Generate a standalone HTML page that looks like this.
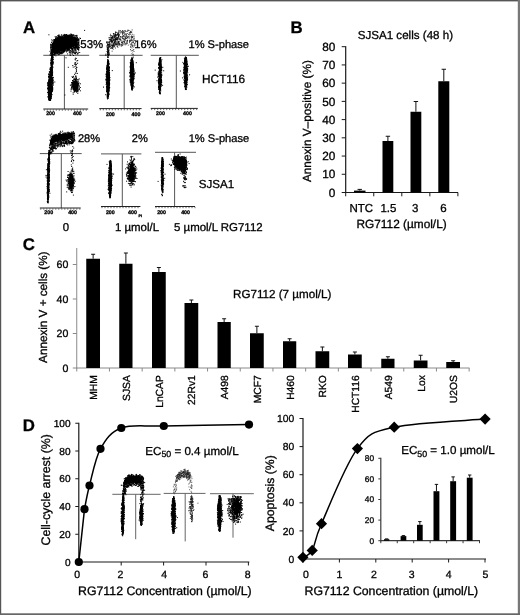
<!DOCTYPE html><html><head><meta charset="utf-8"><title>Figure</title>
<style>html,body{margin:0;padding:0;background:#fff}svg{display:block}text{font-family:'Liberation Sans', Arial, sans-serif;fill:#000;stroke:#000;stroke-width:0.3px;text-rendering:geometricPrecision}</style></head><body>
<svg width="520" height="615" viewBox="0 0 520 615">
<rect x="0" y="0" width="520" height="615" fill="#fff"/>
<rect x="0" y="0" width="520" height="1.4" fill="#555"/>
<rect x="0" y="0" width="1.2" height="615" fill="#555"/>
<rect x="517.8" y="0" width="2.2" height="615" fill="#777"/>
<rect x="0" y="613.3" width="520" height="1.7" fill="#666"/>
<text x="22.9" y="33" font-size="16.8" text-anchor="start" font-weight="bold">A</text>
<text x="290.4" y="32.8" font-size="16.8" text-anchor="start" font-weight="bold">B</text>
<text x="22.8" y="250.3" font-size="16.8" text-anchor="start" font-weight="bold">C</text>
<text x="22.8" y="431" font-size="16.8" text-anchor="start" font-weight="bold">D</text>
<text x="80.3" y="47.9" font-size="11.4" text-anchor="start">53%</text>
<text x="134.3" y="47.9" font-size="11.1" text-anchor="start">16%</text>
<text x="188.5" y="47.8" font-size="11.1" text-anchor="start">1% S-phase</text>
<text x="202.1" y="82.8" font-size="11.8" text-anchor="start">HCT116</text>
<text x="77.9" y="142.2" font-size="11.1" text-anchor="start">28%</text>
<text x="131.8" y="142.2" font-size="11.1" text-anchor="start">2%</text>
<text x="188.7" y="142.2" font-size="11.1" text-anchor="start">1% S-phase</text>
<text x="198.8" y="187.9" font-size="11.6" text-anchor="start">SJSA1</text>
<text x="138.6" y="217.3" font-size="3.6" text-anchor="start" font-weight="bold">PI</text>
<text x="66" y="231.3" font-size="11.4" text-anchor="middle">0</text>
<text x="114.9" y="231.3" font-size="11.45" text-anchor="start">1 µmol/L</text>
<text x="174.0" y="231.3" font-size="11.45" text-anchor="start">5 µmol/L RG7112</text>
<line x1="43.3" y1="55.3" x2="89.2" y2="55.3" stroke="#555" stroke-width="1"/>
<line x1="64.4" y1="55.3" x2="64.4" y2="109" stroke="#555" stroke-width="1"/>
<line x1="43.3" y1="109" x2="88.2" y2="109" stroke="#222" stroke-width="1"/>
<path d="M44.3 109.4v1.3M47.3 109.4v1.3M50.3 109.4v1.3M53.3 109.4v1.3M56.3 109.4v1.3M59.3 109.4v1.3M62.3 109.4v1.3M65.3 109.4v1.3M68.3 109.4v1.3M71.3 109.4v1.3M74.3 109.4v1.3M77.3 109.4v1.3M80.3 109.4v1.3M83.3 109.4v1.3M86.3 109.4v1.3" stroke="#222" stroke-width="0.7" fill="none"/>
<text x="50.6" y="114.6" font-size="5.3" text-anchor="middle" font-weight="bold">200</text>
<text x="77.4" y="114.6" font-size="5.3" text-anchor="middle" font-weight="bold">400</text>
<path d="M51.3 53.0L52.0 45.0L54.0 40.5L57.0 37.6L62.0 36.2L68.0 36.0L73.0 36.5L77.0 38.5L77.3 45.5L74.0 47.0L69.0 48.2L63.0 50.6L57.0 52.8Z" fill="#000" opacity="1"/>
<path d="M68.4 39.5h1M56.2 47.1h1M58.8 53.1h1M75.4 35.6h1M63.8 47.3h1M58.9 46.3h1M57.6 43.0h1M56.7 46.4h1M62.4 45.0h1M66.0 51.9h1M67.3 36.0h1M55.6 43.6h1M54.3 49.8h1M68.6 39.9h1M51.0 52.1h1M63.8 34.4h1M63.5 40.3h1M76.6 45.1h1M64.5 39.6h1M62.9 51.7h1M56.4 39.7h1M55.3 45.4h1M70.7 48.6h1M55.9 52.3h1M60.2 52.5h1M53.9 47.2h1M57.6 42.6h1M74.6 44.2h1M71.9 37.2h1M64.2 50.1h1M64.5 41.2h1M75.0 46.5h1M59.9 45.1h1M66.9 37.2h1M51.0 50.4h1M60.7 49.1h1M59.3 37.1h1M54.2 40.0h1M61.3 53.9h1M66.6 44.8h1M66.7 42.8h1M68.5 44.3h1M69.3 37.2h1M54.7 44.8h1M62.6 39.3h1M56.9 38.0h1M60.7 42.8h1M77.7 44.0h1M56.7 49.4h1M69.1 47.2h1M69.1 47.9h1M53.4 52.6h1M74.0 43.1h1M76.2 40.7h1M66.8 45.1h1M54.0 55.1h1M55.0 46.8h1M77.7 45.1h1M66.2 50.7h1M54.9 40.2h1M68.4 35.3h1M67.2 39.9h1M60.9 38.1h1M61.4 39.7h1M56.9 53.8h1M75.7 40.2h1M62.5 45.9h1M64.9 48.5h1M59.5 50.5h1M71.7 42.9h1M61.1 52.0h1M78.5 39.4h1M68.9 44.9h1M64.3 49.3h1M75.1 46.5h1M59.5 45.2h1M67.3 49.5h1M70.0 48.1h1M59.8 41.3h1M65.0 36.2h1M71.8 39.3h1M53.9 47.2h1M73.6 43.2h1M53.6 54.3h1M61.7 46.6h1M73.2 45.8h1M50.8 51.0h1M68.8 47.0h1M72.7 48.9h1M64.9 37.8h1M70.1 47.2h1M55.8 43.0h1M60.1 37.3h1M54.3 44.2h1M59.2 40.3h1M66.3 37.2h1M77.2 40.7h1M63.2 44.6h1M77.5 39.0h1M64.2 38.6h1M65.3 42.4h1M71.8 34.9h1M76.0 46.7h1M61.4 41.8h1M76.3 39.4h1M62.7 40.5h1M57.4 50.2h1M72.8 47.5h1M70.4 34.8h1M70.7 35.5h1M68.5 48.8h1M78.1 49.5h1M59.2 41.0h1M61.6 52.0h1M55.6 39.2h1M55.9 37.0h1M76.3 48.0h1M74.2 36.9h1M67.6 50.3h1M62.5 45.2h1M67.4 47.8h1M68.0 49.2h1M59.0 46.6h1M77.6 38.6h1M63.8 49.0h1M68.0 36.6h1M68.9 40.5h1M54.9 43.1h1M61.3 36.9h1M71.7 48.4h1M71.2 42.3h1M53.2 42.8h1M76.0 38.6h1M74.2 44.8h1M75.1 47.0h1M50.9 53.0h1M49.9 55.3h1M57.5 50.2h1M56.9 52.1h1M54.6 48.1h1M65.9 40.5h1M51.1 47.9h1M69.0 45.0h1M58.5 51.6h1M65.3 34.7h1M68.9 49.0h1M67.4 37.3h1M55.1 45.4h1M65.8 48.8h1M72.7 44.7h1M74.6 47.8h1M50.3 44.2h1M59.4 36.0h1M59.1 37.3h1M53.5 52.4h1M68.0 49.5h1M58.4 46.3h1M75.0 46.5h1M73.0 45.4h1M53.7 49.9h1M72.2 41.4h1M75.2 44.3h1M55.6 44.4h1M66.3 48.0h1M69.3 38.6h1M67.4 35.0h1M68.5 38.2h1M74.5 49.8h1M59.5 44.0h1M70.8 37.0h1M74.9 43.9h1M54.4 45.4h1M68.8 42.5h1M55.0 38.1h1M67.2 48.1h1M77.1 44.2h1M60.8 41.2h1M57.3 39.6h1M63.4 49.6h1M67.9 41.2h1M52.2 45.8h1M60.5 39.7h1M54.0 49.5h1M69.5 43.1h1M74.2 44.6h1M60.5 48.9h1M65.6 50.0h1M56.2 42.6h1M57.2 52.2h1M60.0 41.9h1M51.5 53.0h1M71.4 48.5h1M58.2 46.6h1M52.6 50.1h1M71.8 37.3h1M53.8 54.6h1M53.7 51.4h1M76.3 47.1h1M58.0 50.0h1M58.6 37.1h1M68.0 41.2h1M62.8 50.3h1M75.9 44.5h1M59.9 42.8h1M70.4 37.0h1M71.1 47.9h1M70.2 42.2h1M55.8 37.0h1M57.8 52.3h1M65.2 49.1h1M71.7 49.8h1M52.5 45.6h1M54.7 45.5h1M72.8 42.3h1M74.1 40.5h1M72.8 38.1h1M61.2 37.9h1M68.5 46.8h1M54.8 40.8h1M70.9 38.6h1M71.2 36.2h1M70.7 41.2h1M62.6 50.9h1M61.7 43.9h1M50.0 47.9h1M73.3 35.4h1M66.1 40.8h1M60.6 53.3h1M61.2 38.5h1M76.1 44.2h1M61.1 38.5h1M54.3 44.3h1M53.3 42.8h1M71.3 36.0h1M53.3 46.2h1M78.1 46.2h1M52.8 49.0h1M54.8 45.2h1M66.0 41.5h1M62.0 39.8h1M71.4 40.8h1M75.9 39.6h1M56.4 54.2h1M51.9 49.8h1M63.3 50.2h1M59.2 46.9h1M59.2 38.1h1M69.9 47.4h1M62.5 49.7h1M51.5 49.7h1M78.8 45.0h1M56.7 46.5h1M61.2 47.7h1M56.1 40.8h1M53.1 54.1h1M50.3 47.7h1M53.7 40.3h1M54.3 53.5h1M74.6 35.7h1M63.0 45.8h1M69.5 37.5h1M57.8 50.6h1M64.7 36.1h1M57.2 41.9h1M64.1 37.9h1M65.7 35.5h1M60.7 41.0h1M75.3 48.6h1M55.2 48.8h1M53.0 54.9h1M78.3 47.9h1M56.5 50.9h1M64.2 36.2h1M64.8 50.3h1M76.0 46.7h1M67.4 45.8h1M56.5 50.1h1M63.8 41.9h1M71.3 36.4h1M73.9 45.0h1M71.8 36.2h1M74.3 45.3h1M69.5 39.0h1M58.6 48.2h1M54.3 41.0h1M54.0 42.6h1M66.9 40.8h1M53.6 49.8h1M63.9 40.3h1M52.0 43.5h1M78.0 47.6h1M66.8 35.4h1M73.4 39.4h1M57.8 36.4h1M70.3 38.8h1M68.6 45.3h1M77.8 41.1h1M61.7 39.3h1M69.8 45.5h1M73.9 47.9h1M59.7 48.9h1M55.6 40.7h1M66.4 36.3h1M72.2 43.7h1M71.2 34.8h1M50.1 53.4h1M77.7 47.4h1M63.5 43.7h1M61.7 36.5h1M64.5 44.8h1M70.6 38.3h1M52.2 54.6h1M50.9 45.1h1M62.2 40.0h1M67.7 48.6h1M65.1 38.1h1M52.3 47.2h1M66.9 35.5h1M55.3 49.6h1M75.3 42.0h1M55.9 49.1h1M63.0 50.7h1M70.5 46.7h1M73.4 48.2h1M73.2 36.2h1M69.0 39.6h1M68.5 41.6h1M61.1 39.0h1M65.5 38.0h1M61.3 53.1h1M71.7 35.4h1M61.0 38.0h1M63.7 50.0h1M71.4 39.7h1M64.7 39.9h1M61.1 44.1h1M73.7 37.2h1M72.1 40.1h1M60.7 49.8h1M75.0 41.9h1M66.5 48.9h1M65.9 40.8h1M69.2 36.2h1M69.3 35.0h1M66.8 41.1h1M61.3 52.6h1M54.7 53.1h1M58.3 49.0h1M57.9 50.1h1M61.7 37.8h1M60.2 53.1h1M59.7 43.3h1M66.6 51.3h1M61.1 40.9h1M56.6 48.0h1M75.7 42.7h1M64.2 44.0h1M70.5 44.7h1M58.7 50.0h1M65.0 48.7h1M55.9 52.8h1M61.5 37.7h1M73.7 39.6h1M74.0 47.7h1M72.3 44.2h1M63.5 38.4h1M60.3 47.8h1M55.1 52.3h1M58.9 52.7h1M69.3 43.4h1M71.8 39.6h1M51.1 52.1h1M62.1 42.6h1M70.7 39.7h1M57.1 51.9h1M60.6 41.5h1M57.5 42.2h1M63.6 43.7h1M64.7 45.5h1M68.3 38.4h1M55.0 39.8h1M77.4 40.1h1M58.5 39.9h1M58.6 45.2h1M57.5 35.6h1M51.7 50.3h1M61.4 38.0h1M72.0 43.9h1M70.9 46.7h1M55.3 38.1h1M54.0 43.6h1M59.0 45.5h1M71.6 46.2h1M69.2 36.6h1M71.9 46.0h1M70.8 48.4h1M60.4 38.7h1M57.1 45.1h1M62.2 48.6h1M62.9 51.5h1M53.6 52.3h1M62.7 39.0h1M52.7 46.9h1M53.5 48.3h1M53.7 52.6h1M58.3 42.6h1M50.4 53.0h1M55.4 51.3h1M55.2 42.2h1M63.2 45.2h1M61.9 49.9h1M54.8 53.1h1M57.1 37.9h1M54.1 48.8h1M67.9 35.5h1M61.5 44.8h1M74.4 39.8h1M76.1 40.7h1M68.3 45.4h1M69.0 47.2h1M66.9 42.5h1M56.2 49.1h1M75.4 38.9h1M59.4 53.0h1M50.8 54.0h1M75.0 47.9h1M67.7 46.2h1M68.8 42.8h1M69.4 42.0h1M65.9 45.4h1M77.0 38.8h1M67.5 42.8h1M59.7 45.3h1M64.5 35.9h1M70.8 40.4h1M69.5 46.9h1M61.6 51.2h1M74.3 47.6h1M70.6 47.7h1M58.6 47.8h1M53.2 42.0h1M54.5 52.4h1M58.3 54.2h1M61.8 38.7h1M57.9 54.7h1M70.1 47.0h1M61.3 47.1h1M72.8 39.4h1M56.8 43.4h1M54.1 48.8h1M73.0 39.7h1M69.0 49.2h1M56.6 39.7h1M56.7 49.8h1M57.7 42.7h1M53.7 47.1h1M64.1 36.7h1M50.4 48.8h1M74.2 47.1h1M52.1 53.4h1M59.1 47.3h1M67.4 42.8h1M62.8 49.8h1M75.2 39.2h1M58.6 47.8h1M72.2 48.7h1M68.6 45.9h1M71.1 40.0h1M70.3 38.4h1M61.4 40.7h1M78.1 39.6h1M70.0 45.7h1M54.8 46.3h1M57.9 51.7h1M63.4 44.3h1M57.8 37.1h1M55.4 46.7h1M57.7 40.2h1M54.8 51.6h1M63.0 43.3h1M55.2 39.0h1M77.3 47.9h1M57.4 47.4h1M67.0 41.8h1M63.8 37.9h1M51.9 52.8h1M52.9 50.6h1M73.0 47.1h1M67.2 47.1h1M74.8 40.9h1M75.3 44.6h1M65.0 45.6h1M60.0 53.1h1M51.1 42.7h1M56.9 51.7h1M63.7 50.4h1M62.4 46.3h1M58.0 43.8h1M61.4 40.4h1M54.5 48.0h1M51.4 42.1h1M66.5 42.9h1M77.2 42.2h1M66.0 38.8h1M68.7 35.8h1M58.6 35.2h1M66.6 47.9h1M71.5 40.2h1M66.3 44.1h1M66.1 47.0h1M55.0 51.7h1M66.5 50.1h1M68.0 42.5h1M54.0 44.4h1M70.8 38.2h1M61.4 35.0h1M57.1 53.5h1M59.8 43.4h1M65.6 44.9h1M66.2 39.2h1M53.3 54.4h1M73.4 42.6h1M77.5 40.0h1M56.5 45.1h1M54.4 44.1h1M59.4 38.6h1M54.4 47.5h1M63.5 50.4h1M76.5 44.2h1M51.7 47.7h1M53.9 48.4h1M63.7 35.5h1M65.1 40.1h1M62.7 41.8h1M53.7 53.8h1M60.2 45.0h1M79.3 38.1h1M73.2 41.6h1M58.1 43.5h1M73.4 44.4h1M74.7 44.9h1M63.5 40.3h1M64.6 35.1h1M54.0 49.5h1M54.0 44.4h1M58.8 49.0h1M54.8 42.0h1M53.5 45.4h1M60.1 40.9h1M67.5 35.9h1M50.9 52.7h1M58.7 41.6h1M70.6 36.5h1M57.3 46.7h1M61.8 52.0h1M71.5 47.9h1M61.4 37.5h1M75.1 42.5h1M76.8 40.2h1M57.0 43.7h1M62.7 52.1h1M53.7 39.6h1M70.1 38.4h1M63.2 45.0h1M54.3 46.9h1M53.9 53.4h1M76.6 41.9h1M53.2 47.7h1M59.2 45.4h1M76.5 35.4h1M66.9 40.7h1M66.5 48.9h1M63.6 36.6h1M65.9 37.4h1M72.0 48.3h1M69.0 49.1h1M54.1 49.3h1M73.5 48.0h1M62.1 46.3h1M76.3 36.4h1M57.0 49.8h1M63.3 38.2h1M78.5 45.4h1M77.0 40.4h1M60.9 43.4h1M61.4 48.4h1M61.0 44.0h1M71.6 40.3h1M63.8 51.6h1M61.3 47.7h1M60.6 43.5h1M62.4 53.0h1M54.0 48.8h1M51.4 55.7h1M71.4 48.4h1M70.0 46.1h1M72.2 49.4h1M56.2 52.0h1M58.2 44.5h1M58.4 47.5h1M72.1 35.7h1M60.7 51.0h1M58.9 49.1h1M55.1 41.7h1M52.2 44.8h1M71.7 43.0h1M58.2 51.8h1M68.2 43.2h1M61.1 40.6h1M66.2 39.3h1M56.2 42.9h1M60.2 37.7h1M70.0 35.7h1M56.6 48.7h1M54.5 40.5h1M57.7 39.8h1M67.7 48.4h1M51.6 46.0h1M63.9 38.3h1M67.9 38.7h1M69.9 47.7h1M59.0 48.2h1M59.2 41.9h1M51.7 44.6h1M55.9 51.8h1M59.3 48.5h1M51.5 46.7h1M76.8 48.3h1M62.6 44.4h1M56.2 50.0h1M70.4 38.5h1M57.0 52.5h1M78.2 42.6h1M52.6 46.1h1M59.0 36.7h1M50.1 50.0h1M55.8 48.6h1M53.0 52.6h1M68.8 44.7h1M75.3 39.2h1M59.9 47.0h1M59.9 51.7h1M73.1 34.8h1M69.2 47.3h1M65.7 43.2h1M67.9 43.5h1M52.6 51.7h1M56.5 53.3h1M68.0 37.5h1M64.7 46.6h1M49.7 54.7h1M75.8 35.4h1M51.6 44.7h1M54.2 42.5h1M69.7 42.9h1M73.3 40.0h1M73.3 40.2h1M63.2 39.9h1M50.2 46.7h1M74.9 44.2h1M56.4 48.2h1M61.6 41.3h1M59.8 53.1h1M64.3 42.5h1M63.0 51.7h1M55.7 43.2h1M71.1 43.2h1M64.1 47.2h1M75.1 37.4h1M76.2 45.1h1M58.8 36.9h1M57.6 39.1h1M77.3 46.6h1M66.9 45.4h1M64.8 41.9h1M64.0 50.2h1M62.5 49.3h1M77.5 47.0h1M78.0 47.1h1M53.0 47.3h1M53.9 49.2h1M67.2 36.4h1M55.6 43.9h1M69.7 46.6h1M63.2 39.0h1M78.0 42.7h1M65.2 35.3h1M62.8 38.2h1M56.7 42.6h1M49.5 51.4h1M66.0 45.7h1M60.9 35.0h1M64.6 39.0h1M58.4 47.8h1M69.1 39.2h1M55.0 39.1h1M76.3 47.6h1M77.1 45.3h1M64.1 40.2h1M62.8 46.1h1M74.9 47.5h1M73.2 39.2h1M58.6 40.3h1M58.4 35.0h1M66.9 41.9h1M76.3 38.6h1M50.8 49.9h1M65.7 36.5h1M60.3 52.7h1M59.4 49.2h1M57.5 52.8h1M67.4 40.0h1M51.8 50.6h1M68.8 35.3h1M77.8 44.2h1M77.8 44.7h1M54.8 45.7h1M55.2 43.8h1M75.5 42.6h1M67.7 49.5h1M65.7 42.7h1M55.4 42.6h1M64.5 50.6h1M58.1 36.1h1M53.2 50.8h1M53.1 47.5h1M74.1 44.2h1M77.2 49.4h1M54.2 43.3h1M57.8 43.5h1M66.3 43.8h1M61.7 51.1h1M61.7 38.9h1M56.1 44.3h1M58.9 52.4h1M61.1 53.0h1M63.1 49.0h1M75.9 46.2h1M57.0 45.6h1M70.7 47.5h1M58.8 44.5h1M76.0 42.3h1M61.2 39.0h1M64.3 35.7h1M75.9 42.8h1M69.5 50.2h1M52.0 45.9h1M59.0 54.0h1M77.7 47.7h1M54.7 43.2h1M55.8 51.7h1M64.2 34.7h1M67.7 45.8h1M59.0 41.0h1M52.7 42.4h1M73.2 45.2h1M73.4 35.3h1M53.9 48.9h1M64.1 36.6h1M67.2 49.9h1M61.8 45.6h1M75.5 48.0h1M61.1 49.8h1M71.2 44.7h1M71.0 38.4h1M56.8 43.7h1M78.5 41.2h1M61.6 45.2h1M61.6 35.8h1M72.0 49.6h1M54.5 44.2h1M70.3 35.2h1M63.6 44.6h1M57.8 36.9h1M76.6 46.4h1M58.6 36.5h1M61.9 37.8h1M77.1 48.4h1M77.2 48.3h1M64.6 40.2h1M65.6 46.7h1M56.1 41.6h1M60.5 37.1h1M58.6 46.6h1M67.3 49.9h1M74.3 49.0h1M77.1 44.6h1M59.1 40.8h1M65.8 34.9h1M61.3 48.3h1M78.3 43.2h1M53.8 54.1h1M75.1 39.5h1M57.7 49.8h1M58.2 53.7h1M75.4 39.5h1M51.8 54.1h1M53.6 42.2h1M71.3 48.4h1M53.4 46.3h1M64.7 46.5h1M57.6 35.6h1M65.9 46.3h1M71.0 40.2h1M75.3 41.8h1M77.8 47.9h1M62.5 49.4h1M71.9 38.3h1M51.3 39.8h1M66.1 37.4h1M72.6 42.6h1M75.3 42.9h1M51.2 45.0h1M70.8 44.2h1M55.4 44.5h1M57.4 43.1h1M58.7 49.2h1M66.8 40.1h1M68.4 38.1h1M77.3 42.8h1M55.5 43.5h1M59.8 44.3h1M66.3 37.1h1M64.3 42.2h1M68.8 41.3h1M58.8 51.2h1M51.3 49.3h1M63.2 35.3h1M75.7 43.4h1M67.0 50.2h1M50.4 45.5h1M62.9 48.3h1M67.2 48.5h1M67.5 46.0h1M59.0 43.1h1M66.9 39.3h1M75.7 47.2h1M64.3 47.1h1M73.4 39.8h1M78.3 42.9h1M57.6 39.5h1M53.6 45.1h1M74.3 41.7h1M58.1 36.5h1M75.2 50.0h1M68.3 48.3h1M51.2 51.5h1M77.3 39.4h1M74.5 45.3h1M59.0 47.8h1M53.4 40.8h1M75.4 36.9h1M63.3 52.4h1M64.0 44.3h1M57.4 43.5h1M61.8 53.1h1M67.3 46.3h1M75.8 43.8h1M53.6 40.9h1M63.7 49.8h1M64.1 38.7h1M52.5 49.4h1M64.4 51.4h1M76.2 44.9h1M61.0 39.3h1M57.6 46.8h1M58.5 40.7h1M55.4 54.0h1M69.6 35.8h1M58.5 36.4h1M75.2 42.4h1M76.8 49.1h1M57.1 49.5h1M60.8 50.4h1M76.8 43.6h1M72.2 45.0h1M70.5 33.9h1M76.5 46.4h1M77.8 40.0h1M70.5 40.0h1M75.2 42.0h1M59.7 37.0h1M52.9 48.1h1M71.7 45.2h1M61.3 42.2h1M78.8 47.3h1M64.7 40.0h1M58.7 44.1h1M60.0 39.2h1M59.4 54.3h1M52.5 45.1h1M76.8 37.4h1M55.0 47.2h1M76.3 47.3h1M65.9 35.3h1M69.5 35.0h1M71.1 44.3h1M64.1 47.4h1M64.5 36.0h1M68.7 42.1h1M51.3 47.2h1M56.0 47.3h1M76.1 43.1h1M53.7 48.8h1M64.8 39.6h1M55.5 39.4h1M61.6 42.9h1M65.3 49.3h1M70.9 41.4h1M77.3 42.0h1M59.9 38.5h1M78.3 40.5h1M54.7 41.5h1M64.1 51.2h1M70.4 39.7h1M61.2 50.1h1M62.7 39.3h1M62.1 38.0h1M60.6 39.7h1M64.3 36.8h1M58.1 42.5h1M57.4 45.0h1M53.4 48.1h1M63.0 35.3h1M59.2 38.0h1M74.3 37.4h1M73.4 40.5h1M59.6 38.3h1M75.6 42.4h1M59.6 36.9h1M65.7 47.8h1M78.4 47.3h1M53.3 42.2h1M77.9 43.2h1M69.5 40.6h1M74.9 44.6h1M59.5 52.7h1M70.1 47.1h1M58.3 49.2h1M64.6 40.2h1M69.3 39.0h1M55.3 39.1h1M51.1 52.8h1M58.9 51.5h1M68.7 43.5h1M51.1 50.3h1M69.0 37.3h1M65.7 48.3h1M67.3 35.5h1M56.0 53.1h1M67.1 37.9h1M68.5 43.1h1M54.7 36.7h1M66.0 34.6h1M59.3 36.8h1M55.6 47.1h1M73.5 50.7h1M56.0 46.4h1M62.5 42.0h1M60.0 48.2h1M75.4 42.3h1M60.9 42.0h1M72.1 49.7h1M57.5 44.2h1M64.7 39.0h1M57.3 45.9h1M56.5 43.8h1M56.7 44.6h1M54.2 47.6h1M76.3 37.2h1M68.3 37.9h1M69.4 40.7h1M50.6 47.0h1M60.0 46.4h1M74.3 48.2h1M68.7 38.4h1M71.7 42.2h1M64.5 37.8h1M55.3 49.4h1M75.6 45.1h1M57.0 39.3h1M55.4 39.7h1M50.0 44.8h1M69.1 40.3h1M61.8 38.0h1M65.2 49.0h1M54.1 52.4h1M58.7 45.5h1M54.1 54.4h1M60.4 44.5h1M65.0 38.4h1M55.1 43.6h1M72.2 44.6h1M73.8 39.0h1M67.1 43.7h1M70.1 47.5h1M56.6 37.2h1M73.6 43.3h1M68.7 47.0h1M54.6 40.0h1M71.1 46.6h1M71.0 38.7h1M66.0 45.2h1M63.5 45.0h1M51.6 46.1h1M56.7 39.7h1M80.0 38.5h1M62.5 50.6h1M68.4 50.4h1M53.7 51.0h1M66.6 45.6h1M78.5 48.1h1M61.7 46.9h1M58.1 51.9h1M54.5 48.2h1M58.7 50.5h1M76.4 39.5h1M64.6 48.3h1M68.4 39.4h1M71.8 43.3h1M50.3 52.2h1M55.1 53.1h1M51.8 50.7h1M54.9 54.2h1M69.7 47.5h1M53.6 39.6h1M63.1 49.3h1M61.1 47.7h1M71.0 47.0h1M69.4 47.1h1M52.4 45.0h1M70.9 48.1h1M62.6 38.5h1M57.6 44.4h1M64.7 46.9h1M53.7 39.9h1M70.2 47.0h1M69.5 35.8h1M56.9 51.8h1M59.8 37.7h1M61.0 40.1h1M57.4 52.3h1M76.6 37.4h1M63.6 38.3h1M64.5 46.7h1M70.0 50.7h1M60.9 45.0h1M71.9 50.0h1M67.0 39.1h1M75.5 41.7h1M60.2 44.4h1M62.7 41.0h1M57.1 38.5h1M55.4 55.8h1M53.9 52.2h1M63.4 43.4h1M61.3 51.8h1M71.2 34.5h1M71.8 44.4h1M65.8 40.0h1M77.8 52.2h1M69.8 55.5h1M78.0 49.4h1M75.0 53.0h1M74.5 49.6h1M77.9 49.4h1M72.6 51.4h1M68.6 51.1h1M68.8 52.3h1M71.2 51.4h1M75.4 49.9h1M73.4 52.5h1M75.4 50.9h1M71.4 53.1h1M74.5 53.4h1M74.8 53.5h1M73.0 55.5h1M69.6 54.4h1M71.1 49.8h1M76.2 52.3h1M70.0 51.9h1M78.1 49.5h1M69.0 51.0h1M70.5 52.3h1M77.5 53.2h1M73.7 51.8h1M74.8 52.7h1M77.1 53.9h1M72.0 52.8h1M72.4 52.1h1M73.4 50.3h1M69.7 53.2h1M69.4 52.7h1M75.3 51.1h1M79.2 52.5h1M78.2 50.3h1M71.8 54.2h1M75.4 54.1h1M77.3 53.9h1M71.7 50.7h1M75.9 52.3h1M72.4 51.7h1M67.1 53.9h1M73.5 52.5h1M73.7 53.6h1M51.7 62.1h1M50.4 75.5h1M52.0 61.5h1M51.9 54.6h1M50.9 79.1h1M52.2 61.9h1M50.5 71.7h1M50.7 78.5h1M51.6 54.8h1M50.4 76.6h1M52.6 59.0h1M52.0 63.7h1M50.0 69.8h1M51.2 78.5h1M50.8 68.4h1M50.9 81.6h1M51.1 71.8h1M51.2 65.9h1M51.8 57.8h1M51.0 77.7h1M51.6 59.8h1M50.8 75.4h1M51.6 57.8h1M51.8 62.8h1M50.3 74.2h1M51.1 70.3h1M50.6 80.1h1M50.8 70.4h1M51.9 61.7h1M50.3 70.3h1M50.7 74.7h1M50.5 73.8h1M50.8 80.5h1M50.8 70.9h1M50.9 75.4h1M51.9 55.8h1M50.3 65.0h1M51.3 73.1h1M51.6 54.4h1M51.4 60.4h1M51.0 71.8h1M51.6 70.4h1M51.7 68.9h1M52.4 67.6h1M51.1 73.8h1M51.5 57.2h1M51.1 63.7h1M51.0 79.0h1M51.4 78.7h1M51.9 56.5h1M50.6 76.4h1M50.8 79.9h1M51.7 60.6h1M51.7 57.7h1M50.6 73.0h1M49.7 71.4h1M51.0 64.9h1M52.1 64.7h1M51.5 65.4h1M50.3 61.0h1M51.2 68.1h1M50.2 81.1h1M51.3 80.4h1M51.0 75.9h1M50.3 71.4h1M51.9 63.5h1M50.5 77.3h1M51.3 73.3h1M50.7 79.9h1M50.8 62.2h1M51.9 61.4h1M50.2 78.8h1M52.3 60.8h1M50.6 81.3h1M50.8 63.7h1M50.7 59.0h1M51.5 77.3h1M51.1 59.5h1M51.0 59.3h1M52.5 63.9h1M51.0 74.1h1M50.6 80.7h1M51.0 71.4h1M51.2 64.0h1M52.9 77.4h1M50.7 80.9h1M50.5 60.5h1M52.7 59.6h1M51.8 69.2h1M50.3 78.8h1M50.2 62.7h1M50.8 64.0h1M50.8 77.3h1M51.5 67.2h1M51.1 73.1h1M51.7 53.6h1M50.6 70.9h1M52.1 59.2h1M51.2 68.1h1M52.8 62.0h1M51.1 60.3h1M52.0 57.2h1M51.5 62.8h1M51.1 61.8h1M51.0 67.7h1M51.7 58.6h1M50.5 71.6h1M50.7 77.2h1M51.6 73.4h1M50.4 68.3h1M52.3 58.0h1M51.4 73.0h1M50.7 78.2h1M52.3 56.4h1M52.5 63.2h1M51.6 68.5h1M51.5 65.3h1M52.2 72.0h1M50.2 70.5h1M51.1 60.2h1M51.1 68.3h1M50.6 81.9h1M51.0 66.9h1M50.5 63.0h1M52.1 55.8h1M51.7 57.7h1M50.8 78.7h1M51.9 72.3h1M51.0 64.7h1M51.2 67.3h1M51.8 58.5h1M51.0 66.2h1M51.3 65.0h1M51.3 75.0h1M51.2 69.1h1M52.2 66.4h1M51.3 58.5h1M51.5 65.3h1M50.2 72.7h1M50.7 79.2h1M51.6 55.2h1M52.3 64.0h1M52.0 57.9h1M51.6 67.7h1M51.2 80.4h1M51.1 80.3h1M51.5 72.4h1M51.4 57.5h1M50.5 63.8h1M51.2 67.1h1M51.7 55.2h1M50.6 74.0h1M50.7 76.0h1M50.2 80.3h1M51.3 79.1h1M50.5 68.0h1M50.7 69.5h1M51.1 76.3h1M50.2 81.2h1M51.7 71.3h1M51.6 72.3h1M51.7 55.9h1M50.5 67.9h1M50.6 77.5h1M49.9 74.5h1M51.4 57.9h1M50.8 77.1h1M50.5 75.3h1M51.3 57.0h1M51.3 74.2h1M52.4 59.5h1M50.7 62.9h1M50.5 78.7h1M50.1 67.6h1M51.5 71.4h1M50.7 80.0h1M51.0 81.8h1M51.7 56.7h1M50.5 81.7h1M50.5 80.0h1M52.0 62.1h1M50.0 71.5h1M51.4 74.5h1M51.0 76.2h1M51.4 59.4h1M50.6 69.7h1M52.2 56.2h1M52.5 57.2h1M51.7 54.5h1M51.8 61.1h1M52.6 62.3h1M50.7 71.3h1M50.9 73.0h1M50.4 81.5h1M50.8 76.0h1M51.7 55.8h1M51.8 53.5h1M50.5 74.7h1M51.2 55.8h1M50.4 67.2h1M50.4 78.3h1M51.9 62.5h1M50.6 77.9h1M50.4 79.0h1M51.8 64.0h1M51.9 57.8h1M50.8 66.3h1M51.0 64.5h1M52.6 57.4h1M51.7 62.5h1M51.0 61.2h1M51.8 58.2h1M51.0 73.5h1M51.9 70.0h1M51.6 53.9h1M51.7 69.7h1M51.8 59.9h1M51.7 53.2h1M50.8 81.6h1M51.6 72.2h1M50.5 65.0h1M51.2 81.0h1M51.1 58.2h1M50.5 70.9h1M51.6 57.1h1M51.5 72.8h1M52.0 57.5h1M52.5 62.8h1M52.0 70.4h1M51.0 76.9h1M51.4 77.6h1M52.1 75.5h1M51.8 57.8h1M49.7 68.1h1M51.2 62.7h1M51.3 56.6h1M51.3 68.3h1M50.7 79.5h1M50.6 63.4h1M51.5 54.9h1M50.6 80.5h1M51.2 66.7h1M51.2 54.6h1M52.0 66.7h1M51.6 59.9h1M51.4 62.9h1M51.9 56.7h1M50.8 63.5h1M50.7 79.8h1M50.9 80.8h1M51.7 73.1h1M52.0 55.2h1M50.8 75.2h1M50.4 77.8h1M51.3 78.7h1M51.0 77.6h1M50.5 80.9h1M50.5 59.1h1M51.2 58.8h1M49.9 68.2h1M51.3 83.9h1M49.7 94.5h1M48.9 83.9h1M50.3 86.8h1M51.6 78.6h1M50.6 87.5h1M52.5 82.8h1M51.4 79.5h1M50.2 90.9h1M49.9 82.9h1M50.1 94.8h1M51.4 85.5h1M50.9 86.6h1M50.7 92.5h1M50.0 90.6h1M50.5 91.7h1M51.5 81.0h1M49.4 98.5h1M48.2 87.9h1M52.1 81.3h1M50.0 96.0h1M49.2 95.7h1M50.0 88.6h1M49.7 80.5h1M48.4 76.3h1M49.8 80.6h1M48.4 94.9h1M49.9 91.9h1M49.8 82.4h1M49.9 100.0h1M49.9 81.1h1M50.5 80.2h1M49.5 83.9h1M49.5 94.7h1M48.1 86.3h1M51.2 82.3h1M49.9 89.2h1M49.1 89.9h1M49.7 95.2h1M49.3 90.1h1M48.9 90.1h1M50.3 81.5h1M51.3 86.3h1M49.4 89.2h1M48.2 91.9h1M49.1 85.5h1M51.9 88.7h1M48.9 83.9h1M51.4 78.5h1M54.3 82.0h1M50.5 90.4h1M48.6 94.7h1M49.0 72.7h1M49.2 91.5h1M52.1 73.9h1M49.4 96.4h1M50.1 94.7h1M49.3 96.1h1M49.6 90.6h1M49.8 96.7h1M50.0 95.1h1M52.1 89.9h1M49.6 92.3h1M49.5 89.3h1M49.1 84.0h1M48.3 92.1h1M47.9 85.3h1M50.8 81.4h1M47.6 88.9h1M51.1 92.2h1M50.5 92.8h1M49.3 93.7h1M48.8 78.4h1M49.9 86.7h1M49.7 92.6h1M51.3 78.7h1M49.1 82.0h1M49.2 96.6h1M49.8 84.9h1M50.1 72.3h1M49.0 89.8h1M47.8 82.8h1M49.6 69.0h1M49.1 98.0h1M48.6 90.8h1M50.6 92.9h1M50.5 92.5h1M52.0 79.7h1M49.6 99.9h1M52.0 87.7h1M49.7 87.7h1M49.1 93.3h1M52.4 78.3h1M48.8 79.5h1M49.8 75.6h1M49.4 91.7h1M51.5 88.3h1M49.2 99.9h1M50.5 91.9h1M49.3 86.2h1M48.3 86.7h1M49.7 95.9h1M50.1 84.5h1M48.7 79.2h1M48.8 88.6h1M49.0 97.8h1M50.2 96.4h1M50.0 93.8h1M50.1 87.1h1M50.4 86.5h1M49.3 85.9h1M49.8 97.5h1M49.1 85.2h1M48.9 74.8h1M49.0 85.6h1M50.1 85.1h1M49.7 94.5h1M50.9 90.3h1M49.5 69.5h1M49.5 89.0h1M50.6 76.3h1M48.7 86.7h1M50.5 70.6h1M49.3 87.0h1M48.7 96.5h1M49.8 100.3h1M48.7 76.9h1M50.8 91.1h1M49.5 82.0h1M48.8 94.6h1M48.8 86.3h1M49.1 98.9h1M48.8 91.3h1M49.6 98.3h1M47.7 90.7h1M50.1 98.5h1M50.2 96.1h1M51.3 89.8h1M48.6 87.7h1M48.5 99.5h1M49.1 86.9h1M49.5 90.4h1M49.9 93.5h1M50.7 93.5h1M49.6 91.5h1M50.1 84.4h1M48.0 89.3h1M51.9 88.9h1M48.8 97.9h1M49.7 97.0h1M51.3 81.1h1M48.9 87.9h1M50.3 70.0h1M51.6 89.8h1M49.7 80.5h1M50.6 93.6h1M50.4 79.4h1M50.1 87.1h1M50.8 84.2h1M49.4 96.4h1M49.8 81.3h1M51.2 81.1h1M49.8 95.4h1M50.7 76.0h1M48.4 89.2h1M50.1 80.0h1M51.3 75.1h1M51.1 79.1h1M50.1 90.5h1M49.4 80.3h1M49.6 75.2h1M50.6 72.4h1M51.6 75.5h1M50.0 82.2h1M51.0 91.9h1M49.3 99.6h1M50.8 93.0h1M48.6 89.3h1M50.4 72.8h1M48.5 89.3h1M50.8 79.3h1M50.4 89.5h1M49.2 76.1h1M49.0 97.9h1M49.2 92.5h1M48.0 86.5h1M48.7 87.4h1M48.8 85.5h1M50.8 85.4h1M50.0 99.8h1M49.2 99.3h1M49.3 94.5h1M50.2 82.8h1M49.4 81.4h1M49.4 91.6h1M51.0 77.0h1M49.8 94.4h1M49.5 96.8h1M49.3 81.7h1M51.8 81.9h1M49.0 91.7h1M50.1 82.9h1M48.6 93.1h1M49.4 78.7h1M49.7 93.4h1M49.6 80.5h1M50.6 84.3h1M50.0 83.3h1M48.2 91.9h1M47.5 92.6h1M50.8 90.9h1M49.1 91.5h1M50.6 96.8h1M49.5 96.9h1M48.9 90.1h1M50.7 81.8h1M49.4 94.2h1M49.7 92.1h1M48.7 87.2h1M50.7 85.2h1M51.1 88.2h1M49.8 74.1h1M52.1 77.7h1M49.1 94.0h1M49.8 95.6h1M47.9 84.4h1M48.1 77.0h1M52.5 80.4h1M51.5 87.2h1M50.2 97.9h1M47.8 84.8h1M49.8 94.9h1M50.6 77.5h1M50.0 84.1h1M50.0 92.3h1M48.7 90.0h1M49.4 98.3h1M48.9 99.6h1M49.7 79.2h1M50.3 86.5h1M48.9 88.8h1M49.3 95.8h1M49.2 93.0h1M50.2 74.4h1M51.1 75.3h1M49.6 98.2h1M50.2 89.2h1M48.2 83.1h1M49.4 84.9h1M50.7 90.1h1M48.8 94.2h1M49.4 84.1h1M48.9 80.9h1M51.4 88.3h1M50.0 71.7h1M49.0 97.0h1M50.8 80.8h1M50.2 97.3h1M50.7 75.0h1M50.7 92.3h1M50.1 87.6h1M50.0 76.5h1M49.3 88.0h1M49.1 95.5h1M49.1 87.7h1M50.3 86.2h1M49.5 92.8h1M49.5 98.3h1M50.7 84.4h1M49.7 90.3h1M48.7 98.1h1M48.9 87.6h1M48.5 91.9h1M47.9 94.0h1M50.3 76.4h1M48.9 99.4h1M48.6 79.4h1M48.5 86.2h1M50.5 92.4h1M49.8 77.6h1M51.2 80.2h1M49.6 90.2h1M49.2 96.1h1M50.2 92.6h1M50.1 94.8h1M49.9 89.4h1M48.8 80.8h1M49.5 81.1h1M48.7 79.3h1M49.3 99.4h1M49.6 95.2h1M51.1 92.6h1M51.5 87.8h1M50.1 95.5h1M51.1 76.7h1M50.3 81.0h1M52.5 80.8h1M50.9 94.8h1M52.5 84.0h1M50.1 91.0h1M50.3 87.9h1M51.3 80.0h1M50.0 89.1h1M50.5 71.8h1M48.7 84.2h1M50.6 92.1h1M49.7 94.3h1M50.7 88.8h1M49.7 83.3h1M47.9 92.7h1M50.6 80.1h1M51.4 77.4h1M48.5 94.4h1M48.7 93.7h1M49.3 100.4h1M50.1 71.9h1M47.8 83.2h1M51.6 91.1h1M50.3 96.2h1M49.0 93.7h1M48.6 99.3h1M50.0 93.2h1M50.6 98.4h1M51.0 78.5h1M50.1 98.2h1M48.7 88.0h1M49.5 99.6h1M48.2 81.0h1M52.1 88.2h1M50.4 90.0h1M47.4 82.9h1M47.8 93.1h1M49.8 97.3h1M50.1 81.6h1M49.3 95.2h1M47.1 96.9h1M52.4 85.1h1M50.1 91.0h1M47.7 89.3h1M49.8 80.1h1M49.0 100.3h1M49.0 98.4h1M50.3 85.0h1M49.4 95.6h1M48.7 81.5h1M49.5 96.8h1M49.1 99.9h1M50.7 75.3h1M49.5 89.5h1M49.7 97.7h1M49.4 92.8h1M50.6 89.4h1M49.9 78.1h1M49.8 87.3h1M49.1 86.5h1M49.5 99.6h1M47.7 87.1h1M52.5 85.2h1M49.0 87.2h1M49.8 90.1h1M49.2 99.0h1M49.1 92.0h1M49.9 94.4h1M49.4 80.9h1M49.8 74.7h1M48.1 86.7h1M48.7 90.0h1M48.5 93.2h1M52.1 80.0h1M48.2 86.1h1M48.7 95.7h1M50.2 82.9h1M50.2 98.9h1M48.7 74.2h1M47.9 88.7h1M49.5 98.0h1M50.5 70.7h1M49.2 72.1h1M47.6 87.8h1M49.0 99.3h1M50.8 72.5h1M49.6 91.8h1M50.2 95.3h1M49.7 84.7h1M50.2 74.5h1M50.5 88.0h1M49.4 96.1h1M49.9 92.4h1M48.7 90.1h1M49.1 86.6h1M50.4 84.9h1M49.5 88.8h1M48.9 88.1h1M50.6 87.2h1M50.2 92.0h1M49.8 86.5h1M49.1 99.4h1M50.5 92.5h1M52.3 87.9h1M48.8 93.2h1M48.1 80.7h1M49.0 81.2h1M48.7 87.0h1M48.8 98.7h1M48.7 98.0h1M50.4 93.0h1M50.5 92.7h1M50.6 96.6h1M50.3 93.7h1M49.5 78.0h1M51.1 86.4h1M49.0 89.1h1M49.3 89.3h1M48.4 87.7h1M51.1 90.1h1M50.6 93.4h1M49.3 85.2h1M49.3 97.1h1M49.5 98.2h1M49.9 89.6h1M51.0 78.9h1M50.1 78.6h1M50.0 92.9h1M48.3 95.7h1M49.3 98.6h1M47.6 89.1h1M51.9 75.2h1M51.2 90.8h1M50.2 94.2h1M51.0 88.7h1M51.9 90.0h1M50.6 92.6h1M48.2 94.8h1M49.4 92.6h1M48.3 98.7h1M49.2 76.9h1M48.3 90.4h1M50.1 77.8h1M49.7 97.3h1M48.7 93.1h1M49.4 89.7h1M50.4 78.0h1M49.5 90.8h1M50.0 75.5h1M47.4 82.4h1M49.8 74.1h1M50.7 69.0h1M49.7 95.3h1M48.4 96.1h1M49.3 92.0h1M50.1 85.7h1M48.8 96.8h1M50.8 74.8h1M48.8 90.0h1M49.3 92.1h1M49.8 82.2h1M52.5 82.4h1M49.8 76.5h1M49.0 91.0h1M50.8 80.5h1M49.1 94.3h1M50.0 88.4h1M48.3 74.2h1M50.3 82.7h1M49.7 87.0h1M48.8 98.9h1M51.6 79.0h1M49.4 92.5h1M49.5 90.2h1M48.7 98.7h1M48.7 99.6h1M49.1 95.6h1M48.5 97.8h1M50.6 77.9h1M51.0 77.6h1M49.0 87.2h1M47.8 88.7h1M49.4 82.5h1M48.5 86.9h1M50.3 75.2h1M49.6 96.2h1M49.3 86.5h1M49.5 99.2h1M50.5 93.7h1M51.4 91.6h1M49.1 98.1h1M50.8 81.3h1M49.6 81.8h1M48.8 79.2h1M50.8 93.0h1M50.0 91.6h1M49.6 97.5h1M50.3 83.3h1M49.4 94.3h1M48.5 85.6h1M51.8 75.1h1M51.0 81.3h1M49.8 94.4h1M49.8 99.6h1M51.5 81.5h1M49.4 92.9h1M50.1 93.8h1M49.6 81.1h1M50.2 92.8h1M49.7 80.4h1M51.6 70.3h1M49.2 98.1h1M50.3 89.5h1M49.8 96.9h1M49.2 95.0h1M50.6 91.7h1M49.5 91.7h1M49.2 95.8h1M49.9 81.8h1M49.0 98.9h1M50.1 98.5h1M50.7 77.8h1M51.1 84.5h1M48.2 90.8h1M50.3 80.7h1M48.9 94.8h1M49.9 85.9h1M51.3 86.3h1M49.8 93.3h1M50.1 71.4h1M51.2 85.0h1M51.2 81.0h1M51.6 91.5h1M48.2 76.1h1M50.2 85.1h1M49.2 92.2h1M48.8 94.8h1M49.7 94.0h1M48.4 89.0h1M47.3 88.4h1M48.7 87.4h1M49.4 90.8h1M52.2 84.0h1M49.1 80.8h1M48.7 96.8h1M48.6 100.1h1M49.2 92.6h1M49.8 77.0h1M49.6 96.3h1M48.1 90.7h1M48.9 94.5h1M47.3 85.2h1M49.7 95.2h1M48.0 82.9h1M47.5 92.5h1M50.9 91.1h1M50.3 89.3h1M49.9 93.9h1M49.7 97.5h1M48.6 93.2h1M50.9 89.3h1M48.6 82.7h1M52.0 74.9h1M49.9 90.7h1M47.6 88.6h1M50.9 71.8h1M52.0 88.5h1M49.3 98.4h1M51.0 87.4h1M49.5 86.1h1M49.5 75.4h1M47.5 92.5h1M51.0 70.3h1M49.4 80.8h1M50.1 90.3h1M48.4 84.4h1M48.8 83.4h1M51.2 84.5h1M49.2 94.0h1M49.2 95.4h1M48.3 85.1h1M49.5 99.6h1M49.8 99.2h1M49.2 91.2h1M49.4 92.0h1M48.8 76.8h1M51.6 82.2h1M49.0 85.9h1M49.4 97.4h1M52.0 81.4h1M49.6 84.4h1M47.9 85.8h1M48.8 81.1h1M49.2 98.8h1M50.5 98.3h1M50.2 80.6h1M49.6 82.2h1M50.2 95.9h1M51.3 87.4h1M48.8 88.0h1M50.1 99.6h1M50.9 85.9h1M50.6 77.5h1M47.5 92.1h1M49.8 93.3h1M51.1 91.5h1M49.3 95.6h1M52.5 79.4h1M50.2 76.0h1M48.7 95.1h1M50.1 94.5h1M50.4 76.2h1M50.8 87.9h1M49.4 95.2h1M50.9 93.1h1M49.6 74.8h1M50.3 74.4h1M48.3 89.0h1M49.0 97.8h1M50.0 86.5h1M49.1 83.0h1M49.4 82.2h1M49.4 93.2h1M49.9 91.5h1M50.0 97.4h1M50.4 93.2h1M50.9 88.6h1M50.4 72.9h1M49.1 86.5h1M48.9 100.4h1M49.3 89.3h1M48.8 94.0h1M48.1 96.4h1M50.3 98.6h1M48.2 76.7h1M50.0 92.6h1M50.4 89.2h1M49.5 88.5h1M52.5 81.1h1M50.0 82.4h1M49.0 98.3h1M50.7 97.3h1M49.0 81.0h1M48.1 84.1h1M48.8 97.3h1M49.0 85.0h1M50.0 81.6h1M50.2 87.0h1M48.4 77.6h1M50.2 87.4h1M52.5 83.0h1M48.9 92.7h1M49.9 78.6h1M50.3 93.3h1M51.3 86.9h1M49.0 93.6h1M48.7 94.2h1M48.5 89.1h1M51.2 85.7h1M51.1 76.3h1M48.5 99.8h1M47.3 83.5h1M48.5 95.3h1M48.1 81.4h1M50.1 92.3h1M50.4 72.6h1M51.3 94.6h1M50.1 96.6h1M49.7 94.1h1M51.3 76.0h1M48.7 84.8h1M48.6 98.2h1M50.0 83.1h1M50.5 93.9h1M47.8 86.8h1M50.7 91.0h1M50.8 88.8h1M49.6 77.2h1M50.0 87.8h1M49.7 79.3h1M50.1 80.6h1M50.5 92.1h1M48.9 97.2h1M51.2 79.1h1M51.0 80.8h1M51.1 76.8h1M47.4 85.6h1M48.0 95.7h1M50.5 90.0h1M49.2 82.9h1M48.9 92.8h1M48.9 96.8h1M48.2 89.8h1M49.6 80.7h1M48.9 92.2h1M49.4 77.1h1M50.5 83.4h1M48.5 94.4h1M51.3 78.5h1M47.3 84.3h1M51.9 72.3h1M48.7 76.4h1M50.4 89.2h1M50.3 95.5h1M50.0 80.5h1M50.1 96.1h1M49.5 94.8h1M48.5 74.6h1M49.8 95.9h1M51.0 90.0h1M49.1 90.6h1M48.6 74.6h1M49.1 97.0h1M50.4 81.5h1M50.4 78.3h1M51.2 73.4h1M49.7 99.0h1M50.6 78.3h1M47.8 94.6h1M51.0 96.6h1M50.0 82.6h1M51.0 74.5h1M49.2 96.4h1M49.4 95.9h1M50.0 80.9h1M51.7 88.1h1M50.7 95.9h1M50.3 91.2h1M50.1 100.2h1M49.2 97.3h1M50.7 74.1h1M49.2 93.9h1M50.0 99.5h1M49.8 87.7h1M51.2 77.9h1M52.0 86.4h1M47.3 88.2h1M52.1 90.0h1M50.5 76.4h1M49.3 95.0h1M48.6 73.3h1M49.4 89.1h1M48.9 71.4h1M49.7 93.4h1M51.0 81.8h1M52.2 83.6h1M49.4 85.2h1M51.3 78.5h1M51.4 82.4h1M52.0 90.8h1M49.8 77.5h1M50.9 81.4h1M47.9 85.3h1M48.4 89.5h1M49.3 93.1h1M50.2 74.2h1M48.7 98.2h1M49.2 91.9h1M50.5 90.3h1M49.4 81.3h1M50.1 72.3h1M48.7 91.5h1M51.7 83.4h1M52.0 86.8h1M50.3 78.4h1M50.1 73.1h1M52.0 83.0h1M50.5 84.2h1M49.0 95.4h1M48.3 81.4h1M49.1 86.0h1M52.2 89.1h1M49.9 71.6h1M51.4 94.7h1M50.0 81.7h1M49.7 83.1h1M51.2 90.6h1M49.5 88.1h1M50.2 89.2h1M48.5 86.0h1M48.9 99.7h1M48.9 95.5h1M50.2 82.8h1M49.1 98.2h1M48.2 97.5h1M74.5 87.1h1M75.0 79.7h1M75.4 84.6h1M74.7 84.1h1M77.0 90.0h1M75.9 87.2h1M74.7 84.3h1M75.2 83.2h1M76.9 85.8h1M76.5 84.0h1M77.3 91.8h1M74.8 78.1h1M75.3 85.9h1M78.7 78.9h1M75.0 88.5h1M78.1 83.5h1M76.6 90.1h1M74.3 84.2h1M72.6 88.7h1M76.2 86.2h1M73.8 88.9h1M73.8 85.8h1M72.0 77.5h1M77.2 83.7h1M75.3 81.4h1M75.1 88.3h1M75.8 87.2h1M75.5 85.7h1M75.3 86.9h1M76.0 86.2h1M74.6 84.1h1M70.5 91.1h1M76.4 86.3h1M75.8 85.2h1M75.1 81.7h1M77.9 84.0h1M72.6 85.7h1M69.9 85.2h1M77.7 84.4h1M75.8 85.6h1M72.2 82.6h1M74.4 85.7h1M76.2 81.4h1M72.9 83.3h1M76.1 83.7h1M78.9 88.1h1M77.6 87.0h1M75.0 85.9h1M75.7 82.5h1M73.4 84.6h1M75.3 87.9h1M74.5 89.1h1M73.3 81.6h1M72.7 84.5h1M78.5 86.0h1M75.2 86.7h1M73.3 85.7h1M74.3 87.5h1M77.7 81.7h1M78.0 90.0h1M74.0 82.5h1M75.4 85.9h1M76.7 87.1h1M74.5 88.9h1M73.0 88.2h1M73.3 88.1h1M75.1 89.2h1M73.7 85.3h1M72.8 87.8h1M74.7 90.0h1M76.8 83.6h1M76.3 81.9h1M74.7 82.9h1M78.5 89.6h1M73.7 89.1h1M74.9 84.7h1M72.6 86.4h1M76.5 87.0h1M74.9 88.6h1M72.1 80.5h1M73.6 84.2h1M78.3 85.0h1M76.4 86.6h1M75.3 85.9h1M76.6 84.9h1M72.2 86.5h1M73.6 78.6h1M72.7 94.2h1M73.6 88.0h1M74.4 88.2h1M76.0 83.9h1M76.9 86.9h1M76.8 91.4h1M79.9 90.8h1M74.2 85.9h1M75.0 82.3h1M76.0 86.2h1M73.6 84.9h1M74.6 88.1h1M75.8 82.2h1M73.5 85.2h1M75.9 86.5h1M77.3 84.5h1M73.1 88.7h1M71.0 82.6h1M75.2 82.3h1M73.2 84.8h1M75.4 88.0h1M74.3 84.9h1M75.6 84.1h1M77.1 88.0h1M76.5 86.4h1M74.4 84.3h1M73.0 86.1h1M70.6 85.1h1M71.2 87.4h1M73.6 86.1h1M75.2 83.5h1M73.8 84.4h1M74.0 84.6h1M72.2 86.8h1M72.1 86.8h1M71.9 83.4h1M76.1 85.2h1M71.5 86.6h1M76.2 88.8h1M73.4 86.4h1M76.0 91.2h1M75.4 85.8h1M76.3 87.8h1M77.1 84.8h1M73.6 83.0h1M73.2 86.0h1M74.2 87.1h1M73.6 86.6h1M76.1 86.2h1M74.7 84.8h1M75.0 83.5h1M75.7 84.9h1M74.1 87.0h1M76.9 88.4h1M71.6 76.6h1M75.3 87.4h1M75.8 88.8h1M73.5 89.3h1M73.7 86.8h1M76.5 87.6h1M74.3 84.5h1M71.5 85.5h1M72.5 87.2h1M76.7 82.7h1M73.3 83.5h1M77.3 86.3h1M77.4 82.0h1M74.5 85.9h1M75.9 81.6h1M73.4 86.3h1M74.2 85.8h1M73.7 84.2h1M76.0 83.1h1M72.6 84.3h1M74.7 79.5h1M75.0 84.6h1M75.8 86.1h1M71.1 89.1h1M71.7 84.3h1M73.3 85.3h1M74.5 89.6h1M75.1 90.6h1M75.2 84.4h1M78.5 88.7h1M76.1 89.0h1M75.9 87.2h1M74.0 83.0h1M76.3 83.1h1M76.1 87.4h1M76.1 92.2h1M74.7 85.2h1M76.0 90.1h1M77.6 91.0h1M73.5 82.3h1M71.0 84.1h1M76.3 89.9h1M76.2 88.5h1M74.5 87.3h1M74.1 85.7h1M79.8 87.5h1M74.0 84.0h1M72.7 92.7h1M74.0 82.5h1M75.8 80.7h1M73.8 86.2h1M74.2 89.8h1M75.4 84.4h1M74.1 85.6h1M75.1 82.9h1M74.8 85.5h1M73.0 82.9h1M75.0 83.0h1M72.8 81.6h1M76.5 84.2h1M73.2 90.9h1M74.4 85.6h1M71.6 86.3h1M74.1 92.0h1M72.6 84.0h1M77.5 83.0h1M74.7 87.2h1M75.8 82.3h1M71.7 86.7h1M72.7 89.0h1M74.6 82.7h1M72.4 84.3h1M76.9 90.5h1M74.1 82.8h1M75.1 83.8h1M75.4 86.4h1M74.6 84.9h1M76.2 83.4h1M73.7 90.2h1M75.5 84.1h1M77.0 86.7h1M75.2 84.6h1M75.1 85.1h1M74.3 81.9h1M75.0 88.3h1M76.1 84.5h1M74.4 89.3h1M71.9 82.5h1M75.1 84.4h1M74.6 87.1h1M75.7 86.1h1M74.9 83.9h1M77.7 85.4h1M72.7 82.1h1M73.1 85.9h1M76.0 78.3h1M73.0 86.2h1M75.4 89.5h1M74.8 88.2h1M71.4 88.1h1M76.0 84.6h1M77.3 87.1h1M75.2 84.6h1M72.4 85.5h1M76.2 85.5h1M73.0 76.3h1M74.6 88.3h1M75.6 87.0h1M73.5 88.1h1M71.9 83.1h1M74.6 87.7h1M74.8 87.1h1M73.3 79.5h1M73.5 80.8h1M76.2 85.9h1M74.7 83.9h1M74.0 85.7h1M73.8 84.0h1M75.1 89.9h1M75.0 80.4h1M74.5 81.9h1M72.4 83.0h1M74.2 81.9h1M73.7 84.1h1M75.0 85.7h1M76.9 82.0h1M76.5 86.8h1M76.0 89.4h1M75.0 88.8h1M74.3 91.3h1M75.4 88.9h1M74.0 85.7h1M74.2 90.7h1M73.4 87.7h1M74.7 91.0h1M74.7 85.2h1M78.1 79.9h1M75.8 82.5h1M74.2 86.3h1M76.2 87.3h1M74.0 85.2h1M76.6 88.6h1M76.2 82.6h1M79.9 83.8h1M72.9 88.5h1M74.7 85.9h1M74.6 86.0h1M75.4 89.7h1M76.1 88.8h1M73.1 83.6h1M73.6 86.3h1M75.4 81.0h1M76.5 85.7h1M72.9 86.9h1M72.1 80.9h1M76.8 90.1h1M76.3 91.4h1M76.7 87.2h1M73.1 88.4h1M74.5 90.0h1M75.2 85.3h1M75.6 88.7h1M74.6 86.9h1M74.8 81.5h1M76.6 83.3h1M74.1 84.2h1M73.9 88.8h1M74.1 86.1h1M74.0 88.6h1M75.1 84.5h1M74.5 82.2h1M74.1 91.6h1M77.3 93.4h1M75.4 86.9h1M74.3 85.2h1M77.0 89.1h1M73.9 82.7h1M74.8 85.2h1M74.7 81.8h1M73.8 87.2h1M74.2 86.5h1M75.0 84.7h1M72.4 84.0h1M74.2 81.6h1M75.3 83.5h1M75.3 89.2h1M75.4 84.8h1M78.9 89.3h1M76.0 83.4h1M74.6 85.6h1M74.6 84.5h1M74.8 85.1h1M75.6 88.0h1M74.3 80.1h1M77.4 87.9h1M72.9 87.7h1M75.9 85.8h1M75.7 86.0h1M72.9 85.2h1M75.9 87.7h1M75.8 86.0h1M73.7 83.4h1M78.8 86.2h1M76.1 88.5h1M74.3 86.8h1M74.0 85.9h1M73.6 86.4h1M75.3 84.4h1M74.9 84.5h1M72.4 80.6h1M73.1 85.3h1M73.6 88.6h1M74.1 84.7h1M74.2 83.3h1M73.7 88.3h1M75.9 86.3h1M76.5 86.2h1M75.0 87.1h1M71.1 87.8h1M74.6 85.7h1M75.8 83.5h1M74.7 90.7h1M75.3 86.0h1M75.0 83.7h1M72.3 86.3h1M70.5 89.1h1M75.9 81.9h1M73.9 89.4h1M75.5 85.4h1M74.3 91.4h1M74.5 87.7h1M77.2 85.5h1M72.8 89.3h1M74.8 89.3h1M73.0 84.8h1M75.0 86.5h1M75.6 84.4h1M75.9 88.4h1M75.1 81.9h1M72.5 85.3h1M75.2 79.9h1M76.4 87.4h1M76.5 79.6h1M78.5 82.9h1M75.8 86.5h1M73.1 84.8h1M73.9 84.6h1M75.0 83.1h1M76.6 84.5h1M72.9 81.0h1M76.4 86.7h1M75.9 88.0h1M73.3 87.9h1M75.9 85.7h1M73.5 89.2h1M74.8 87.1h1M74.3 88.5h1M75.2 86.9h1M72.8 85.9h1M74.5 79.1h1M72.7 67.1h1M75.8 64.6h1M75.1 80.6h1M77.1 63.3h1M73.3 77.2h1M76.0 67.2h1M74.3 66.8h1M75.2 66.0h1M74.4 64.5h1M75.5 64.3h1M75.2 64.8h1M76.0 69.2h1M75.3 68.6h1M75.7 58.5h1M76.4 67.5h1M75.7 77.7h1M75.1 76.1h1M76.4 61.0h1M75.1 63.0h1M75.6 73.1h1M74.9 73.1h1M74.6 59.2h1M72.3 65.5h1M75.9 70.3h1M74.1 74.4h1M75.9 71.5h1M76.9 73.4h1M74.0 79.3h1M76.0 79.0h1M75.1 62.8h1M75.6 78.8h1M74.1 63.1h1M75.2 58.1h1M75.4 76.7h1M76.6 79.8h1M77.2 60.5h1M75.5 76.1h1M74.9 59.9h1M77.3 80.0h1M64.4 95.0h1M65.5 57.8h1M84.1 30.4h1M57.4 47.4h1M67.8 67.3h1M48.4 34.8h1M51.8 40.8h1M67.5 46.9h1" stroke="#000" stroke-width="1" fill="none"/>
<line x1="99.3" y1="55.3" x2="142.6" y2="55.3" stroke="#555" stroke-width="1"/>
<line x1="124.2" y1="55.3" x2="124.2" y2="108.6" stroke="#555" stroke-width="1"/>
<line x1="99.3" y1="108.6" x2="141.6" y2="108.6" stroke="#222" stroke-width="1"/>
<path d="M100.3 109.0v1.3M103.3 109.0v1.3M106.3 109.0v1.3M109.3 109.0v1.3M112.3 109.0v1.3M115.3 109.0v1.3M118.3 109.0v1.3M121.3 109.0v1.3M124.3 109.0v1.3M127.3 109.0v1.3M130.3 109.0v1.3M133.3 109.0v1.3M136.3 109.0v1.3M139.3 109.0v1.3" stroke="#222" stroke-width="0.7" fill="none"/>
<text x="110.4" y="116.0" font-size="5.3" text-anchor="middle" font-weight="bold">200</text>
<text x="136.0" y="116.0" font-size="5.3" text-anchor="middle" font-weight="bold">400</text>
<path d="M106.9 85.9h1M107.5 61.9h1M108.4 75.2h1M108.2 76.5h1M107.0 79.5h1M108.7 79.5h1M108.3 79.9h1M108.0 69.2h1M107.3 86.8h1M107.6 74.3h1M107.0 77.5h1M107.7 84.0h1M107.2 68.0h1M108.6 82.4h1M107.6 84.4h1M107.8 83.0h1M107.9 78.6h1M107.8 85.1h1M106.3 83.4h1M108.5 68.2h1M107.6 92.5h1M107.1 88.8h1M107.0 94.0h1M107.3 63.8h1M107.1 77.6h1M107.6 70.7h1M106.8 81.5h1M107.5 96.5h1M107.6 90.3h1M107.1 93.5h1M109.1 87.6h1M107.4 95.5h1M107.8 88.7h1M107.7 74.1h1M107.5 72.3h1M108.1 87.4h1M108.4 91.9h1M107.4 93.7h1M107.3 62.6h1M108.1 81.6h1M106.7 97.8h1M107.7 65.4h1M107.5 74.6h1M107.8 88.0h1M106.5 91.0h1M107.2 81.4h1M106.9 67.4h1M107.1 76.2h1M107.9 63.2h1M107.5 68.7h1M107.2 94.5h1M108.6 75.6h1M107.6 78.9h1M106.3 67.5h1M106.6 81.7h1M107.9 85.2h1M108.0 74.0h1M107.8 76.5h1M107.5 97.2h1M107.0 95.1h1M107.4 92.0h1M106.5 77.2h1M106.8 78.1h1M106.7 80.7h1M106.9 91.6h1M107.3 76.6h1M107.5 64.9h1M106.9 89.8h1M107.9 96.0h1M107.1 86.1h1M108.8 70.8h1M108.4 75.5h1M106.9 65.9h1M108.1 89.0h1M106.8 65.5h1M108.7 70.6h1M107.8 78.4h1M106.7 74.0h1M105.6 76.7h1M107.2 84.7h1M106.4 87.3h1M108.2 90.7h1M106.7 68.1h1M107.3 82.6h1M108.0 76.4h1M107.5 77.3h1M107.7 88.8h1M107.5 63.3h1M108.0 89.1h1M106.7 73.9h1M107.8 61.5h1M107.1 62.4h1M107.5 94.8h1M106.5 75.4h1M107.5 65.8h1M108.0 76.9h1M108.2 91.6h1M106.7 96.6h1M107.0 94.1h1M107.0 95.8h1M108.5 83.7h1M106.7 79.4h1M107.9 89.7h1M107.0 83.1h1M106.3 87.2h1M107.6 71.3h1M106.5 76.6h1M108.0 88.9h1M108.2 81.9h1M108.6 84.2h1M106.6 77.3h1M108.6 88.4h1M108.2 86.2h1M107.0 98.9h1M109.4 79.8h1M108.9 82.9h1M106.6 82.7h1M107.6 91.8h1M106.3 83.9h1M107.4 74.1h1M107.7 72.2h1M107.6 96.7h1M106.9 69.8h1M107.4 88.3h1M106.8 71.3h1M107.8 75.1h1M108.0 65.7h1M107.5 82.8h1M108.2 90.1h1M107.8 94.1h1M107.7 61.3h1M108.4 87.2h1M106.5 89.4h1M107.4 86.5h1M106.5 66.0h1M107.5 78.5h1M107.1 81.8h1M108.2 82.7h1M107.1 75.0h1M107.0 90.0h1M107.4 91.7h1M107.4 77.1h1M107.9 86.7h1M106.8 88.2h1M106.4 70.2h1M106.2 87.9h1M108.4 86.5h1M106.4 75.3h1M107.1 90.2h1M107.0 64.5h1M107.8 95.0h1M107.0 78.8h1M108.5 70.3h1M106.9 82.9h1M107.7 88.6h1M108.0 89.9h1M108.3 72.4h1M106.7 92.2h1M107.4 61.4h1M107.4 80.3h1M105.9 82.6h1M103.0 87.1h1M107.9 74.7h1M107.9 85.5h1M106.3 82.8h1M107.5 96.0h1M107.9 70.8h1M108.3 84.3h1M107.1 94.0h1M108.1 74.0h1M109.0 70.3h1M107.1 91.2h1M107.1 89.8h1M107.2 75.2h1M106.2 81.2h1M107.2 83.4h1M108.7 67.9h1M107.0 65.3h1M111.8 70.6h1M108.0 95.7h1M108.0 78.3h1M107.7 68.8h1M107.2 73.2h1M107.4 78.6h1M107.4 96.2h1M107.9 62.1h1M107.6 69.4h1M106.5 78.7h1M106.2 68.9h1M108.1 86.9h1M107.1 72.8h1M107.6 64.7h1M107.2 93.6h1M107.9 64.1h1M107.4 87.8h1M107.7 94.6h1M106.8 84.1h1M107.7 63.5h1M106.8 83.2h1M108.5 76.0h1M107.2 72.0h1M107.6 79.0h1M107.3 67.8h1M107.4 95.2h1M107.5 77.6h1M108.3 89.2h1M108.0 74.5h1M108.5 66.8h1M108.8 73.1h1M106.4 86.2h1M107.6 91.0h1M107.1 78.4h1M106.1 79.9h1M106.7 88.8h1M107.1 71.4h1M109.0 77.6h1M107.6 70.4h1M107.3 90.4h1M107.4 94.5h1M107.1 95.0h1M107.6 88.5h1M107.4 81.1h1M106.8 63.0h1M107.1 72.4h1M108.7 64.0h1M108.0 81.6h1M107.4 84.8h1M107.9 91.9h1M107.2 62.0h1M107.6 71.5h1M108.2 70.4h1M106.4 90.9h1M107.0 92.7h1M107.2 78.5h1M107.2 88.6h1M107.1 71.3h1M107.7 83.8h1M108.2 66.0h1M107.8 80.0h1M107.8 96.4h1M108.3 70.1h1M107.0 75.0h1M107.7 81.7h1M107.5 60.3h1M107.9 90.8h1M107.2 76.6h1M107.3 86.8h1M109.0 74.9h1M107.3 85.8h1M106.1 77.6h1M107.6 73.1h1M107.7 85.0h1M107.1 85.0h1M107.6 64.2h1M108.4 83.9h1M107.0 79.9h1M107.5 62.0h1M106.9 85.3h1M107.8 72.0h1M107.4 81.0h1M106.8 88.0h1M107.3 86.4h1M108.7 90.0h1M106.0 83.9h1M106.7 94.3h1M107.8 78.4h1M106.7 67.1h1M109.1 72.9h1M106.3 86.7h1M106.6 68.6h1M107.0 82.3h1M108.1 91.6h1M107.9 92.4h1M108.0 84.1h1M107.7 89.9h1M108.7 78.3h1M105.9 78.9h1M107.8 68.3h1M108.7 83.1h1M107.0 97.1h1M107.7 89.0h1M108.6 81.3h1M108.6 76.1h1M107.4 79.6h1M109.1 80.3h1M107.8 61.9h1M108.4 84.9h1M106.8 92.5h1M106.8 83.3h1M106.8 79.6h1M109.1 80.6h1M105.7 73.9h1M105.9 82.9h1M108.0 90.4h1M107.6 80.3h1M105.6 80.8h1M107.2 79.7h1M107.2 85.0h1M108.2 91.4h1M106.0 86.5h1M107.1 89.8h1M108.5 77.5h1M107.9 61.1h1M106.7 83.9h1M107.3 81.2h1M106.4 72.1h1M108.4 90.8h1M107.1 77.9h1M108.5 70.8h1M108.1 85.9h1M106.9 71.1h1M107.4 85.6h1M108.1 83.0h1M107.8 87.4h1M108.8 83.8h1M108.3 68.4h1M107.8 67.5h1M108.0 65.4h1M106.9 79.1h1M107.1 72.4h1M108.1 76.0h1M107.8 86.1h1M106.8 68.3h1M107.4 79.8h1M107.2 98.6h1M107.1 72.9h1M108.0 61.0h1M106.9 69.2h1M107.0 85.9h1M108.0 69.1h1M107.6 78.8h1M107.7 67.1h1M106.3 83.2h1M107.6 66.2h1M107.3 70.9h1M107.0 70.1h1M107.0 85.7h1M107.3 80.3h1M108.2 83.7h1M109.0 85.3h1M107.5 89.6h1M108.5 67.5h1M107.7 67.7h1M106.6 68.1h1M107.6 80.2h1M108.4 89.7h1M108.8 77.9h1M107.0 67.7h1M109.4 77.5h1M106.9 78.9h1M106.9 85.2h1M107.1 87.6h1M108.7 83.0h1M107.9 74.2h1M107.9 60.9h1M106.0 68.7h1M107.6 63.4h1M107.4 82.7h1M107.9 61.5h1M107.1 78.7h1M108.6 81.8h1M106.9 81.0h1M106.8 66.2h1M106.4 91.5h1M108.6 76.7h1M108.1 84.8h1M107.0 68.5h1M108.4 69.7h1M107.5 64.5h1M107.4 93.4h1M106.8 95.3h1M107.4 61.3h1M107.7 74.6h1M107.7 78.4h1M107.2 97.1h1M108.3 70.6h1M108.1 94.8h1M106.8 82.9h1M107.6 97.2h1M106.2 83.1h1M107.7 93.6h1M106.9 91.4h1M107.5 68.4h1M107.7 81.9h1M107.3 77.0h1M108.3 87.3h1M106.9 75.2h1M107.1 79.6h1M107.8 86.7h1M107.5 85.5h1M107.8 73.2h1M107.4 76.5h1M106.9 73.0h1M107.7 95.9h1M107.6 74.6h1M108.3 78.4h1M108.5 87.3h1M107.4 65.6h1M107.1 67.1h1M107.3 66.1h1M107.4 61.8h1M105.9 74.4h1M109.0 80.4h1M107.7 91.7h1M109.0 67.5h1M107.1 76.6h1M108.0 68.9h1M107.5 96.3h1M107.5 73.7h1M108.4 78.9h1M107.5 94.7h1M107.5 78.9h1M107.7 73.4h1M105.6 79.3h1M106.9 81.8h1M107.2 64.9h1M109.0 79.1h1M108.0 69.7h1M107.9 93.1h1M108.1 83.7h1M107.4 71.9h1M108.3 62.0h1M107.3 89.5h1M106.5 88.5h1M108.1 74.0h1M108.6 76.4h1M107.7 70.6h1M107.8 87.0h1M108.3 84.0h1M108.5 90.1h1M108.0 69.7h1M108.7 88.4h1M107.7 87.7h1M108.5 94.6h1M106.4 86.0h1M108.0 61.4h1M107.7 87.2h1M108.1 70.0h1M106.5 83.2h1M108.5 73.1h1M107.5 65.7h1M106.8 73.4h1M107.3 64.2h1M107.4 75.7h1M107.6 88.6h1M107.0 95.1h1M107.1 96.2h1M107.9 67.1h1M107.5 81.9h1M109.2 83.8h1M107.3 70.7h1M108.1 68.3h1M108.4 94.0h1M107.4 75.9h1M108.4 71.6h1M107.8 64.3h1M107.6 73.2h1M108.3 93.4h1M106.7 75.0h1M107.1 90.1h1M106.2 71.4h1M107.4 89.9h1M108.2 88.3h1M107.4 76.0h1M107.8 96.0h1M107.0 72.3h1M108.4 69.3h1M107.5 77.3h1M107.1 87.2h1M108.9 81.9h1M107.5 85.4h1M107.9 88.0h1M107.7 76.6h1M108.1 86.1h1M107.6 82.8h1M106.6 73.8h1M107.8 83.1h1M108.0 74.8h1M107.9 81.3h1M108.1 61.3h1M109.1 78.1h1M107.3 62.1h1M107.7 61.8h1M107.7 78.1h1M106.7 75.4h1M106.5 80.0h1M108.0 67.8h1M108.1 68.7h1M107.6 84.4h1M106.4 90.7h1M107.3 78.9h1M107.8 73.5h1M108.0 88.2h1M108.1 90.3h1M107.8 89.5h1M108.2 67.4h1M108.9 83.5h1M105.7 74.8h1M108.4 72.4h1M107.2 82.0h1M107.8 91.0h1M107.7 86.2h1M106.7 75.9h1M107.1 65.0h1M106.2 69.4h1M107.4 88.5h1M108.2 81.1h1M107.2 82.3h1M108.9 67.1h1M107.3 96.3h1M109.1 87.6h1M107.4 59.7h1M108.0 80.0h1M108.4 86.1h1M106.6 91.0h1M106.7 80.6h1M107.9 71.1h1M108.0 95.2h1M108.7 82.3h1M107.8 61.6h1M108.4 73.5h1M106.6 85.3h1M107.2 86.0h1M108.7 85.9h1M107.3 65.0h1M107.3 81.5h1M106.3 71.2h1M107.4 75.8h1M106.6 66.6h1M107.6 95.3h1M107.8 98.3h1M107.8 79.4h1M107.6 90.7h1M107.2 77.7h1M107.9 88.0h1M106.7 71.6h1M107.2 95.5h1M108.6 63.4h1M105.2 94.7h1M107.1 91.7h1M106.5 72.6h1M108.5 84.9h1M107.3 95.0h1M106.7 69.2h1M106.9 66.1h1M108.5 79.2h1M108.0 68.1h1M108.1 85.6h1M107.5 84.8h1M107.9 61.6h1M108.7 75.8h1M108.0 68.0h1M106.4 89.6h1M105.9 74.3h1M106.6 68.8h1M107.8 74.3h1M106.3 76.4h1M106.6 76.5h1M107.6 71.5h1M107.2 62.8h1M106.9 65.7h1M107.9 95.0h1M107.8 87.8h1M108.0 66.0h1M108.3 76.1h1M108.7 72.5h1M107.5 80.7h1M107.4 74.5h1M106.1 73.0h1M107.3 77.1h1M107.2 66.1h1M108.3 69.0h1M108.0 67.9h1M108.4 64.6h1M108.4 83.9h1M108.5 76.3h1M107.7 94.0h1M107.6 89.8h1M107.3 70.1h1M107.6 61.7h1M106.9 70.2h1M107.8 70.3h1M107.5 70.5h1M105.7 79.2h1M105.7 84.5h1M107.2 63.8h1M107.2 94.4h1M107.3 69.8h1M108.1 94.0h1M107.1 92.9h1M106.6 71.6h1M107.8 73.3h1M108.4 74.0h1M108.6 67.8h1M106.8 71.6h1M107.4 66.6h1M107.1 82.7h1M108.8 74.3h1M108.1 84.0h1M107.5 74.1h1M108.1 82.1h1M107.2 93.4h1M107.3 85.6h1M107.5 66.8h1M107.2 95.0h1M107.4 67.8h1M107.8 69.2h1M107.7 72.9h1M108.8 78.1h1M108.2 77.8h1M107.4 91.8h1M105.6 79.8h1M106.4 72.1h1M107.1 79.9h1M107.2 95.5h1M106.6 91.4h1M107.2 88.4h1M107.6 68.9h1M107.0 76.9h1M107.5 61.2h1M107.4 84.4h1M106.9 89.3h1M106.8 87.2h1M107.4 83.6h1M107.7 61.9h1M106.6 76.2h1M105.8 74.9h1M107.2 61.9h1M107.8 86.0h1M106.7 95.7h1M108.3 78.0h1M107.1 72.4h1M107.6 64.1h1M106.9 88.8h1M108.0 79.1h1M107.5 81.3h1M107.5 96.4h1M106.2 91.2h1M108.0 67.5h1M106.6 65.1h1M107.3 71.9h1M107.7 93.1h1M107.3 95.1h1M107.9 75.7h1M107.5 90.3h1M107.6 78.8h1M106.8 73.4h1M108.3 74.3h1M108.4 76.8h1M107.0 81.5h1M107.3 64.9h1M107.7 66.3h1M106.8 78.3h1M107.6 83.3h1M108.0 87.6h1M107.8 62.1h1M108.6 84.7h1M107.8 85.5h1M106.6 76.5h1M107.3 60.2h1M107.8 91.2h1M109.1 75.2h1M107.2 83.2h1M106.9 93.6h1M108.4 67.2h1M107.4 73.7h1M107.7 95.1h1M108.4 74.6h1M106.8 89.8h1M107.2 82.2h1M107.0 87.8h1M107.9 78.8h1M108.0 79.8h1M107.1 88.7h1M108.0 75.8h1M105.9 79.7h1M107.7 88.5h1M107.7 81.3h1M107.5 75.2h1M107.2 59.8h1M132.3 65.4h1M131.1 88.9h1M132.4 74.7h1M130.0 65.4h1M130.4 79.9h1M131.5 65.0h1M130.1 72.2h1M132.2 80.3h1M132.8 76.4h1M131.5 76.2h1M131.7 63.6h1M133.0 74.0h1M131.7 61.4h1M132.5 82.9h1M131.9 58.8h1M130.6 66.2h1M133.5 71.3h1M132.4 67.2h1M131.7 83.1h1M132.3 79.1h1M131.5 60.0h1M131.7 73.5h1M130.7 63.7h1M131.1 73.4h1M131.2 61.8h1M131.8 59.5h1M131.7 61.9h1M131.7 62.7h1M131.3 64.3h1M132.5 84.1h1M129.4 72.5h1M130.8 64.0h1M132.2 83.8h1M131.3 84.4h1M132.0 83.8h1M133.0 74.0h1M132.2 79.3h1M130.7 61.0h1M131.3 75.5h1M130.9 86.9h1M131.8 64.2h1M131.9 60.4h1M131.5 88.6h1M131.7 62.2h1M131.3 68.1h1M133.2 68.6h1M131.6 73.4h1M131.7 82.8h1M131.8 88.8h1M132.2 86.8h1M131.8 62.5h1M131.4 60.4h1M131.6 75.0h1M131.8 65.4h1M131.8 64.1h1M131.1 69.3h1M131.0 66.2h1M131.3 66.6h1M132.0 76.9h1M131.2 62.4h1M130.6 66.2h1M131.2 63.6h1M131.2 83.8h1M132.0 84.7h1M131.0 65.7h1M131.2 80.3h1M133.2 69.7h1M132.3 74.3h1M130.9 84.9h1M132.1 61.2h1M131.2 66.7h1M130.8 66.3h1M132.1 70.4h1M130.2 67.9h1M131.5 86.2h1M131.8 62.6h1M132.2 78.0h1M131.0 76.6h1M131.0 67.3h1M131.4 68.9h1M132.6 79.6h1M130.0 66.9h1M131.6 58.1h1M131.7 69.4h1M132.7 69.3h1M130.4 73.6h1M132.1 62.5h1M130.7 72.4h1M131.7 64.5h1M131.2 82.6h1M129.4 76.7h1M131.4 68.4h1M131.9 78.9h1M131.8 60.6h1M131.1 84.9h1M130.4 78.2h1M131.9 62.4h1M131.2 64.6h1M132.1 88.1h1M132.3 62.8h1M131.4 84.8h1M131.3 62.3h1M131.2 58.2h1M129.9 81.9h1M131.6 82.5h1M132.2 78.2h1M132.3 66.8h1M131.5 80.6h1M132.9 65.8h1M131.0 72.6h1M131.5 79.7h1M131.2 83.6h1M131.1 70.4h1M131.3 62.6h1M130.8 73.4h1M131.2 62.4h1M131.6 64.4h1M135.8 62.7h1M130.5 74.2h1M131.6 59.5h1M130.8 79.3h1M131.7 62.5h1M131.6 81.8h1M129.9 80.1h1M130.5 75.1h1M132.0 62.3h1M131.2 58.6h1M130.9 74.2h1M131.2 61.6h1M131.5 65.2h1M131.9 66.5h1M131.2 74.4h1M133.0 68.7h1M131.0 71.2h1M131.2 60.9h1M129.7 62.8h1M131.5 62.5h1M132.5 64.6h1M133.3 82.4h1M131.3 80.5h1M131.4 79.4h1M131.8 61.2h1M131.4 76.5h1M132.3 78.9h1M131.1 58.6h1M132.2 67.3h1M130.5 59.9h1M132.0 71.4h1M132.1 69.7h1M133.6 77.9h1M130.8 63.8h1M131.9 89.0h1M132.0 67.1h1M130.7 65.3h1M131.8 74.8h1M130.8 78.8h1M130.6 81.6h1M131.0 58.4h1M131.3 69.3h1M130.5 71.2h1M130.4 60.5h1M131.7 68.8h1M130.0 66.9h1M132.2 77.3h1M131.6 61.4h1M130.7 73.1h1M130.4 63.2h1M130.7 66.1h1M130.3 79.8h1M131.2 79.6h1M131.1 74.1h1M133.7 74.6h1M129.9 82.7h1M130.9 67.9h1M132.0 72.2h1M132.3 67.1h1M132.6 68.0h1M130.5 74.3h1M132.2 80.7h1M130.0 63.4h1M131.3 72.1h1M131.7 59.4h1M132.1 67.9h1M130.2 69.3h1M130.7 68.9h1M129.6 66.9h1M130.8 69.9h1M130.2 76.3h1M131.7 65.6h1M131.0 62.5h1M132.0 68.0h1M131.4 62.1h1M131.3 82.1h1M133.1 69.1h1M132.6 71.3h1M130.2 76.8h1M132.7 69.4h1M132.2 70.5h1M132.3 62.8h1M131.8 64.9h1M129.7 73.2h1M131.2 62.8h1M129.7 81.8h1M130.4 64.6h1M130.8 76.8h1M132.5 67.0h1M131.6 81.4h1M131.6 65.3h1M132.1 67.9h1M131.0 86.1h1M132.4 68.1h1M131.6 64.5h1M130.6 69.2h1M131.1 82.2h1M131.3 60.1h1M131.7 60.1h1M132.6 66.0h1M131.3 60.0h1M131.4 83.7h1M132.3 60.3h1M133.6 75.8h1M132.9 66.1h1M131.7 80.8h1M131.3 83.2h1M132.0 85.6h1M131.8 78.9h1M130.7 77.6h1M132.8 77.4h1M133.0 64.5h1M130.7 75.8h1M130.7 76.3h1M131.0 75.0h1M130.2 72.1h1M131.9 61.9h1M130.1 76.0h1M131.7 60.1h1M131.9 70.9h1M132.2 78.1h1M130.1 68.2h1M131.6 70.6h1M131.8 83.4h1M132.1 65.2h1M131.9 81.9h1M130.9 72.9h1M132.6 72.6h1M132.4 63.4h1M132.5 64.9h1M130.7 73.0h1M132.0 77.3h1M130.6 69.0h1M131.5 86.6h1M132.1 67.4h1M130.1 72.4h1M133.0 64.5h1M132.6 80.9h1M131.2 88.0h1M130.9 69.7h1M131.4 73.0h1M131.5 86.9h1M130.4 80.3h1M130.7 73.9h1M132.2 73.3h1M130.9 70.2h1M133.1 68.7h1M131.4 70.1h1M131.1 71.6h1M132.8 66.4h1M131.6 62.5h1M132.1 80.0h1M130.9 75.5h1M132.6 72.2h1M131.2 67.2h1M132.0 62.9h1M132.0 85.9h1M132.5 62.2h1M132.5 77.8h1M131.4 65.2h1M130.5 78.1h1M131.2 65.7h1M131.4 89.8h1M132.5 63.7h1M131.0 73.5h1M129.5 79.5h1M131.8 66.8h1M131.9 88.9h1M130.7 81.3h1M132.2 69.7h1M130.7 85.2h1M131.8 80.9h1M131.3 62.2h1M131.8 85.6h1M131.6 59.6h1M131.1 60.2h1M132.3 75.2h1M131.1 83.0h1M131.6 70.5h1M132.9 76.1h1M130.6 71.0h1M131.6 76.8h1M132.8 83.2h1M132.6 82.9h1M130.8 68.1h1M131.2 85.6h1M131.8 64.0h1M130.9 78.1h1M131.5 67.5h1M130.4 82.7h1M131.8 90.1h1M129.9 71.3h1M131.7 81.6h1M132.1 83.2h1M130.8 76.3h1M129.9 73.9h1M130.3 68.5h1M134.4 73.5h1M132.5 62.1h1M130.1 63.6h1M130.2 76.4h1M131.8 84.3h1M131.5 74.0h1M132.1 63.1h1M132.5 85.2h1M131.6 59.4h1M131.5 78.2h1M131.2 58.8h1M131.3 63.1h1M132.4 79.8h1M132.0 66.8h1M132.1 78.8h1M129.9 78.0h1M130.7 75.5h1M132.0 58.4h1M130.9 71.7h1M130.4 71.8h1M132.1 67.9h1M132.6 73.4h1M130.6 80.4h1M131.3 87.2h1M131.4 72.5h1M131.5 63.4h1M131.4 66.5h1M131.0 61.0h1M132.1 64.8h1M129.5 75.9h1M131.0 66.4h1M129.8 67.2h1M131.9 63.6h1M130.3 81.4h1M130.7 61.7h1M131.5 83.0h1M131.0 87.3h1M130.8 62.3h1M131.2 79.8h1M133.4 70.1h1M130.2 72.4h1M130.7 75.8h1M131.9 66.7h1M131.6 77.3h1M131.9 71.9h1M131.2 61.8h1M131.8 59.2h1M131.8 72.6h1M132.8 79.2h1M130.1 70.6h1M131.8 76.2h1M131.3 71.2h1M131.9 69.4h1M130.7 80.3h1M132.3 70.4h1M130.6 84.4h1M132.3 67.8h1M132.0 84.0h1M129.9 66.2h1M131.9 75.8h1M134.5 72.5h1M131.7 61.2h1M130.8 59.4h1M131.5 83.2h1M131.2 77.2h1M130.4 62.4h1M130.3 62.3h1M132.0 80.0h1M131.2 85.1h1M132.6 73.9h1M131.4 66.1h1M132.1 58.6h1M131.6 64.2h1M133.2 70.7h1M131.7 65.3h1M131.5 67.9h1M131.7 61.8h1M130.7 71.3h1M130.8 74.0h1M133.1 71.5h1M131.3 64.8h1M130.8 85.5h1M131.9 86.7h1M130.7 74.4h1M131.6 88.4h1M132.6 80.2h1M132.7 68.3h1M133.4 73.9h1M132.3 64.4h1M132.1 84.2h1M132.1 76.4h1M131.8 87.0h1M131.4 65.9h1M133.6 76.6h1M131.4 65.5h1M133.2 75.3h1M131.4 65.5h1M132.0 60.2h1M129.4 72.6h1M131.7 80.7h1M131.0 82.0h1M133.0 81.1h1M132.9 69.2h1M131.0 64.6h1M131.5 75.8h1M132.3 84.8h1M131.9 81.2h1M131.7 78.4h1M132.5 72.1h1M130.4 81.1h1M132.3 60.9h1M132.0 81.6h1M129.6 80.0h1M130.6 75.5h1M131.5 79.6h1M132.6 88.1h1M131.6 77.5h1M130.1 69.8h1M132.5 64.3h1M132.0 76.0h1M131.6 70.8h1M132.6 78.7h1M131.2 72.0h1M131.6 86.1h1M132.2 63.5h1M132.0 73.3h1M132.5 69.3h1M131.4 84.7h1M132.8 64.8h1M130.1 74.2h1M130.4 80.7h1M132.0 66.4h1M131.3 65.1h1M131.6 60.7h1M131.6 68.8h1M131.4 70.5h1M130.9 85.5h1M131.8 64.3h1M132.4 86.6h1M130.9 64.2h1M133.6 74.6h1M132.4 61.7h1M130.8 73.9h1M132.4 73.6h1M130.5 72.6h1M131.6 85.4h1M130.7 64.5h1M131.2 62.5h1M129.7 73.6h1M131.4 67.2h1M130.6 70.1h1M130.7 68.8h1M130.1 83.1h1M131.5 62.2h1M133.5 78.9h1M131.3 80.6h1M131.4 66.6h1M130.5 72.9h1M131.4 87.8h1M130.7 74.0h1M130.3 65.0h1M131.1 59.7h1M131.1 63.9h1M132.0 77.1h1M131.4 82.3h1M131.9 74.9h1M132.4 86.7h1M132.6 74.3h1M131.3 59.5h1M129.9 69.1h1M131.4 66.5h1M131.6 67.0h1M132.2 62.8h1M131.7 67.9h1M132.9 85.8h1M131.4 81.4h1M132.3 78.2h1M131.3 89.6h1M131.0 85.3h1M131.3 64.5h1M131.6 61.6h1M132.0 62.8h1M130.1 62.4h1M132.7 79.3h1M133.0 69.0h1M132.2 61.2h1M132.2 85.6h1M131.5 75.1h1M132.0 65.0h1M132.7 67.1h1M130.6 69.6h1M131.8 60.6h1M132.1 78.7h1M131.4 68.4h1M131.9 58.2h1M130.9 74.7h1M130.6 71.9h1M131.5 71.3h1M130.9 74.7h1M132.8 68.0h1M129.9 70.3h1M130.8 85.9h1M131.9 69.7h1M132.3 81.1h1M130.7 83.1h1M132.4 63.9h1M129.7 70.9h1M132.6 77.8h1M130.7 74.4h1M131.1 67.9h1M133.4 74.0h1M133.8 86.9h1M131.2 86.2h1M131.8 76.0h1M133.4 71.0h1M130.4 63.9h1M130.8 69.5h1M131.7 87.8h1M130.3 76.5h1M131.3 88.7h1M131.0 69.7h1M132.0 87.4h1M131.1 73.3h1M132.0 73.6h1M132.7 76.2h1M133.0 68.1h1M130.0 67.6h1M131.4 63.7h1M130.4 74.7h1M132.1 69.7h1M131.8 71.5h1M131.4 58.8h1M131.0 68.9h1M130.8 64.2h1M129.8 75.7h1M132.5 75.4h1M131.5 85.2h1M131.5 65.0h1M131.8 69.5h1M132.4 73.3h1M133.4 78.6h1M131.4 69.4h1M132.2 74.6h1M130.1 80.7h1M131.3 84.2h1M131.2 86.4h1M130.9 67.7h1M132.7 79.4h1M131.6 68.9h1M131.5 62.3h1M131.6 75.0h1M131.4 82.9h1M131.3 67.2h1M131.0 80.7h1M131.0 75.6h1M131.1 68.1h1M131.4 78.4h1M129.9 80.4h1M131.6 80.2h1M131.5 69.4h1M131.8 64.4h1M130.7 63.8h1M130.8 64.6h1M132.0 63.4h1M130.8 71.5h1M132.0 76.5h1M130.9 74.7h1M130.6 64.6h1M130.5 84.5h1M131.2 59.9h1M131.1 71.0h1M130.3 69.8h1M132.9 79.4h1M131.6 88.3h1M130.9 62.1h1M133.1 74.2h1M132.1 64.7h1M130.9 63.9h1M130.8 63.0h1M131.5 84.2h1M131.7 58.6h1M130.6 62.7h1M132.5 83.6h1M131.2 74.3h1M132.1 63.9h1M131.5 88.4h1M108.6 50.9h1M108.0 51.5h1M107.8 52.1h1M106.7 51.6h1M106.6 43.1h1M107.9 55.2h1M105.4 54.2h1M107.2 57.0h1M107.9 46.6h1M106.3 46.0h1M108.9 54.3h1M108.9 44.0h1M106.7 47.8h1M107.5 57.6h1M107.5 47.8h1M107.2 50.2h1M107.2 49.0h1M108.0 54.1h1M108.9 53.0h1M107.7 48.0h1M107.7 53.7h1M107.7 50.9h1M107.0 48.1h1M108.1 48.0h1M107.2 49.4h1M106.8 49.3h1M108.1 42.1h1M106.1 42.2h1M107.2 45.1h1M107.3 52.9h1M107.5 57.5h1M106.4 42.1h1M106.8 42.1h1M107.5 50.5h1M108.1 55.4h1M107.5 55.8h1M107.4 44.2h1M106.9 47.0h1M107.6 52.5h1M105.4 55.3h1M108.1 55.8h1M108.4 47.5h1M107.6 52.8h1M106.8 51.6h1M108.7 45.5h1M107.1 54.0h1M108.7 44.3h1M107.4 53.1h1M107.0 48.3h1M107.4 54.4h1M107.1 54.7h1M107.5 44.4h1M108.0 50.8h1M107.4 56.3h1M107.2 52.5h1M107.6 49.0h1M107.9 45.0h1M107.6 44.7h1M108.0 50.7h1M108.1 54.6h1" stroke="#000" stroke-width="1" fill="none"/>
<path d="M130.0 41.1h0.9M131.8 34.3h0.9M123.9 42.1h0.9M122.2 33.8h0.9M133.5 35.0h0.9M129.0 42.6h0.9M116.6 46.3h0.9M123.0 35.9h0.9M109.8 39.8h0.9M130.6 44.8h0.9M125.6 44.3h0.9M108.5 49.2h0.9M116.4 37.6h0.9M109.2 41.4h0.9M116.8 34.9h0.9M126.1 38.1h0.9M121.6 37.8h0.9M108.3 49.9h0.9M107.8 47.1h0.9M120.0 39.4h0.9M122.6 43.3h0.9M117.8 33.4h0.9M124.6 40.1h0.9M122.3 31.2h0.9M118.5 41.1h0.9M127.0 37.5h0.9M123.6 38.1h0.9M123.8 30.7h0.9M110.5 40.9h0.9M133.1 42.4h0.9M111.4 37.6h0.9M126.8 33.5h0.9M130.4 31.7h0.9M120.2 36.8h0.9M124.7 38.6h0.9M124.4 43.0h0.9M120.6 45.8h0.9M117.6 45.4h0.9M128.8 33.0h0.9M125.8 34.7h0.9M117.1 46.6h0.9M124.7 44.9h0.9M112.0 48.2h0.9M115.0 40.9h0.9M133.6 36.7h0.9M122.3 42.7h0.9M114.0 43.8h0.9M111.4 40.3h0.9M117.9 32.6h0.9M115.0 34.4h0.9M118.1 37.9h0.9M130.5 40.9h0.9M119.3 45.7h0.9M117.5 34.2h0.9M123.3 31.7h0.9M126.9 41.3h0.9M125.6 38.2h0.9M119.8 31.0h0.9M132.2 46.3h0.9M123.8 39.7h0.9M112.5 39.2h0.9M132.5 36.7h0.9M131.9 45.4h0.9M121.1 31.7h0.9M112.4 36.9h0.9M127.8 45.1h0.9M121.7 41.8h0.9M122.2 38.6h0.9M117.5 34.8h0.9M124.9 30.9h0.9M129.2 34.3h0.9M129.5 37.0h0.9M113.3 39.5h0.9M130.1 47.1h0.9M124.8 37.7h0.9M115.7 42.7h0.9M130.9 32.3h0.9M115.2 37.0h0.9M111.4 48.4h0.9M130.3 31.3h0.9M116.2 32.6h0.9M125.1 31.2h0.9M130.2 34.2h0.9M132.0 37.7h0.9M125.5 43.7h0.9M116.4 39.9h0.9M118.7 31.1h0.9M108.6 46.6h0.9M110.7 44.1h0.9M113.3 45.8h0.9M123.5 44.4h0.9M124.7 34.6h0.9M107.2 48.7h0.9M114.4 45.5h0.9M126.5 36.0h0.9M130.3 46.7h0.9M126.9 37.9h0.9M122.9 33.1h0.9M111.9 48.5h0.9M113.1 33.6h0.9M129.7 40.8h0.9M128.2 34.4h0.9M118.6 32.8h0.9M127.2 40.3h0.9M131.8 37.1h0.9M122.2 34.8h0.9M109.8 35.6h0.9M114.7 34.8h0.9M121.5 42.8h0.9M110.5 38.4h0.9M119.3 43.4h0.9M120.2 40.7h0.9M121.0 42.3h0.9M113.6 37.6h0.9M131.1 37.5h0.9M121.8 33.1h0.9M132.7 45.8h0.9M118.2 35.3h0.9M117.5 47.3h0.9M116.7 44.7h0.9M108.6 42.7h0.9M115.9 38.2h0.9M118.5 30.4h0.9M116.8 37.3h0.9M121.5 45.5h0.9M123.7 41.3h0.9M117.8 42.2h0.9M112.8 49.2h0.9M119.2 44.1h0.9M123.6 40.9h0.9M132.1 37.0h0.9M118.3 31.7h0.9M109.6 46.7h0.9M107.3 45.7h0.9M134.6 43.3h0.9M130.0 32.3h0.9M121.3 42.7h0.9M108.7 42.6h0.9M122.0 30.7h0.9M133.4 39.9h0.9M118.2 43.2h0.9M118.7 44.1h0.9M130.7 45.0h0.9M132.4 40.0h0.9M122.3 45.4h0.9M118.4 36.2h0.9M111.1 38.1h0.9M122.9 39.0h0.9M112.7 38.5h0.9M117.3 34.8h0.9M113.7 41.9h0.9M126.1 35.0h0.9M130.8 36.5h0.9M125.8 42.1h0.9M112.8 43.3h0.9M123.4 41.5h0.9M131.3 32.2h0.9M121.8 36.9h0.9M115.5 38.9h0.9M126.5 43.5h0.9M116.9 40.2h0.9M124.2 35.0h0.9M129.0 41.5h0.9M122.1 36.8h0.9M119.0 39.0h0.9M125.5 40.6h0.9M133.9 43.7h0.9M120.4 39.7h0.9M125.1 37.8h0.9M126.4 31.4h0.9M129.2 38.1h0.9M110.6 47.0h0.9M109.2 46.9h0.9M111.4 47.6h0.9M135.0 40.6h0.9M125.5 43.6h0.9M129.7 40.2h0.9M124.6 39.6h0.9M125.5 33.6h0.9M117.1 37.4h0.9M124.9 36.2h0.9M112.3 45.7h0.9M122.0 32.4h0.9M122.4 31.1h0.9M110.6 41.5h0.9M121.4 40.8h0.9M115.4 32.1h0.9M127.1 43.0h0.9M122.6 32.2h0.9M118.2 42.1h0.9M124.3 36.6h0.9M128.2 30.3h0.9M116.0 37.9h0.9M130.0 49.5h0.9M115.6 37.8h0.9M122.2 33.8h0.9M110.1 39.6h0.9M127.1 40.4h0.9M118.6 38.8h0.9M115.3 44.8h0.9M120.2 30.8h0.9M131.0 36.0h0.9M122.9 38.7h0.9M115.5 34.5h0.9M130.8 40.0h0.9M109.9 45.6h0.9M127.8 37.9h0.9M119.7 44.5h0.9M119.9 38.8h0.9M115.1 48.0h0.9M113.9 36.6h0.9M111.0 37.5h0.9M121.8 44.1h0.9M127.3 30.2h0.9M114.4 39.0h0.9M121.7 36.8h0.9M120.6 32.5h0.9M122.3 38.2h0.9M111.3 42.9h0.9M111.7 51.2h0.9M129.6 40.2h0.9M129.5 33.0h0.9M114.0 34.0h0.9M118.8 41.3h0.9M112.2 44.3h0.9M129.1 40.7h0.9M113.4 43.6h0.9M123.6 41.7h0.9M117.9 44.6h0.9M130.9 38.7h0.9M114.2 37.2h0.9M131.4 43.0h0.9M110.5 41.2h0.9M122.2 44.1h0.9M134.3 40.5h0.9M112.9 39.5h0.9M131.7 29.9h0.9M125.5 38.4h0.9M108.1 49.1h0.9M130.9 40.1h0.9M129.6 32.5h0.9M107.3 45.1h0.9M120.2 36.6h0.9M132.8 42.0h0.9M114.7 34.1h0.9M108.5 37.6h0.9M127.0 40.6h0.9M132.1 37.4h0.9M127.4 36.9h0.9M121.1 44.5h0.9M128.0 36.7h0.9M134.6 45.1h0.9M124.3 39.4h0.9M124.2 33.8h0.9M126.9 40.7h0.9M126.5 36.3h0.9M117.2 42.1h0.9M118.2 35.1h0.9M131.7 42.5h0.9M123.2 36.2h0.9M115.3 38.8h0.9M122.1 42.3h0.9M130.3 32.1h0.9M111.0 45.3h0.9M111.2 47.9h0.9M111.8 47.0h0.9M131.7 36.3h0.9M124.2 32.2h0.9M123.5 32.6h0.9M117.3 33.0h0.9M111.4 42.1h0.9M122.8 35.8h0.9M125.9 36.2h0.9M113.8 42.3h0.9M125.5 38.4h0.9M111.1 35.7h0.9M133.5 38.7h0.9M120.3 37.1h0.9M121.3 46.1h0.9M131.9 40.9h0.9M109.0 37.7h0.9M131.2 40.1h0.9M110.0 34.3h0.9M128.7 36.0h0.9M107.2 45.3h0.9M127.2 31.1h0.9M126.4 42.1h0.9M111.7 41.3h0.9M110.1 48.3h0.9M119.8 33.0h0.9M134.2 45.1h0.9M109.3 42.5h0.9M133.7 38.2h0.9M115.4 40.9h0.9M129.8 44.1h0.9M124.1 42.8h0.9M128.6 30.6h0.9M112.8 43.6h0.9M115.2 32.4h0.9M131.1 43.9h0.9" stroke="#222" stroke-width="0.9" fill="none"/>
<path d="M109.5 46.6h0.9M118.6 35.5h0.9M111.7 45.5h0.9M114.0 41.1h0.9M117.9 35.1h0.9M117.6 37.5h0.9M111.8 37.4h0.9M114.8 36.5h0.9M112.4 45.6h0.9M112.4 45.9h0.9M112.0 37.9h0.9M113.2 36.0h0.9M111.7 37.1h0.9M111.5 41.9h0.9M118.6 43.1h0.9M118.5 37.2h0.9M118.3 36.6h0.9M116.8 43.7h0.9M113.4 44.4h0.9M114.8 35.7h0.9M115.1 38.4h0.9M111.8 36.0h0.9M114.8 42.0h0.9M115.9 34.8h0.9M114.7 40.3h0.9M109.8 40.1h0.9M112.4 46.5h0.9M117.5 33.9h0.9M112.3 40.0h0.9M113.9 40.3h0.9M110.4 37.5h0.9M113.4 34.5h0.9M118.3 38.9h0.9M116.6 43.9h0.9M111.8 47.0h0.9M109.1 44.8h0.9M117.9 33.8h0.9M114.2 36.9h0.9M111.4 45.1h0.9M115.4 44.0h0.9M112.8 45.3h0.9M108.7 39.1h0.9M110.7 38.4h0.9M116.5 41.6h0.9M113.7 46.1h0.9M114.2 42.6h0.9M110.6 39.7h0.9M113.4 35.9h0.9M111.1 41.1h0.9M114.4 35.6h0.9M107.2 44.1h0.9M113.6 44.6h0.9M109.4 46.5h0.9M115.5 44.4h0.9M118.1 41.7h0.9M115.1 39.6h0.9M114.9 39.6h0.9M110.8 42.0h0.9M119.2 34.6h0.9M116.3 44.6h0.9M115.0 33.9h0.9M115.1 41.1h0.9M116.3 38.8h0.9M115.6 42.9h0.9M113.8 39.4h0.9M113.7 46.9h0.9M116.9 39.1h0.9M113.4 37.3h0.9M112.1 36.4h0.9M114.9 35.4h0.9M110.1 44.1h0.9M117.5 34.9h0.9M112.9 33.5h0.9M115.0 34.4h0.9M114.8 43.1h0.9M117.4 39.3h0.9M115.9 39.5h0.9M118.3 43.2h0.9M115.5 39.7h0.9M117.1 38.5h0.9M118.9 44.4h0.9M114.5 37.8h0.9M118.0 36.3h0.9M108.6 44.9h0.9M113.6 42.0h0.9M115.2 32.2h0.9M113.8 35.6h0.9M118.0 36.3h0.9M116.1 35.7h0.9M112.2 40.8h0.9M110.9 40.2h0.9M114.8 43.9h0.9M111.7 37.7h0.9M113.0 44.2h0.9M112.6 47.4h0.9M119.2 39.2h0.9M115.6 43.9h0.9M112.0 41.4h0.9M108.9 43.0h0.9M116.5 44.9h0.9M110.7 40.5h0.9M117.5 42.9h0.9M118.3 42.1h0.9M116.7 39.5h0.9M110.9 39.3h0.9M109.4 41.3h0.9M112.2 42.2h0.9M113.3 45.8h0.9M116.0 39.3h0.9M115.6 36.0h0.9M111.3 41.1h0.9M110.3 36.0h0.9M113.1 40.5h0.9M109.1 39.6h0.9M114.5 39.1h0.9M114.5 41.4h0.9M112.3 38.3h0.9M113.9 42.7h0.9M114.3 46.1h0.9M117.0 34.2h0.9" stroke="#000" stroke-width="0.9" fill="none"/>
<path d="M131.6 48.1h0.8M130.3 40.9h0.8M131.9 46.2h0.8M133.1 57.1h0.8M133.2 57.1h0.8M133.0 54.5h0.8M131.6 45.4h0.8M133.1 49.7h0.8M132.3 54.7h0.8M133.6 40.0h0.8M132.8 47.5h0.8M133.5 49.5h0.8M132.9 51.2h0.8M131.9 44.3h0.8M134.0 46.1h0.8M131.2 57.9h0.8M133.3 41.4h0.8M132.0 54.8h0.8M132.1 50.5h0.8M132.8 57.8h0.8M131.9 50.5h0.8M131.3 47.2h0.8M131.4 57.3h0.8M131.1 50.8h0.8M132.5 50.7h0.8M132.9 54.9h0.8M132.4 46.2h0.8M130.6 50.8h0.8M132.7 54.2h0.8M133.7 43.9h0.8M131.1 44.4h0.8M131.4 53.6h0.8M133.6 55.4h0.8M132.3 52.7h0.8M133.8 51.5h0.8M132.1 42.4h0.8M130.8 55.2h0.8M132.5 57.7h0.8M132.4 55.9h0.8M132.9 49.5h0.8" stroke="#555" stroke-width="0.8" fill="none"/>
<line x1="150.7" y1="55.3" x2="198.8" y2="55.3" stroke="#555" stroke-width="1"/>
<line x1="176.3" y1="55.3" x2="176.3" y2="108.4" stroke="#555" stroke-width="1"/>
<line x1="150.7" y1="108.4" x2="197.8" y2="108.4" stroke="#222" stroke-width="1"/>
<path d="M151.7 108.80000000000001v1.3M154.7 108.80000000000001v1.3M157.7 108.80000000000001v1.3M160.7 108.80000000000001v1.3M163.7 108.80000000000001v1.3M166.7 108.80000000000001v1.3M169.7 108.80000000000001v1.3M172.7 108.80000000000001v1.3M175.7 108.80000000000001v1.3M178.7 108.80000000000001v1.3M181.7 108.80000000000001v1.3M184.7 108.80000000000001v1.3M187.7 108.80000000000001v1.3M190.7 108.80000000000001v1.3M193.7 108.80000000000001v1.3M196.7 108.80000000000001v1.3" stroke="#222" stroke-width="0.7" fill="none"/>
<text x="160.5" y="114.8" font-size="5.3" text-anchor="middle" font-weight="bold">200</text>
<text x="187.5" y="114.8" font-size="5.3" text-anchor="middle" font-weight="bold">400</text>
<path d="M159.2 68.0h1M160.2 74.3h1M159.6 62.5h1M160.1 70.8h1M159.3 70.2h1M159.6 61.4h1M159.2 70.5h1M160.5 69.8h1M160.5 86.4h1M159.4 82.8h1M160.2 77.1h1M158.6 67.6h1M158.5 80.8h1M160.1 73.5h1M158.2 71.2h1M161.1 80.4h1M160.2 62.3h1M160.9 77.1h1M159.4 83.0h1M159.0 61.6h1M159.8 64.2h1M158.8 85.2h1M159.9 88.4h1M158.9 67.4h1M158.8 77.3h1M160.5 84.6h1M158.7 68.8h1M159.0 84.5h1M160.4 85.0h1M160.2 57.7h1M158.2 74.2h1M158.0 86.9h1M159.0 86.5h1M159.8 58.2h1M159.5 76.6h1M159.0 82.7h1M158.5 72.8h1M160.2 77.3h1M159.2 70.5h1M159.0 72.5h1M159.7 64.7h1M160.4 63.2h1M159.7 65.3h1M161.3 75.3h1M159.2 78.2h1M160.0 79.3h1M157.8 74.8h1M159.3 63.7h1M159.5 73.1h1M159.4 61.1h1M159.4 59.2h1M159.0 85.7h1M159.0 66.7h1M159.3 63.6h1M159.6 72.0h1M159.8 76.5h1M158.7 86.9h1M159.3 78.9h1M159.0 69.0h1M159.9 89.4h1M160.5 62.2h1M159.7 69.0h1M160.2 60.2h1M159.2 86.3h1M159.8 84.8h1M159.5 65.0h1M158.5 76.2h1M160.1 88.3h1M160.2 57.7h1M160.1 68.6h1M159.5 75.1h1M160.0 69.2h1M160.6 63.7h1M159.1 76.3h1M160.1 65.1h1M159.7 67.9h1M157.8 72.8h1M154.7 70.1h1M159.9 83.9h1M159.8 75.2h1M159.3 93.0h1M159.1 62.1h1M159.7 79.8h1M159.7 70.1h1M160.0 70.7h1M161.0 79.4h1M159.4 87.6h1M160.1 87.1h1M159.9 64.3h1M161.1 67.6h1M160.0 68.0h1M161.1 82.3h1M159.2 62.5h1M158.6 71.5h1M159.9 63.5h1M159.5 71.3h1M160.4 84.1h1M160.2 75.4h1M160.2 76.7h1M158.9 79.8h1M159.4 89.2h1M160.1 84.5h1M159.1 91.8h1M159.7 60.8h1M160.4 64.5h1M159.6 69.2h1M159.7 82.5h1M157.1 77.1h1M159.9 64.2h1M158.6 89.6h1M159.7 69.4h1M159.6 76.5h1M159.8 59.1h1M160.9 84.8h1M160.5 76.4h1M159.5 87.8h1M159.0 75.2h1M160.3 77.7h1M159.6 87.4h1M160.4 84.7h1M159.7 85.5h1M159.4 67.1h1M159.1 93.5h1M159.4 77.6h1M159.7 68.7h1M159.0 90.1h1M159.9 66.6h1M159.2 83.6h1M159.3 77.0h1M159.1 71.4h1M159.6 63.2h1M158.3 73.4h1M160.3 68.6h1M159.9 61.5h1M160.1 74.0h1M160.6 68.0h1M159.8 77.9h1M159.3 74.8h1M160.6 81.2h1M159.2 81.2h1M159.8 62.5h1M157.8 74.1h1M159.4 64.5h1M159.6 68.8h1M160.1 64.6h1M160.0 68.1h1M160.1 60.6h1M159.4 63.4h1M159.1 84.6h1M159.8 64.0h1M159.2 64.0h1M161.2 82.1h1M159.5 83.1h1M158.3 89.0h1M158.7 65.3h1M162.3 67.3h1M159.1 69.6h1M159.9 59.0h1M159.1 79.9h1M159.3 60.2h1M160.0 78.9h1M159.4 68.6h1M159.8 60.9h1M159.1 69.3h1M158.8 82.3h1M159.3 72.0h1M158.8 79.0h1M159.3 78.9h1M158.8 86.8h1M159.8 74.0h1M160.1 80.2h1M159.8 81.3h1M158.5 82.1h1M160.4 80.7h1M158.5 65.2h1M159.7 77.6h1M159.7 65.0h1M160.0 59.8h1M159.0 74.8h1M159.5 59.9h1M160.4 79.6h1M160.1 59.1h1M158.7 73.8h1M159.5 63.6h1M158.8 82.1h1M158.1 87.8h1M160.4 77.2h1M161.4 59.7h1M159.7 64.8h1M159.7 74.1h1M158.9 63.4h1M160.0 85.4h1M159.0 88.7h1M158.5 68.5h1M159.8 66.5h1M159.5 86.8h1M159.1 92.3h1M159.5 69.6h1M160.5 86.0h1M160.1 74.1h1M159.6 72.2h1M159.4 63.7h1M161.0 70.6h1M159.1 77.9h1M157.9 75.8h1M160.2 61.2h1M159.4 63.3h1M158.1 87.4h1M158.3 80.1h1M158.8 65.3h1M158.2 89.2h1M158.9 79.6h1M159.1 71.1h1M160.2 90.0h1M158.3 87.9h1M159.2 67.3h1M159.6 59.3h1M159.8 61.5h1M160.3 78.4h1M160.4 64.6h1M158.0 84.9h1M158.3 78.7h1M159.6 68.4h1M161.1 72.8h1M159.3 67.5h1M159.6 93.9h1M159.4 60.8h1M159.0 85.7h1M159.2 91.3h1M160.3 62.2h1M159.4 61.8h1M159.7 64.4h1M159.8 68.0h1M159.8 64.9h1M158.6 86.2h1M160.1 63.8h1M160.9 70.0h1M159.9 87.6h1M159.2 88.2h1M159.6 61.6h1M159.8 60.2h1M159.4 66.3h1M158.6 81.0h1M159.4 59.3h1M159.0 78.8h1M158.4 64.8h1M161.2 70.0h1M160.2 79.5h1M159.0 77.4h1M158.9 75.7h1M160.5 71.9h1M158.5 86.5h1M158.6 79.1h1M160.3 67.4h1M159.6 62.0h1M160.2 68.7h1M159.7 63.3h1M159.5 80.3h1M159.1 68.3h1M158.5 63.8h1M159.6 85.2h1M159.5 87.6h1M159.4 64.6h1M160.2 85.7h1M159.7 66.3h1M160.0 67.7h1M158.6 83.2h1M158.2 74.5h1M160.1 77.7h1M159.0 75.8h1M158.8 75.9h1M159.6 87.9h1M160.1 59.1h1M159.4 71.5h1M159.2 81.2h1M159.7 87.4h1M160.0 78.2h1M159.6 78.3h1M158.1 82.3h1M160.2 74.4h1M159.1 66.0h1M160.5 60.5h1M158.9 76.3h1M159.7 74.8h1M159.7 59.7h1M159.7 72.1h1M161.3 74.9h1M159.6 60.5h1M158.8 80.8h1M159.6 71.2h1M159.2 80.3h1M160.0 60.0h1M159.9 69.0h1M159.5 65.9h1M158.7 83.7h1M159.9 73.7h1M161.0 66.3h1M159.7 58.9h1M159.9 60.0h1M159.1 71.1h1M161.0 66.1h1M159.7 87.3h1M161.2 67.3h1M158.0 83.2h1M160.0 61.0h1M159.7 69.1h1M159.9 60.9h1M159.4 84.3h1M160.8 76.2h1M160.7 74.1h1M160.5 78.0h1M157.8 73.1h1M158.8 75.7h1M156.5 80.7h1M160.2 66.9h1M157.8 82.0h1M159.8 93.7h1M159.9 67.7h1M160.7 65.7h1M158.6 81.3h1M159.3 62.9h1M158.9 91.5h1M159.3 64.1h1M158.9 77.0h1M158.4 67.3h1M160.6 75.0h1M160.0 78.1h1M159.0 68.6h1M158.8 60.9h1M160.4 65.0h1M158.6 62.2h1M158.8 67.9h1M158.4 79.9h1M159.1 66.5h1M159.6 88.6h1M160.3 74.7h1M159.8 77.4h1M158.6 73.5h1M160.6 75.9h1M160.3 84.6h1M159.3 86.5h1M161.2 70.8h1M158.6 80.6h1M159.1 66.1h1M159.1 93.2h1M159.0 85.6h1M160.0 80.7h1M159.8 65.0h1M159.2 71.9h1M160.2 60.9h1M159.6 62.4h1M159.1 74.1h1M159.0 71.9h1M158.4 79.7h1M159.3 76.7h1M158.8 76.9h1M159.5 69.6h1M159.9 64.5h1M159.9 71.7h1M159.1 84.9h1M160.9 82.3h1M158.5 82.2h1M159.9 59.2h1M159.5 80.0h1M159.6 87.7h1M159.1 67.1h1M159.4 60.2h1M160.0 61.9h1M158.7 62.8h1M159.6 80.8h1M158.6 89.2h1M158.0 76.8h1M159.4 90.3h1M159.0 84.4h1M160.0 92.9h1M158.2 86.3h1M159.6 77.7h1M159.5 81.5h1M159.7 70.8h1M159.1 81.9h1M158.8 62.8h1M160.0 83.2h1M160.1 76.0h1M159.8 62.4h1M159.6 83.0h1M160.3 63.9h1M160.0 86.8h1M159.9 83.5h1M159.2 67.3h1M160.4 74.6h1M158.8 81.6h1M159.8 80.5h1M158.9 67.3h1M159.4 72.8h1M160.2 69.5h1M159.5 60.8h1M160.2 64.6h1M159.1 73.3h1M159.9 93.2h1M159.6 61.0h1M161.0 82.8h1M160.0 81.7h1M159.5 68.9h1M158.8 67.3h1M159.2 74.4h1M161.0 80.4h1M158.7 68.8h1M158.5 67.9h1M159.7 76.8h1M160.5 66.8h1M159.1 87.1h1M158.8 85.6h1M159.3 81.9h1M159.5 64.7h1M160.3 83.3h1M160.2 91.1h1M159.4 78.6h1M158.8 75.3h1M158.5 84.1h1M158.7 63.4h1M159.6 65.3h1M159.2 58.8h1M160.1 72.6h1M159.4 67.7h1M159.1 66.4h1M160.7 74.4h1M158.1 82.9h1M159.9 87.3h1M159.4 89.2h1M159.8 65.5h1M159.7 59.1h1M158.5 81.3h1M160.0 69.3h1M160.5 77.4h1M158.5 64.0h1M159.5 85.0h1M159.5 67.4h1M159.4 64.5h1M159.9 72.2h1M159.4 69.8h1M159.1 84.7h1M160.5 72.1h1M158.7 83.4h1M159.1 77.1h1M159.2 69.2h1M159.0 66.8h1M159.0 83.6h1M160.6 79.1h1M158.8 82.2h1M160.7 61.7h1M158.7 64.6h1M158.9 59.7h1M158.9 81.3h1M158.9 64.4h1M160.3 83.6h1M159.7 85.9h1M159.3 59.6h1M159.3 79.3h1M159.2 83.2h1M161.1 68.9h1M159.7 58.1h1M159.7 78.6h1M159.8 58.4h1M159.7 66.1h1M159.5 72.6h1M158.9 88.7h1M159.6 66.2h1M159.7 67.4h1M158.3 80.6h1M159.4 90.3h1M158.8 92.5h1M158.7 63.5h1M158.2 64.5h1M159.6 90.1h1M160.3 75.3h1M159.1 71.5h1M158.2 79.8h1M158.8 73.8h1M159.2 78.2h1M159.4 74.5h1M159.8 79.7h1M159.2 88.1h1M162.1 85.3h1M159.5 58.1h1M159.9 62.7h1M160.0 74.6h1M159.8 71.2h1M159.9 60.3h1M158.5 78.8h1M160.2 69.9h1M159.1 71.1h1M159.2 89.1h1M158.6 74.2h1M159.8 70.6h1M159.1 80.8h1M159.1 66.8h1M159.8 87.1h1M159.2 63.6h1M159.7 80.8h1M159.7 71.3h1M159.9 62.8h1M159.4 89.9h1M158.9 64.5h1M159.7 64.2h1M159.5 89.6h1M160.9 68.1h1M160.9 81.6h1M160.1 81.8h1M160.3 69.1h1M158.1 67.8h1M159.1 73.2h1M159.4 58.2h1M160.0 69.9h1M159.9 62.8h1M159.9 77.8h1M160.0 65.4h1M159.8 65.9h1M159.3 83.3h1M163.2 70.8h1M160.1 76.3h1M184.2 64.2h1M185.8 62.1h1M183.7 80.5h1M185.2 84.0h1M185.7 76.6h1M185.8 65.4h1M185.5 84.1h1M186.6 62.6h1M186.4 84.8h1M185.1 73.0h1M185.1 70.6h1M184.7 81.1h1M185.4 78.3h1M187.1 68.5h1M185.6 61.9h1M185.2 71.4h1M184.4 64.4h1M183.6 64.8h1M185.2 80.9h1M184.6 77.4h1M185.6 68.5h1M184.7 59.7h1M185.9 69.7h1M185.1 76.5h1M184.7 67.8h1M185.5 73.6h1M184.9 62.8h1M185.2 80.7h1M184.9 59.0h1M185.7 75.9h1M183.8 67.2h1M185.1 64.1h1M185.6 84.6h1M184.6 60.1h1M185.8 71.6h1M186.2 64.3h1M185.3 58.9h1M186.4 61.1h1M185.0 86.5h1M184.1 60.6h1M183.7 82.5h1M184.2 60.7h1M185.2 70.7h1M184.4 59.4h1M184.0 78.5h1M185.8 82.7h1M183.8 66.2h1M185.3 64.5h1M185.7 61.3h1M185.6 58.3h1M185.5 80.0h1M184.2 63.9h1M184.6 83.8h1M186.3 64.5h1M186.6 78.5h1M184.8 72.3h1M185.6 59.5h1M185.7 62.5h1M185.0 84.3h1M186.0 64.9h1M184.4 69.1h1M185.7 65.9h1M185.8 74.9h1M185.1 58.9h1M184.8 62.8h1M186.4 64.8h1M184.6 66.5h1M184.7 61.7h1M182.1 77.9h1M185.0 64.8h1M185.1 57.6h1M184.5 76.9h1M186.3 71.2h1M185.3 63.5h1M185.5 59.6h1M184.2 64.5h1M185.0 82.3h1M186.7 71.4h1M186.2 78.5h1M185.7 72.5h1M185.8 60.5h1M185.8 82.2h1M183.1 63.6h1M185.6 65.8h1M185.5 60.9h1M184.9 65.8h1M187.9 66.3h1M187.1 68.8h1M185.4 64.9h1M185.3 80.3h1M187.2 69.9h1M185.7 77.3h1M185.8 70.9h1M185.4 58.4h1M185.3 65.8h1M185.0 67.8h1M186.0 79.1h1M184.4 85.0h1M186.2 80.2h1M186.2 86.1h1M185.1 76.0h1M183.9 58.3h1M186.9 67.1h1M185.3 89.4h1M184.9 63.1h1M185.9 63.8h1M184.7 60.0h1M183.8 64.2h1M185.3 77.1h1M184.8 69.6h1M184.7 66.2h1M184.6 70.6h1M184.8 65.2h1M185.1 61.9h1M183.5 79.4h1M185.7 60.6h1M185.0 78.3h1M185.0 82.2h1M185.0 65.4h1M185.9 84.1h1M185.5 63.5h1M187.0 79.9h1M184.2 86.7h1M186.1 76.3h1M184.4 86.9h1M183.3 70.3h1M185.5 60.1h1M185.2 75.3h1M185.3 86.8h1M185.3 78.2h1M185.7 72.0h1M185.0 65.3h1M184.7 64.8h1M185.7 60.4h1M185.3 75.4h1M185.3 59.1h1M186.1 58.9h1M184.2 65.9h1M184.4 72.2h1M184.7 77.2h1M185.2 64.2h1M186.5 64.1h1M185.6 84.3h1M186.3 78.1h1M186.6 63.8h1M184.0 62.4h1M185.0 62.5h1M189.1 74.8h1M185.7 74.4h1M184.3 69.4h1M186.5 82.5h1M185.0 86.3h1M184.8 60.9h1M184.8 58.7h1M184.2 65.1h1M185.2 71.6h1M184.7 71.8h1M185.5 67.8h1M185.0 60.1h1M179.9 71.0h1M185.3 60.8h1M185.9 62.1h1M185.6 59.6h1M184.8 72.1h1M186.4 69.2h1M184.8 79.3h1M184.5 65.0h1M186.0 67.0h1M184.2 80.2h1M184.6 68.5h1M183.9 77.6h1M183.8 72.8h1M185.5 64.4h1M184.8 86.0h1M186.8 70.1h1M185.9 59.4h1M185.6 71.9h1M185.0 88.5h1M185.3 79.4h1M185.1 63.0h1M185.9 86.6h1M183.5 69.3h1M185.2 57.1h1M185.3 80.7h1M185.4 59.9h1M185.9 73.7h1M184.9 69.0h1M185.5 58.9h1M184.3 66.3h1M186.0 84.4h1M185.6 69.0h1M185.1 73.0h1M186.3 74.3h1M184.6 77.8h1M183.8 67.3h1M185.7 81.8h1M185.3 66.6h1M184.9 66.9h1M184.8 84.0h1M185.6 67.5h1M186.0 81.4h1M184.9 88.0h1M183.9 73.2h1M185.9 74.6h1M185.5 63.3h1M185.4 60.5h1M186.6 70.5h1M184.7 69.8h1M187.2 72.6h1M185.2 86.4h1M185.2 67.8h1M185.1 67.2h1M185.6 65.5h1M186.0 74.1h1M185.6 72.0h1M184.8 62.8h1M185.0 74.4h1M183.9 77.4h1M184.3 73.8h1M185.4 66.1h1M185.2 67.7h1M184.7 69.5h1M185.4 64.2h1M184.7 64.2h1M185.3 84.6h1M185.3 62.5h1M186.2 71.4h1M186.2 71.6h1M184.5 80.8h1M184.9 64.2h1M183.7 68.2h1M187.1 77.9h1M183.3 72.3h1M185.2 77.4h1M183.9 66.5h1M185.3 79.8h1M185.4 79.8h1M185.7 64.8h1M184.8 64.7h1M185.4 57.6h1M184.8 84.4h1M184.4 67.8h1M184.5 70.7h1M185.0 57.2h1M186.8 74.0h1M186.0 69.6h1M185.7 64.7h1M183.3 73.3h1M185.1 70.8h1M185.8 76.3h1M183.7 68.1h1M185.6 88.8h1M184.5 63.6h1M185.3 83.6h1M185.4 68.2h1M185.2 81.8h1M185.2 77.9h1M185.6 69.2h1M185.6 58.1h1M186.4 65.8h1M186.3 65.8h1M185.4 81.2h1M183.4 71.2h1M184.6 60.6h1M184.8 71.8h1M185.8 71.2h1M186.1 64.0h1M184.9 73.7h1M184.7 78.5h1M185.3 65.7h1M185.4 81.5h1M185.9 77.9h1M186.0 76.0h1M185.1 76.5h1M183.3 73.8h1M185.0 58.3h1M183.7 63.8h1M185.1 82.1h1M186.2 59.9h1M186.4 69.7h1M185.5 62.7h1M187.0 80.0h1M184.9 88.4h1M185.6 70.0h1M185.8 73.6h1M184.7 79.1h1M185.0 85.9h1M185.7 62.8h1M185.4 62.5h1M185.0 57.7h1M185.1 70.2h1M185.7 63.2h1M185.1 80.8h1M184.6 76.8h1M185.6 79.9h1M185.1 69.6h1M185.4 77.0h1M184.5 61.7h1M185.2 75.4h1M184.9 64.9h1M184.6 59.2h1M186.6 79.5h1M185.4 66.8h1M185.5 80.3h1M185.5 57.7h1M186.5 77.8h1M186.0 82.9h1M184.6 72.8h1M185.4 64.4h1M184.7 77.4h1M185.1 65.5h1M185.6 83.2h1M186.4 71.7h1M184.3 69.8h1M185.9 81.7h1M185.6 67.1h1M184.3 69.8h1M186.4 61.2h1M185.2 72.6h1M186.3 67.7h1M185.2 59.4h1M185.5 65.4h1M185.5 58.2h1M185.3 73.9h1M185.3 70.3h1M185.8 59.5h1M186.3 76.3h1M186.8 64.1h1M185.6 75.1h1M183.6 76.3h1M183.9 73.2h1M185.8 70.3h1M184.6 62.6h1M184.0 66.8h1M185.6 58.0h1M184.0 80.9h1M184.7 57.4h1M185.4 63.7h1M186.0 62.9h1M185.8 84.9h1M184.2 68.5h1M185.7 62.0h1M184.5 82.0h1M185.4 62.0h1M183.8 83.1h1M184.1 76.2h1M185.5 88.0h1M185.2 83.4h1M185.6 65.9h1M183.7 63.6h1M186.3 64.7h1M185.8 62.0h1M186.6 84.7h1M184.8 63.3h1M186.1 78.8h1M185.8 78.8h1M185.1 76.9h1M185.8 77.0h1M185.4 73.9h1M185.8 82.0h1M185.1 80.8h1M185.3 73.3h1M184.8 62.1h1M185.1 57.4h1M185.4 85.1h1M185.5 83.3h1M185.4 58.7h1M185.7 61.2h1M184.7 81.6h1M184.7 64.1h1M184.4 86.3h1M185.7 58.2h1M186.0 89.1h1M185.6 66.7h1M185.5 60.0h1M184.5 75.0h1M185.4 74.7h1M186.6 77.4h1M185.4 58.9h1M183.9 76.0h1M185.5 80.0h1M185.2 60.9h1M185.5 58.1h1M186.8 70.3h1M185.3 84.5h1M185.7 69.5h1M185.8 61.5h1M184.6 81.9h1M185.1 61.2h1M184.0 81.1h1M185.4 64.3h1M186.0 73.0h1M185.6 70.9h1M185.5 61.0h1M182.4 62.4h1M184.6 81.0h1M186.5 75.1h1M185.6 60.9h1M185.0 73.2h1M185.7 65.0h1M184.6 66.7h1M184.3 73.5h1M185.6 76.7h1M185.2 67.8h1M185.6 71.7h1M186.8 64.5h1M185.6 67.9h1M185.5 71.7h1M187.2 76.3h1M184.8 61.0h1M185.2 61.8h1M184.8 71.0h1M185.2 71.5h1M186.7 84.4h1M183.6 67.5h1M186.4 80.6h1M184.1 78.1h1M183.8 69.5h1M185.2 75.0h1M185.2 81.2h1M185.0 79.4h1M184.6 61.3h1M185.8 84.1h1M184.1 77.9h1M185.9 69.5h1M186.4 61.3h1M184.9 89.5h1M185.4 61.8h1M185.4 85.7h1M184.4 60.7h1M185.3 74.1h1M186.1 65.5h1M186.1 79.8h1M185.8 83.1h1M184.8 75.2h1M185.2 60.8h1M184.5 74.7h1M186.4 68.5h1M184.6 76.8h1M184.3 71.3h1M184.8 80.6h1M186.5 64.3h1M184.4 60.8h1M185.8 62.0h1M186.0 69.7h1M185.0 85.6h1M185.5 71.8h1M184.3 62.1h1M185.5 86.2h1M185.6 84.2h1M184.9 85.5h1M185.5 80.7h1M185.4 73.8h1M185.7 63.8h1M185.7 61.3h1M186.2 82.2h1M185.2 68.7h1M185.8 65.6h1M186.2 75.4h1M186.7 66.7h1M185.4 72.9h1M184.9 78.9h1M184.7 74.5h1M185.2 73.6h1M183.7 72.3h1M184.5 63.6h1M186.0 74.3h1M185.9 57.6h1M186.6 69.9h1M184.9 84.6h1M186.5 78.4h1M185.6 66.6h1M184.8 72.2h1M186.3 83.4h1M186.2 79.3h1M186.2 73.9h1M185.8 81.0h1M184.7 58.4h1M185.1 63.5h1M185.1 71.1h1M184.8 71.5h1M186.2 70.8h1M185.6 87.3h1M186.2 68.2h1M185.1 78.8h1M185.1 66.0h1M185.3 85.6h1M185.3 89.3h1M185.2 78.6h1M186.5 66.6h1M185.3 58.2h1M183.3 72.5h1M184.8 66.7h1M185.3 58.2h1M185.5 69.3h1M185.4 64.5h1M185.2 60.4h1M184.8 85.5h1M184.7 65.6h1M185.9 84.1h1M186.1 66.2h1M186.1 82.2h1M186.3 87.3h1M184.6 67.0h1M184.8 74.4h1M185.7 77.3h1M185.9 76.2h1M185.9 68.9h1M184.7 72.4h1M185.0 77.0h1M186.9 75.3h1M186.0 68.5h1M185.8 84.1h1M186.1 79.6h1M186.1 59.2h1M185.2 68.4h1M185.7 77.1h1M183.9 75.0h1M185.1 73.9h1M185.6 85.3h1M185.8 65.2h1M184.9 60.5h1M184.2 67.8h1M184.6 69.1h1M183.8 82.4h1M184.4 76.5h1M185.2 74.6h1M185.8 77.2h1M186.7 70.8h1M185.5 72.2h1M184.9 84.7h1M185.4 59.8h1M185.2 87.2h1M185.9 61.6h1M186.3 78.0h1M183.9 67.7h1M185.1 72.1h1M187.1 79.5h1M186.4 79.3h1M186.4 81.5h1M184.0 61.2h1M186.0 76.0h1M185.7 74.0h1M185.2 72.1h1M185.9 64.8h1M185.6 73.9h1M185.4 57.8h1M185.1 78.3h1M185.2 63.0h1M184.6 82.9h1M185.1 63.1h1M184.5 83.6h1M184.2 69.0h1M185.4 61.1h1M184.0 67.1h1M184.7 83.9h1M184.8 81.7h1M185.5 89.6h1M184.3 59.0h1M183.3 69.9h1" stroke="#000" stroke-width="1" fill="none"/>
<line x1="39.8" y1="153.6" x2="81.7" y2="153.6" stroke="#555" stroke-width="1"/>
<line x1="61.3" y1="153.6" x2="61.3" y2="208" stroke="#555" stroke-width="1"/>
<line x1="39.8" y1="208" x2="80.7" y2="208" stroke="#222" stroke-width="1"/>
<path d="M40.8 208.4v1.3M43.8 208.4v1.3M46.8 208.4v1.3M49.8 208.4v1.3M52.8 208.4v1.3M55.8 208.4v1.3M58.8 208.4v1.3M61.8 208.4v1.3M64.8 208.4v1.3M67.8 208.4v1.3M70.8 208.4v1.3M73.8 208.4v1.3M76.8 208.4v1.3M79.8 208.4v1.3" stroke="#222" stroke-width="0.7" fill="none"/>
<text x="48.7" y="213.6" font-size="5.3" text-anchor="middle" font-weight="bold">200</text>
<text x="72.6" y="213.6" font-size="5.3" text-anchor="middle" font-weight="bold">400</text>
<path d="M49.6 144.0L50.5 139.5L53.0 136.3L58.0 134.5L66.0 133.6L72.5 132.8L73.0 138.0L68.0 139.0L61.0 140.2L55.0 142.0L51.5 145.0Z" fill="#000" opacity="1"/>
<path d="M68.2 140.6h1M50.2 144.7h1M55.4 148.3h1M61.1 136.5h1M67.3 135.7h1M60.9 134.8h1M63.6 133.3h1M69.8 137.2h1M55.2 136.1h1M73.4 132.7h1M49.2 151.6h1M61.7 138.4h1M67.3 138.4h1M65.9 142.9h1M59.1 138.5h1M61.3 145.8h1M49.0 153.4h1M72.7 142.2h1M67.4 136.1h1M63.9 143.5h1M67.0 136.6h1M63.6 139.7h1M50.0 141.8h1M66.2 144.1h1M70.2 141.6h1M73.1 140.9h1M71.0 142.4h1M56.9 143.8h1M53.7 141.4h1M72.4 141.2h1M69.1 137.7h1M53.6 136.4h1M65.8 136.1h1M54.4 141.2h1M55.6 135.5h1M51.0 144.6h1M61.4 135.7h1M52.6 135.9h1M61.3 142.8h1M70.7 137.4h1M65.4 142.4h1M67.5 135.2h1M60.5 132.3h1M49.3 147.9h1M54.8 142.0h1M61.2 139.3h1M62.1 146.6h1M61.5 136.1h1M53.8 143.8h1M52.8 148.3h1M64.9 142.5h1M55.0 140.7h1M57.6 144.0h1M64.2 138.9h1M57.9 133.6h1M54.1 148.5h1M54.0 145.3h1M66.5 139.7h1M64.5 135.4h1M57.0 141.8h1M51.6 147.1h1M58.1 146.2h1M59.2 136.9h1M63.4 140.7h1M71.3 143.5h1M70.9 140.0h1M63.7 140.1h1M60.9 141.8h1M72.3 138.7h1M61.4 144.0h1M62.6 133.2h1M67.0 135.5h1M64.6 143.5h1M55.3 135.2h1M72.5 141.0h1M58.5 134.6h1M55.3 145.7h1M72.6 138.9h1M65.5 136.9h1M73.9 139.7h1M51.9 136.8h1M62.6 134.4h1M62.2 137.1h1M51.6 148.1h1M54.9 140.7h1M70.4 138.9h1M69.9 135.9h1M58.7 143.1h1M65.2 142.1h1M68.3 137.7h1M60.7 143.7h1M65.4 133.2h1M71.5 140.0h1M68.2 140.5h1M64.5 141.0h1M73.0 131.7h1M60.7 145.1h1M58.4 144.9h1M52.1 136.7h1M49.1 145.8h1M51.3 139.7h1M69.2 137.5h1M72.1 138.0h1M71.6 131.9h1M53.2 135.1h1M53.0 142.3h1M64.3 134.5h1M61.6 137.5h1M58.6 137.2h1M65.3 141.3h1M61.1 135.2h1M62.0 143.1h1M52.0 144.5h1M70.1 134.9h1M65.3 143.1h1M59.6 132.8h1M57.6 144.2h1M53.4 140.5h1M73.6 139.8h1M58.5 138.5h1M72.0 142.7h1M60.5 143.4h1M73.1 135.8h1M67.9 142.7h1M55.2 138.3h1M68.0 133.7h1M49.6 144.4h1M54.0 135.1h1M60.3 144.5h1M67.9 141.4h1M52.3 147.7h1M51.6 149.8h1M63.0 140.3h1M52.5 136.4h1M53.0 144.2h1M52.1 146.0h1M65.0 137.4h1M65.8 135.1h1M51.9 146.5h1M59.2 137.3h1M65.7 134.5h1M60.1 140.7h1M62.7 139.7h1M63.2 135.6h1M56.5 141.3h1M52.3 149.5h1M55.4 134.4h1M59.9 138.0h1M63.7 135.8h1M72.4 133.8h1M59.5 141.7h1M54.8 144.4h1M74.4 140.7h1M53.4 136.8h1M59.2 136.0h1M60.8 141.8h1M63.2 143.8h1M65.9 137.9h1M67.0 143.7h1M69.1 142.3h1M60.7 138.0h1M73.6 139.2h1M59.0 139.2h1M69.1 135.9h1M60.3 135.3h1M52.1 138.7h1M60.0 139.1h1M60.6 143.9h1M70.0 141.8h1M50.6 141.4h1M62.9 145.8h1M69.2 136.1h1M69.0 133.9h1M58.1 139.1h1M62.5 139.2h1M53.5 140.9h1M52.3 140.8h1M65.2 143.6h1M67.7 136.1h1M50.6 152.9h1M50.9 152.1h1M49.5 149.1h1M60.2 139.7h1M54.8 138.9h1M52.8 140.3h1M50.5 148.9h1M68.6 143.1h1M52.3 137.6h1M60.5 141.0h1M55.5 134.8h1M50.2 148.0h1M59.8 136.5h1M73.7 139.3h1M66.9 144.9h1M68.1 142.1h1M54.4 142.1h1M71.8 137.6h1M71.3 143.7h1M64.7 133.6h1M55.3 146.6h1M65.9 137.7h1M67.3 137.7h1M50.3 152.6h1M59.7 142.2h1M72.5 142.8h1M64.2 139.9h1M66.5 138.4h1M56.3 143.4h1M67.7 137.2h1M50.1 148.2h1M68.0 138.0h1M63.6 134.7h1M67.7 140.3h1M70.6 132.2h1M51.1 139.3h1M52.5 147.8h1M59.7 135.5h1M74.1 139.5h1M64.1 138.1h1M59.4 141.6h1M62.1 131.2h1M52.6 139.8h1M70.9 142.3h1M56.3 140.7h1M65.9 142.4h1M62.6 141.8h1M55.3 138.2h1M71.3 142.8h1M58.8 133.9h1M49.8 145.9h1M63.1 136.6h1M63.6 137.8h1M65.6 137.8h1M59.2 138.0h1M69.6 137.9h1M55.7 148.4h1M59.3 136.4h1M65.8 141.2h1M52.0 150.7h1M64.9 138.1h1M69.5 142.8h1M66.5 141.4h1M68.8 132.6h1M58.1 134.7h1M52.2 141.2h1M71.8 137.1h1M59.1 137.6h1M72.4 138.4h1M51.4 139.2h1M72.7 142.0h1M73.5 138.0h1M51.6 139.6h1M55.6 144.0h1M53.2 147.9h1M58.7 144.4h1M57.1 147.1h1M58.3 140.3h1M72.2 135.2h1M53.2 146.1h1M72.8 133.7h1M63.9 139.7h1M57.2 138.5h1M72.3 134.3h1M55.6 139.8h1M51.1 141.6h1M58.9 135.3h1M62.1 145.8h1M69.8 139.4h1M71.3 143.6h1M66.1 137.9h1M54.5 147.5h1M54.1 141.4h1M60.9 142.8h1M57.2 144.1h1M64.6 138.8h1M52.2 141.7h1M51.2 143.0h1M52.4 150.1h1M53.7 135.8h1M62.5 133.4h1M58.7 141.0h1M55.9 144.0h1M59.6 146.7h1M57.6 140.2h1M59.8 140.3h1M53.6 141.2h1M50.6 141.4h1M71.4 140.0h1M62.8 135.8h1M51.2 149.6h1M63.7 143.4h1M64.5 141.8h1M48.8 151.2h1M71.1 135.8h1M55.3 148.9h1M58.6 143.0h1M66.3 137.2h1M65.1 139.9h1M68.3 133.8h1M49.5 144.6h1M53.4 148.2h1M66.5 140.2h1M54.2 140.3h1M73.9 135.9h1M56.1 140.4h1M61.4 134.4h1M50.0 140.9h1M58.3 141.7h1M70.1 135.7h1M49.6 150.9h1M59.2 136.9h1M64.2 139.7h1M58.0 139.2h1M62.2 139.0h1M54.8 136.1h1M60.2 134.5h1M56.8 145.7h1M58.7 134.7h1M68.6 135.4h1M56.4 140.1h1M64.1 133.1h1M65.2 140.1h1M55.7 137.2h1M60.9 142.1h1M62.3 136.3h1M57.2 138.5h1M52.3 143.6h1M55.6 140.9h1M51.9 143.1h1M50.3 148.7h1M57.4 145.3h1M66.0 139.7h1M52.2 151.4h1M48.9 150.7h1M62.8 143.7h1M57.4 141.0h1M73.1 133.3h1M70.5 141.6h1M50.0 152.4h1M67.3 139.2h1M54.7 135.3h1M58.6 136.1h1M65.7 141.6h1M49.7 153.9h1M56.1 137.4h1M55.0 143.5h1M66.5 135.8h1M62.9 138.0h1M72.2 141.8h1M57.9 140.2h1M68.6 144.8h1M60.2 137.3h1M49.6 150.8h1M70.3 137.4h1M55.5 148.8h1M66.5 136.2h1M58.8 144.6h1M61.8 140.6h1M63.7 145.8h1M52.2 142.4h1M65.5 132.8h1M67.5 132.6h1M59.4 133.3h1M69.2 138.9h1M65.0 138.3h1M68.8 143.3h1M49.0 153.3h1M68.6 137.4h1M67.4 139.5h1M59.7 145.7h1M51.7 149.6h1M63.8 135.2h1M60.8 137.4h1M54.4 145.4h1M63.6 138.4h1M53.8 135.6h1M71.7 132.6h1M62.0 135.6h1M67.0 134.8h1M63.4 136.2h1M57.0 146.1h1M60.8 144.3h1M60.2 141.9h1M55.9 136.3h1M57.5 140.5h1M72.3 133.8h1M50.5 149.1h1M52.2 142.2h1M50.3 140.7h1M50.4 153.8h1M60.6 143.8h1M66.3 137.2h1M64.6 139.6h1M58.5 140.0h1M62.7 142.5h1M51.0 147.2h1M50.8 148.3h1M69.1 141.8h1M68.8 133.7h1M49.7 153.4h1M56.1 137.1h1M66.7 137.8h1M66.1 139.4h1M56.7 141.2h1M60.1 137.9h1M53.5 145.2h1M72.8 137.0h1M52.3 139.9h1M61.9 134.4h1M60.3 145.9h1M70.3 142.2h1M54.2 147.5h1M60.9 135.3h1M52.4 142.0h1M51.4 152.8h1M53.0 148.2h1M50.7 151.9h1M68.1 136.6h1M68.6 141.3h1M65.6 134.2h1M69.5 137.3h1M54.7 139.8h1M61.7 138.4h1M52.2 136.9h1M49.6 153.2h1M54.5 138.1h1M66.5 141.2h1M66.0 135.7h1M50.8 138.9h1M57.9 134.1h1M50.0 143.3h1M58.4 138.1h1M73.9 136.1h1M65.6 143.7h1M53.5 142.4h1M66.5 136.4h1M73.6 135.0h1M61.8 140.6h1M51.5 142.2h1M67.2 139.1h1M65.9 136.3h1M69.2 138.8h1M65.1 133.9h1M59.5 142.0h1M72.8 133.0h1M66.3 141.7h1M51.1 148.2h1M51.0 138.7h1M61.4 139.7h1M53.4 143.4h1M53.9 137.9h1M58.6 139.8h1M62.3 136.1h1M57.2 142.5h1M51.1 148.1h1M66.9 135.4h1M52.8 138.8h1M71.6 140.0h1M57.7 141.0h1M66.4 140.7h1M63.3 142.3h1M68.2 135.5h1M64.4 135.4h1M71.0 133.1h1M55.5 138.2h1M59.3 137.1h1M68.2 140.5h1M67.2 143.1h1M55.8 145.7h1M62.1 139.6h1M73.3 140.2h1M68.6 137.3h1M69.5 133.3h1M57.2 141.0h1M58.9 133.4h1M49.3 140.2h1M61.7 139.0h1M61.1 136.8h1M54.4 135.4h1M64.1 140.3h1M57.9 141.0h1M53.1 144.8h1M64.5 142.3h1M52.8 145.2h1M64.0 144.1h1M56.4 142.3h1M71.1 134.8h1M57.2 140.7h1M53.0 136.6h1M68.0 137.2h1M72.6 137.0h1M70.8 133.9h1M62.5 142.2h1M50.5 141.8h1M54.2 144.1h1M68.6 143.5h1M60.8 143.4h1M57.9 139.8h1M67.4 142.6h1M53.4 146.8h1M67.4 132.6h1M48.7 152.3h1M57.9 142.7h1M65.5 142.2h1M68.8 133.8h1M58.3 145.4h1M57.0 141.0h1M51.3 139.7h1M55.3 137.3h1M59.5 138.4h1M53.9 138.0h1M60.5 138.1h1M55.3 138.3h1M73.3 141.1h1M60.5 139.7h1M51.6 139.2h1M50.3 148.9h1M51.3 142.3h1M66.7 139.6h1M72.5 138.4h1M69.7 137.1h1M63.9 145.8h1M61.1 138.3h1M51.2 134.1h1M67.8 133.2h1M53.1 151.0h1M59.9 133.9h1M72.3 139.1h1M70.9 139.4h1M62.3 139.2h1M71.9 141.2h1M53.5 146.7h1M54.9 147.1h1M54.7 138.6h1M67.5 138.3h1M51.0 146.1h1M63.3 135.9h1M51.2 145.1h1M59.4 136.6h1M61.4 138.4h1M52.6 140.8h1M52.4 142.8h1M52.5 140.1h1M59.0 135.4h1M49.2 145.7h1M56.8 145.6h1M50.3 149.9h1M73.8 141.0h1M70.5 143.6h1M65.4 143.4h1M55.4 138.9h1M59.8 135.1h1M62.8 141.0h1M50.7 136.3h1M61.6 140.2h1M71.6 140.8h1M64.1 146.3h1M65.0 139.3h1M71.7 136.8h1M54.3 135.8h1M55.3 148.5h1M55.1 135.5h1M74.0 133.4h1M53.1 142.2h1M51.4 143.5h1M70.7 138.8h1M54.9 143.4h1M66.9 133.9h1M63.3 136.7h1M67.6 138.0h1M50.2 140.3h1M55.7 134.4h1M70.3 143.6h1M66.0 135.1h1M59.3 136.7h1M65.1 136.7h1M49.7 135.2h1M67.1 137.4h1M48.6 154.5h1M58.7 133.9h1M63.0 140.0h1M59.6 143.3h1M64.5 136.7h1M62.1 139.9h1M66.2 143.6h1M52.9 142.0h1M52.4 146.3h1M67.4 136.8h1M64.0 145.5h1M69.0 142.7h1M51.3 143.4h1M70.8 140.3h1M56.4 135.6h1M58.7 136.2h1M71.8 140.1h1M69.0 141.4h1M54.7 145.2h1M57.5 137.1h1M69.9 136.5h1M52.4 135.9h1M59.9 131.3h1M50.5 137.1h1M50.7 137.8h1M56.7 135.3h1M65.1 136.6h1M67.4 137.1h1M74.0 137.9h1M55.8 139.4h1M55.4 135.2h1M53.8 137.7h1M56.4 139.6h1M52.7 147.6h1M53.8 146.5h1M71.2 142.6h1M69.3 133.8h1M52.8 147.6h1M71.5 137.8h1M63.1 139.4h1M58.5 138.4h1M53.7 136.8h1M60.2 142.8h1M64.3 136.1h1M53.4 138.2h1M65.4 142.7h1M58.5 136.9h1M51.3 140.7h1M48.9 147.5h1M72.5 134.3h1M52.3 145.4h1M53.1 147.9h1M62.9 134.6h1M67.6 132.1h1M52.1 148.3h1M54.2 137.2h1M69.9 133.6h1M68.5 137.7h1M53.7 142.0h1M65.2 141.6h1M74.1 135.0h1M56.6 139.4h1M48.5 166.9h1M47.8 182.8h1M48.1 174.1h1M47.7 158.6h1M48.2 175.9h1M47.5 182.2h1M47.8 189.0h1M47.3 196.0h1M48.2 195.5h1M48.7 178.0h1M49.3 163.0h1M47.3 192.8h1M48.5 163.5h1M47.9 173.5h1M47.4 184.4h1M48.2 180.6h1M47.2 195.7h1M48.6 191.0h1M48.3 160.5h1M48.5 170.8h1M48.2 161.1h1M47.9 174.8h1M47.4 190.0h1M48.8 178.1h1M48.4 185.4h1M48.6 159.4h1M47.3 198.8h1M47.8 185.5h1M48.7 157.7h1M47.2 199.5h1M47.6 197.2h1M47.1 170.1h1M48.1 161.0h1M47.5 185.9h1M47.7 182.1h1M49.0 154.5h1M48.1 154.2h1M47.5 159.6h1M48.2 158.1h1M47.2 185.6h1M47.4 182.2h1M47.5 165.9h1M47.5 197.8h1M48.5 159.2h1M47.0 192.5h1M48.2 171.3h1M48.1 171.1h1M47.0 168.2h1M48.1 166.7h1M47.5 179.1h1M47.4 176.0h1M48.2 153.3h1M46.7 175.6h1M47.1 185.7h1M47.2 164.4h1M48.6 155.3h1M47.3 178.5h1M48.7 158.7h1M47.8 170.8h1M48.4 162.3h1M47.6 175.9h1M47.9 166.6h1M48.3 162.6h1M48.3 154.6h1M48.5 163.9h1M47.0 196.5h1M48.3 152.6h1M46.9 192.4h1M49.0 159.6h1M48.5 187.3h1M48.0 174.9h1M48.4 163.5h1M48.1 161.6h1M48.0 166.5h1M49.2 161.5h1M48.1 175.7h1M48.0 174.5h1M47.5 184.6h1M47.9 188.1h1M47.9 190.8h1M47.5 182.5h1M48.1 166.0h1M47.5 184.7h1M48.4 160.4h1M47.6 178.7h1M47.7 192.5h1M48.2 169.5h1M47.5 192.2h1M47.7 175.9h1M47.7 192.2h1M47.2 201.2h1M47.1 201.7h1M47.4 181.1h1M48.0 169.4h1M47.2 192.8h1M47.3 174.1h1M48.6 172.3h1M47.4 165.3h1M48.4 150.9h1M48.3 183.9h1M47.9 163.8h1M47.4 191.2h1M47.6 161.1h1M47.4 200.2h1M46.7 183.9h1M47.8 197.8h1M47.6 178.2h1M47.9 190.2h1M47.3 195.3h1M47.0 201.4h1M47.4 182.6h1M48.3 188.7h1M47.5 196.1h1M47.8 177.3h1M48.7 171.6h1M47.2 169.5h1M48.0 167.0h1M48.6 172.0h1M47.2 188.5h1M47.8 190.6h1M47.5 184.2h1M48.9 159.8h1M47.8 192.6h1M48.2 170.8h1M48.2 160.5h1M47.5 177.4h1M46.9 195.7h1M47.2 183.8h1M46.8 175.5h1M47.4 192.9h1M48.1 179.6h1M48.5 191.8h1M48.3 168.3h1M47.6 181.3h1M47.6 168.1h1M47.3 189.6h1M48.1 180.1h1M48.9 165.1h1M48.4 177.3h1M48.7 157.7h1M47.8 180.3h1M48.3 156.0h1M47.6 185.8h1M45.6 177.0h1M48.5 189.2h1M48.4 160.1h1M48.0 197.7h1M47.6 167.8h1M48.6 189.4h1M48.0 164.5h1M47.4 195.8h1M47.4 199.0h1M48.8 160.3h1M48.7 181.6h1M47.6 194.3h1M47.1 195.4h1M49.0 158.7h1M47.9 174.8h1M47.2 180.7h1M47.4 169.6h1M47.5 186.1h1M47.1 167.0h1M47.6 184.6h1M48.0 163.5h1M48.9 174.7h1M48.6 168.6h1M48.4 156.9h1M45.5 175.4h1M47.0 196.2h1M47.6 177.5h1M48.1 185.6h1M47.6 159.6h1M47.6 181.1h1M46.9 198.6h1M48.7 178.9h1M47.8 169.9h1M48.1 155.1h1M47.5 195.1h1M49.4 193.3h1M47.5 182.7h1M48.1 172.1h1M47.6 175.1h1M48.4 151.0h1M49.0 156.7h1M48.1 171.2h1M47.7 172.7h1M49.0 159.9h1M48.1 181.2h1M48.8 175.3h1M47.7 171.6h1M47.6 187.1h1M47.8 190.5h1M48.6 164.6h1M47.5 187.6h1M49.2 159.5h1M47.1 184.8h1M47.8 194.0h1M48.3 158.7h1M47.7 180.7h1M47.7 183.5h1M48.9 184.7h1M48.3 160.8h1M46.7 188.7h1M48.5 180.2h1M48.4 166.2h1M48.4 169.8h1M47.6 203.0h1M48.6 189.9h1M47.7 169.5h1M47.7 177.4h1M48.5 171.4h1M47.3 198.0h1M47.8 185.6h1M47.1 202.3h1M47.2 201.6h1M48.5 174.6h1M46.8 201.5h1M48.3 170.7h1M46.7 178.4h1M48.6 191.4h1M48.2 191.2h1M48.7 184.0h1M47.9 199.8h1M47.8 166.7h1M48.2 181.8h1M47.6 169.5h1M48.2 179.9h1M47.5 190.2h1M48.2 178.3h1M48.4 153.0h1M48.0 175.8h1M47.1 197.7h1M47.7 174.3h1M47.4 182.2h1M47.6 183.5h1M47.7 196.1h1M47.6 201.6h1M47.2 189.9h1M48.7 151.1h1M47.1 199.4h1M48.0 188.4h1M48.1 167.5h1M47.5 174.3h1M47.6 188.1h1M48.7 157.6h1M48.5 154.1h1M47.7 194.7h1M47.9 178.5h1M48.2 197.3h1M48.0 194.0h1M47.8 187.0h1M48.0 185.4h1M48.2 196.9h1M48.6 152.9h1M48.2 173.7h1M47.4 174.7h1M48.4 181.2h1M47.6 177.8h1M47.8 178.3h1M48.2 196.8h1M47.2 190.5h1M48.6 174.5h1M47.4 192.1h1M47.1 175.4h1M48.0 162.5h1M47.3 191.4h1M47.4 199.0h1M47.5 186.4h1M47.3 197.8h1M47.8 178.3h1M48.7 167.7h1M48.5 171.0h1M47.6 173.0h1M47.8 184.5h1M48.0 164.4h1M48.8 161.4h1M47.1 174.4h1M47.7 195.3h1M48.1 187.6h1M48.1 158.2h1M47.7 176.9h1M47.8 188.9h1M47.1 174.7h1M48.1 158.0h1M46.9 190.8h1M47.4 202.5h1M47.6 168.7h1M47.3 198.6h1M47.5 159.0h1M47.6 174.4h1M48.8 163.1h1M47.4 201.8h1M48.8 150.6h1M46.6 193.8h1M46.6 186.9h1M49.0 177.6h1M47.7 192.8h1M47.1 178.7h1M48.1 187.1h1M48.3 173.0h1M45.9 169.7h1M48.5 166.8h1M47.7 199.2h1M48.3 176.5h1M48.5 158.7h1M48.7 152.5h1M47.4 202.3h1M47.7 187.4h1M47.5 195.4h1M47.4 194.3h1M47.9 183.0h1M48.7 153.8h1M48.2 163.7h1M47.5 193.7h1M49.1 170.7h1M49.1 169.9h1M47.5 197.1h1M48.0 162.0h1M49.0 161.1h1M47.3 168.4h1M48.7 183.3h1M48.2 191.9h1M47.5 181.9h1M47.7 184.1h1M47.5 170.2h1M48.4 162.5h1M47.2 182.2h1M47.2 174.0h1M48.2 172.3h1M47.3 187.5h1M47.7 182.1h1M47.6 185.1h1M48.1 157.0h1M47.6 194.5h1M47.6 168.8h1M48.5 162.4h1M47.9 167.2h1M48.2 189.5h1M47.3 193.4h1M47.9 190.9h1M48.5 173.2h1M48.1 166.6h1M47.6 165.2h1M48.4 176.0h1M47.5 165.6h1M48.0 182.0h1M46.7 177.2h1M48.0 165.3h1M47.7 183.4h1M47.9 164.4h1M47.8 188.4h1M48.5 172.6h1M48.3 163.8h1M48.3 165.6h1M48.6 181.4h1M48.5 168.6h1M48.3 170.1h1M47.3 189.4h1M48.0 157.6h1M48.1 159.4h1M48.7 163.9h1M47.6 191.1h1M47.6 199.9h1M47.3 169.4h1M46.9 172.2h1M48.3 164.4h1M47.1 167.0h1M47.5 189.3h1M46.9 179.3h1M47.4 198.2h1M48.6 186.9h1M47.7 160.7h1M48.0 192.7h1M48.2 170.1h1M48.1 165.6h1M47.2 182.6h1M47.2 182.4h1M48.0 165.3h1M48.7 153.8h1M48.0 168.3h1M46.9 178.5h1M47.1 169.3h1M47.8 186.5h1M47.3 199.8h1M48.0 190.2h1M48.4 169.0h1M48.2 185.4h1M48.7 171.0h1M48.5 171.6h1M47.8 189.6h1M46.6 192.3h1M48.4 173.0h1M48.5 176.2h1M48.5 166.8h1M47.4 170.8h1M48.1 180.0h1M48.1 190.6h1M48.6 154.6h1M47.4 173.3h1M47.2 163.7h1M47.4 176.7h1M48.4 191.8h1M48.1 173.0h1M48.1 189.9h1M48.4 156.9h1M47.1 199.5h1M48.9 152.3h1M48.5 164.2h1M48.9 155.3h1M47.9 182.5h1M47.0 197.3h1M48.9 170.1h1M48.1 164.0h1M48.2 174.6h1M48.1 177.6h1M48.1 189.4h1M47.7 195.3h1M48.7 179.9h1M48.5 153.0h1M48.6 177.7h1M46.7 186.5h1M47.5 192.0h1M47.2 183.7h1M47.5 192.1h1M48.9 162.1h1M47.9 184.0h1M48.5 176.7h1M48.5 155.6h1M47.0 171.1h1M47.4 179.0h1M47.0 184.7h1M48.5 153.8h1M47.6 184.6h1M47.8 197.8h1M48.0 186.2h1M48.0 183.3h1M47.9 189.3h1M48.2 161.0h1M49.1 163.7h1M46.9 184.8h1M48.1 183.4h1M46.6 180.9h1M48.6 176.0h1M48.8 168.9h1M47.5 192.3h1M47.2 168.3h1M48.7 161.8h1M47.6 181.2h1M47.3 198.7h1M48.0 165.8h1M47.7 182.3h1M47.2 183.7h1M47.5 198.3h1M48.0 195.2h1M47.3 201.2h1M47.5 168.6h1M47.8 171.5h1M48.1 165.0h1M48.4 153.1h1M48.0 181.5h1M47.8 181.4h1M47.9 178.8h1M48.0 172.9h1M47.0 187.6h1M48.2 174.6h1M48.7 166.2h1M48.3 166.3h1M47.8 186.0h1M49.1 180.3h1M48.4 166.4h1M48.6 190.7h1M47.9 162.1h1M47.3 180.7h1M47.0 177.4h1M48.2 153.8h1M47.1 191.8h1M48.0 171.7h1M48.4 161.4h1M47.8 171.6h1M48.0 175.9h1M71.2 182.3h1M67.4 175.0h1M68.6 183.5h1M71.9 184.9h1M70.8 187.0h1M74.1 179.1h1M68.9 178.5h1M72.5 183.2h1M70.9 182.0h1M73.2 182.7h1M72.9 179.8h1M69.0 181.9h1M69.4 181.9h1M69.8 172.0h1M74.4 186.6h1M71.5 180.0h1M68.7 174.5h1M67.8 175.0h1M71.3 181.7h1M71.0 174.9h1M69.9 180.3h1M71.0 177.2h1M67.9 180.1h1M70.8 179.7h1M71.1 189.6h1M71.2 183.5h1M69.5 187.6h1M70.9 176.3h1M69.9 180.8h1M67.0 177.3h1M66.8 184.3h1M71.8 188.4h1M68.9 182.3h1M71.6 174.6h1M69.2 181.1h1M71.3 186.3h1M72.7 188.3h1M74.1 180.2h1M70.2 181.6h1M73.2 177.2h1M71.2 174.5h1M65.6 180.0h1M66.7 187.3h1M71.4 178.6h1M72.5 183.9h1M70.1 182.9h1M70.4 179.8h1M69.4 178.8h1M69.3 174.7h1M72.4 180.4h1M70.2 183.9h1M69.6 185.0h1M71.4 182.5h1M69.5 182.3h1M71.0 175.1h1M69.8 176.3h1M71.1 178.9h1M70.2 179.9h1M67.8 175.7h1M72.1 178.9h1M71.8 180.5h1M70.6 182.3h1M69.8 181.8h1M72.5 176.0h1M69.1 177.9h1M71.1 185.8h1M71.4 177.6h1M71.5 182.9h1M70.2 188.0h1M69.9 188.4h1M73.5 175.8h1M69.2 181.5h1M67.7 179.8h1M68.2 178.4h1M70.5 185.5h1M69.2 182.4h1M71.7 187.3h1M72.2 176.3h1M67.6 171.5h1M67.7 180.9h1M70.0 181.7h1M70.8 187.3h1M68.5 180.1h1M69.7 183.9h1M67.5 187.1h1M71.5 170.6h1M72.6 181.1h1M70.8 179.4h1M71.1 176.9h1M71.4 179.3h1M72.4 180.8h1M72.2 190.8h1M71.6 177.5h1M71.9 179.9h1M68.5 186.2h1M71.4 192.6h1M69.5 175.9h1M71.3 184.3h1M70.7 178.7h1M70.7 188.5h1M71.5 185.0h1M71.0 183.3h1M70.2 186.7h1M73.6 182.7h1M70.8 181.6h1M71.4 183.8h1M70.2 175.0h1M69.7 181.7h1M69.4 186.5h1M70.8 170.1h1M70.7 174.1h1M71.6 184.6h1M70.0 184.4h1M72.6 182.0h1M72.1 184.5h1M66.9 181.0h1M68.3 187.6h1M69.9 177.1h1M70.7 188.7h1M71.3 181.3h1M71.1 178.4h1M70.1 184.9h1M73.1 180.1h1M68.5 189.6h1M69.8 180.0h1M69.5 176.4h1M70.7 173.0h1M71.1 182.8h1M70.6 191.6h1M71.2 185.3h1M70.5 181.7h1M72.5 171.5h1M69.7 175.9h1M69.7 183.8h1M71.3 179.5h1M71.1 181.7h1M71.2 181.8h1M70.5 184.4h1M68.4 179.1h1M71.0 184.6h1M69.4 186.8h1M71.6 181.3h1M71.1 184.4h1M70.6 181.1h1M69.8 179.5h1M72.0 182.8h1M70.4 180.5h1M68.3 178.5h1M72.0 181.0h1M73.4 180.7h1M72.0 185.8h1M71.1 187.3h1M69.3 174.4h1M70.1 173.6h1M71.7 178.4h1M71.9 186.7h1M70.7 176.4h1M72.1 176.7h1M73.4 173.2h1M70.7 178.1h1M71.6 180.5h1M71.4 186.1h1M71.6 189.9h1M72.6 182.0h1M69.7 183.7h1M68.9 184.3h1M69.9 182.5h1M69.7 183.8h1M69.5 174.5h1M71.7 184.4h1M71.9 185.4h1M69.2 174.9h1M67.1 177.5h1M67.5 182.9h1M70.4 183.7h1M70.3 184.4h1M68.7 188.6h1M70.6 185.1h1M71.9 192.2h1M70.5 180.3h1M71.4 177.8h1M67.4 175.8h1M71.3 185.3h1M69.6 187.8h1M70.6 178.5h1M68.1 181.9h1M69.3 176.1h1M69.1 188.9h1M68.9 182.9h1M70.7 186.2h1M70.1 178.0h1M70.3 183.1h1M72.2 187.3h1M71.2 183.1h1M71.1 175.0h1M71.5 178.4h1M70.8 180.5h1M72.2 184.4h1M71.3 183.4h1M69.9 186.2h1M70.1 181.5h1M71.5 176.3h1M69.4 186.6h1M70.5 183.8h1M70.5 175.0h1M70.2 181.4h1M70.3 176.6h1M71.2 192.5h1M72.1 181.0h1M73.3 182.1h1M71.2 186.4h1M71.6 176.3h1M72.0 185.0h1M68.1 181.5h1M68.6 183.9h1M71.7 175.7h1M71.1 184.2h1M69.8 175.4h1M71.6 182.4h1M69.5 183.8h1M68.8 184.5h1M71.1 186.0h1M71.1 174.7h1M71.6 189.8h1M74.7 181.3h1M69.8 182.5h1M71.8 186.5h1M69.7 190.0h1M70.4 178.5h1M70.5 182.2h1M72.9 182.9h1M70.2 188.1h1M68.0 183.7h1M66.2 191.9h1M72.5 185.5h1M70.7 179.6h1M72.2 179.4h1M70.0 181.5h1M68.7 182.0h1M69.3 179.2h1M72.2 183.2h1M69.2 186.3h1M71.3 180.7h1M72.2 186.7h1M67.9 185.2h1M72.7 183.9h1M71.0 188.7h1M70.9 188.5h1M70.6 177.0h1M72.0 183.3h1M69.9 184.7h1M71.9 177.3h1M70.8 175.4h1M71.3 181.6h1M69.8 177.9h1M72.5 181.2h1M71.6 176.6h1M69.6 185.1h1M70.6 177.0h1M70.1 175.9h1M71.2 180.7h1M71.8 182.4h1M67.8 177.4h1M71.3 183.7h1M72.1 176.9h1M71.3 189.8h1M70.4 183.9h1M71.7 184.2h1M69.1 182.5h1M69.7 182.5h1M69.5 175.2h1M68.9 183.5h1M71.0 185.1h1M71.0 178.2h1M71.1 182.9h1M71.9 177.1h1M69.9 186.0h1M70.6 182.3h1M68.7 189.1h1M69.0 185.9h1M68.4 179.8h1M72.0 183.1h1M71.0 190.4h1M68.9 188.1h1M69.9 180.0h1M68.8 177.7h1M67.5 179.5h1M72.0 178.3h1M71.0 179.9h1M72.9 195.1h1M70.4 184.1h1M70.3 188.7h1M69.6 177.7h1M69.4 184.2h1M69.7 186.1h1M69.3 174.4h1M70.0 179.0h1M70.9 174.9h1M69.7 175.8h1M73.2 178.3h1M70.0 185.3h1M72.2 186.3h1M73.2 179.8h1M69.8 177.6h1M72.5 188.8h1M71.4 182.0h1M69.0 181.0h1M70.0 190.0h1M66.1 181.0h1M69.4 176.3h1M71.0 186.6h1M69.5 179.8h1M70.4 175.4h1M70.0 186.4h1M69.9 178.0h1M70.3 179.4h1M69.9 184.8h1M70.0 187.3h1M71.5 173.0h1M73.8 183.7h1M69.6 186.3h1M70.5 188.0h1M70.0 181.8h1M69.7 178.5h1M71.1 184.1h1M70.7 175.4h1M72.6 188.2h1M72.2 180.0h1M69.7 175.7h1M68.3 183.4h1M71.0 187.1h1M71.8 184.7h1M71.5 176.7h1M70.7 188.7h1M70.4 184.0h1M70.4 182.1h1M70.2 181.5h1M70.8 186.8h1M71.3 184.1h1M70.0 182.2h1M68.6 183.0h1M71.1 183.0h1M69.5 182.5h1M70.8 181.9h1M69.9 182.9h1M67.9 188.3h1M70.2 177.4h1M70.4 174.2h1M71.7 178.5h1M71.4 183.8h1M71.0 180.1h1M71.0 182.1h1M72.3 185.0h1M69.0 183.6h1M73.0 184.1h1M73.0 185.5h1M70.9 184.3h1M69.4 180.0h1M72.7 180.1h1M70.1 181.4h1M70.9 177.3h1M70.6 180.1h1M71.0 177.3h1M70.0 179.0h1M71.3 174.2h1M70.9 175.7h1M70.1 187.5h1M71.7 175.3h1M71.3 183.6h1M69.9 184.3h1M70.1 186.2h1M71.6 180.1h1M68.4 183.0h1M71.0 181.2h1M70.8 182.9h1M68.6 183.3h1M69.9 185.7h1M72.8 181.7h1M71.6 179.5h1M69.2 178.7h1M70.2 177.1h1M70.0 181.9h1M69.6 184.6h1M69.5 180.2h1M70.4 184.1h1M70.0 187.2h1M73.0 178.8h1M73.3 186.8h1M70.9 182.9h1M70.3 177.8h1M68.5 178.2h1M69.6 183.1h1M69.6 181.5h1M70.9 184.8h1M73.3 173.6h1M70.0 186.9h1M72.8 186.9h1M70.9 176.9h1M71.1 178.9h1M70.5 190.5h1M66.8 185.4h1M69.4 181.1h1M70.2 180.5h1M71.4 182.0h1M69.2 185.3h1M70.0 180.6h1M68.9 184.0h1M70.2 179.4h1M69.4 173.1h1M71.7 182.5h1M69.3 179.5h1M69.1 187.2h1M70.4 183.2h1M72.3 184.9h1M70.6 176.3h1M70.4 185.3h1M71.5 174.3h1M70.6 186.1h1M71.7 182.9h1M71.7 186.2h1M73.2 148.1h1M72.9 160.8h1M71.2 166.5h1M71.1 151.0h1M72.2 150.6h1M72.2 168.0h1M72.3 159.4h1M71.2 153.4h1M71.1 160.3h1M72.0 154.7h1M73.2 160.5h1M71.2 155.6h1M72.3 170.1h1M72.3 146.6h1M71.7 151.4h1M69.8 150.9h1M72.4 163.1h1M70.4 152.3h1M71.9 151.8h1M70.8 164.9h1M71.3 155.5h1M72.7 156.5h1M70.3 143.4h1M70.9 161.5h1M71.4 171.5h1M71.2 158.0h1M72.0 171.1h1M71.8 168.7h1M72.1 169.6h1M72.0 150.0h1M72.0 157.3h1M73.3 171.3h1M71.2 155.2h1M72.2 143.1h1M71.9 153.3h1" stroke="#000" stroke-width="1" fill="none"/>
<line x1="101" y1="153.9" x2="141.4" y2="153.9" stroke="#555" stroke-width="1"/>
<line x1="122.3" y1="153.9" x2="122.3" y2="206.5" stroke="#555" stroke-width="1"/>
<line x1="101" y1="206.5" x2="140.4" y2="206.5" stroke="#222" stroke-width="1"/>
<path d="M102.0 206.9v1.3M105.0 206.9v1.3M108.0 206.9v1.3M111.0 206.9v1.3M114.0 206.9v1.3M117.0 206.9v1.3M120.0 206.9v1.3M123.0 206.9v1.3M126.0 206.9v1.3M129.0 206.9v1.3M132.0 206.9v1.3M135.0 206.9v1.3M138.0 206.9v1.3" stroke="#222" stroke-width="0.7" fill="none"/>
<text x="110.3" y="213.6" font-size="5.3" text-anchor="middle" font-weight="bold">200</text>
<text x="132.5" y="213.6" font-size="5.3" text-anchor="middle" font-weight="bold">400</text>
<path d="M109.7 191.3h1M108.8 169.1h1M109.0 180.2h1M110.3 178.9h1M111.8 185.2h1M110.1 194.0h1M109.3 183.3h1M108.3 188.1h1M108.4 177.1h1M109.7 193.3h1M110.2 181.0h1M109.6 174.9h1M110.0 179.1h1M109.7 190.8h1M110.2 166.1h1M109.0 174.3h1M108.9 177.7h1M108.9 179.2h1M109.7 178.1h1M109.9 161.7h1M108.5 185.6h1M109.8 168.5h1M109.8 191.6h1M109.0 185.3h1M109.9 169.5h1M108.8 189.2h1M109.8 178.1h1M108.8 172.2h1M109.6 190.5h1M108.5 187.6h1M108.4 174.9h1M110.2 186.6h1M109.6 187.2h1M109.2 171.2h1M110.5 178.4h1M108.1 172.3h1M109.9 192.8h1M110.0 169.5h1M109.3 195.9h1M109.8 170.5h1M110.6 182.1h1M110.2 176.6h1M109.6 187.2h1M110.0 174.1h1M110.5 166.8h1M109.0 185.6h1M110.0 188.1h1M108.9 167.8h1M110.6 188.9h1M110.0 186.0h1M109.2 190.5h1M110.1 181.1h1M109.5 167.9h1M109.9 175.3h1M109.5 161.2h1M110.2 167.4h1M109.8 184.8h1M109.8 177.1h1M110.1 174.0h1M109.3 177.1h1M109.7 191.8h1M110.1 166.1h1M109.1 190.6h1M109.5 165.2h1M110.5 161.8h1M109.2 186.4h1M109.9 162.8h1M109.0 192.2h1M108.5 180.3h1M110.5 185.3h1M110.6 173.3h1M108.9 191.5h1M108.3 170.5h1M109.4 165.1h1M110.9 190.7h1M110.1 177.5h1M109.8 175.8h1M109.4 186.2h1M109.7 177.3h1M109.5 185.9h1M110.6 173.3h1M110.0 167.6h1M110.3 189.7h1M109.4 179.7h1M110.9 183.0h1M109.9 171.3h1M109.5 167.9h1M108.8 178.3h1M109.1 188.5h1M110.1 164.0h1M110.0 193.2h1M109.3 171.8h1M109.3 172.1h1M111.3 174.7h1M109.7 185.9h1M110.3 183.2h1M109.6 182.5h1M108.8 184.4h1M109.3 195.2h1M108.4 175.5h1M109.3 195.3h1M108.9 185.1h1M109.5 165.6h1M108.9 176.1h1M108.7 193.1h1M109.9 163.8h1M110.0 173.1h1M109.7 181.8h1M110.6 185.6h1M110.6 177.9h1M109.5 180.6h1M109.9 187.6h1M107.7 185.9h1M110.3 185.8h1M109.4 172.2h1M111.0 185.9h1M109.8 170.5h1M110.8 177.0h1M109.0 183.1h1M109.4 190.9h1M108.7 177.1h1M109.5 196.4h1M109.7 162.3h1M109.2 179.3h1M110.1 161.6h1M109.3 178.5h1M109.9 180.9h1M109.2 166.2h1M108.4 178.9h1M110.5 161.0h1M110.3 174.5h1M110.1 172.4h1M108.9 176.9h1M110.1 165.5h1M109.6 191.1h1M109.7 181.5h1M110.7 175.9h1M110.5 191.2h1M110.2 164.6h1M109.0 188.1h1M109.2 171.8h1M109.8 180.6h1M108.7 187.1h1M109.2 177.2h1M108.9 178.1h1M110.2 175.0h1M109.9 196.4h1M108.1 189.2h1M110.2 191.1h1M109.5 183.7h1M109.6 190.8h1M109.9 189.2h1M109.3 187.5h1M110.2 180.8h1M109.2 182.5h1M108.9 173.0h1M110.1 170.1h1M110.4 177.0h1M110.5 163.4h1M108.4 188.1h1M110.2 175.6h1M111.0 179.1h1M110.3 173.0h1M109.4 184.0h1M108.1 175.7h1M110.3 178.1h1M108.3 177.0h1M110.3 188.2h1M108.8 175.3h1M109.5 186.4h1M109.1 164.2h1M109.8 174.0h1M110.6 164.9h1M109.7 188.6h1M109.7 176.4h1M107.5 189.3h1M109.1 187.2h1M110.1 190.6h1M108.3 181.9h1M109.1 195.2h1M109.5 181.4h1M108.6 189.6h1M108.7 193.7h1M109.5 176.7h1M108.5 190.3h1M110.1 195.6h1M110.4 168.0h1M110.9 177.1h1M110.9 172.9h1M110.0 194.2h1M109.1 171.9h1M109.7 196.6h1M110.2 181.7h1M110.0 175.7h1M109.3 171.7h1M107.9 181.0h1M110.1 163.9h1M109.5 193.4h1M110.4 168.7h1M108.4 180.8h1M109.0 192.2h1M108.9 168.6h1M109.6 179.0h1M109.7 196.1h1M109.8 167.2h1M111.0 179.3h1M110.7 178.9h1M110.3 174.1h1M110.5 186.7h1M109.2 184.7h1M110.0 163.4h1M110.6 188.4h1M109.1 183.6h1M110.4 185.8h1M110.9 166.6h1M110.3 187.7h1M111.1 188.6h1M109.3 188.0h1M109.7 178.0h1M109.0 183.9h1M110.8 176.6h1M109.8 190.1h1M109.9 161.5h1M110.8 185.3h1M109.1 183.8h1M110.1 171.2h1M110.7 173.5h1M108.6 192.6h1M110.1 184.0h1M110.3 184.8h1M108.7 171.4h1M111.0 181.1h1M110.1 179.8h1M109.3 189.8h1M109.6 189.2h1M109.8 161.5h1M110.4 176.8h1M110.7 169.4h1M109.8 186.3h1M109.2 188.9h1M109.4 197.7h1M109.8 171.3h1M109.6 192.3h1M109.5 166.2h1M110.6 164.8h1M107.9 179.8h1M110.2 171.6h1M110.9 186.5h1M109.4 169.3h1M111.3 180.3h1M109.5 175.5h1M110.3 184.7h1M109.9 188.1h1M108.9 178.8h1M109.7 195.4h1M109.8 182.7h1M110.6 167.9h1M110.2 171.3h1M109.5 179.9h1M110.3 186.4h1M111.5 176.0h1M110.4 174.4h1M109.7 177.3h1M110.0 173.8h1M109.9 175.5h1M109.4 196.4h1M108.4 183.6h1M109.2 173.2h1M110.5 192.7h1M110.7 170.0h1M109.8 193.3h1M109.8 192.8h1M111.1 185.1h1M110.8 184.2h1M109.5 197.9h1M109.9 178.2h1M110.0 193.0h1M109.4 171.1h1M110.1 183.6h1M110.2 168.8h1M110.1 167.0h1M110.0 180.5h1M110.0 185.7h1M110.0 179.6h1M109.8 188.6h1M109.8 186.3h1M109.6 177.2h1M109.7 195.0h1M109.4 177.1h1M109.6 187.9h1M109.6 185.5h1M110.0 182.6h1M109.7 189.1h1M109.1 179.1h1M110.8 178.2h1M108.7 174.9h1M109.5 187.0h1M109.8 190.1h1M109.6 180.3h1M110.3 186.9h1M110.1 171.2h1M110.8 185.1h1M108.5 189.6h1M109.7 193.8h1M110.4 179.5h1M109.9 182.7h1M108.5 189.3h1M110.1 192.6h1M110.1 189.0h1M108.7 184.1h1M110.2 169.3h1M108.3 182.1h1M110.3 179.7h1M109.6 194.2h1M109.6 181.3h1M109.6 186.7h1M109.2 188.0h1M109.3 177.5h1M109.9 193.6h1M108.2 178.5h1M109.9 192.7h1M109.8 181.2h1M110.1 195.0h1M110.1 185.5h1M110.9 164.9h1M111.3 177.3h1M109.6 171.7h1M110.2 162.5h1M109.1 183.9h1M110.1 183.8h1M109.9 187.8h1M109.6 172.9h1M110.7 171.5h1M109.3 190.9h1M110.1 171.7h1M110.4 185.4h1M109.5 184.8h1M109.7 161.4h1M109.7 174.2h1M109.2 191.4h1M110.9 181.3h1M110.1 181.3h1M110.5 179.5h1M109.8 162.9h1M108.9 183.5h1M110.1 184.1h1M109.2 174.3h1M110.0 168.3h1M109.0 177.8h1M109.3 165.0h1M109.8 195.7h1M109.5 189.3h1M109.6 167.1h1M110.5 183.1h1M108.0 185.7h1M110.5 167.6h1M108.7 161.8h1M108.6 187.4h1M108.6 179.2h1M109.2 173.9h1M110.0 168.9h1M108.9 194.9h1M110.4 178.2h1M109.5 187.2h1M109.9 177.7h1M109.4 168.1h1M109.5 176.8h1M110.2 179.2h1M110.2 166.0h1M109.0 191.4h1M108.9 177.8h1M109.2 182.9h1M111.1 173.0h1M109.4 196.8h1M110.2 193.4h1M106.5 164.4h1M110.0 197.3h1M110.4 168.9h1M109.8 189.9h1M109.5 196.2h1M110.4 184.0h1M110.8 180.6h1M109.6 165.6h1M109.8 193.5h1M108.7 174.3h1M108.8 179.2h1M109.3 180.3h1M110.8 169.6h1M109.9 186.1h1M109.4 181.1h1M108.0 193.2h1M109.1 172.4h1M109.4 171.8h1M109.5 175.0h1M109.7 168.6h1M109.8 179.1h1M109.6 167.4h1M110.2 167.2h1M109.7 173.1h1M109.8 165.1h1M109.2 191.9h1M109.6 162.2h1M110.1 185.1h1M109.5 192.3h1M109.9 160.4h1M109.3 184.6h1M108.5 190.6h1M109.3 188.5h1M107.9 181.8h1M109.8 174.8h1M110.4 165.8h1M108.8 179.9h1M108.5 183.0h1M109.2 196.8h1M109.8 181.9h1M109.6 177.4h1M109.6 180.4h1M109.1 162.7h1M109.8 179.0h1M109.4 186.7h1M109.8 173.1h1M110.2 166.9h1M110.2 166.0h1M109.9 165.4h1M108.8 176.4h1M110.1 186.5h1M109.9 189.5h1M109.8 172.5h1M110.4 165.3h1M109.3 163.3h1M109.7 178.4h1M110.3 168.7h1M109.2 192.9h1M109.6 189.1h1M109.5 187.0h1M110.0 180.0h1M109.5 162.8h1M111.0 186.0h1M108.6 189.0h1M109.7 187.9h1M109.1 183.7h1M109.9 195.3h1M108.5 176.1h1M108.8 175.6h1M110.0 166.2h1M108.8 172.9h1M109.0 179.0h1M109.2 185.6h1M109.8 188.2h1M110.2 175.3h1M108.1 183.5h1M109.7 182.7h1M110.7 166.1h1M113.1 174.1h1M110.1 162.5h1M108.7 188.7h1M110.3 186.2h1M109.0 182.6h1M109.9 176.5h1M110.1 168.8h1M109.6 172.8h1M110.3 165.3h1M109.7 187.7h1M109.4 193.5h1M109.2 174.9h1M109.6 167.9h1M109.3 168.1h1M109.0 168.8h1M110.2 191.2h1M110.9 180.8h1M109.8 178.9h1M108.7 177.5h1M109.3 171.6h1M109.7 174.2h1M109.4 163.2h1M109.7 172.8h1M110.0 178.5h1M108.7 173.9h1M108.3 183.8h1M110.3 183.1h1M109.9 182.0h1M110.3 170.1h1M109.2 190.0h1M109.4 172.7h1M110.8 189.2h1M110.3 170.1h1M109.9 196.0h1M110.2 190.5h1M109.2 174.2h1M109.9 175.1h1M110.7 179.2h1M110.7 183.9h1M108.4 168.6h1M110.0 184.5h1M109.3 190.4h1M110.4 185.4h1M110.2 169.2h1M109.6 193.4h1M109.6 184.7h1M109.8 187.4h1M109.8 190.5h1M109.9 174.0h1M110.4 172.0h1M110.6 168.2h1M109.1 188.6h1M110.9 176.0h1M108.9 171.4h1M110.2 187.2h1M109.4 165.6h1M111.0 166.6h1M110.0 177.9h1M110.5 174.1h1M111.5 176.3h1M110.6 169.0h1M111.1 182.7h1M108.7 175.8h1M109.2 188.9h1M110.0 173.3h1M109.5 177.5h1M109.6 166.0h1M109.5 170.1h1M109.0 174.4h1M110.7 165.5h1M110.7 183.2h1M109.8 181.5h1M110.6 187.4h1M109.0 173.2h1M110.8 163.3h1M109.6 170.6h1M110.8 170.0h1M109.3 189.6h1M110.1 182.7h1M110.7 177.9h1M110.0 196.0h1M109.4 171.0h1M109.6 181.9h1M109.8 164.9h1M111.2 173.5h1M109.6 176.9h1M109.2 170.9h1M108.3 184.2h1M108.5 167.3h1M108.4 174.9h1M110.2 173.3h1M108.8 186.7h1M109.3 185.9h1M108.6 179.3h1M108.8 173.8h1M109.0 176.3h1M110.1 164.6h1M109.4 194.5h1M110.2 186.4h1M109.6 193.2h1M108.5 175.4h1M109.3 187.2h1M110.5 174.8h1M110.5 162.1h1M108.6 180.1h1M110.1 181.2h1M110.7 174.2h1M111.5 178.5h1M109.5 190.8h1M110.5 181.5h1M108.9 181.4h1M110.6 169.5h1M110.3 182.8h1M108.8 193.0h1M109.6 163.3h1M109.5 183.1h1M109.8 188.9h1M109.9 176.7h1M109.6 197.5h1M110.2 175.0h1M108.8 177.4h1M108.7 187.3h1M110.0 179.1h1M108.8 184.8h1M109.3 175.0h1M109.5 189.8h1M111.0 184.9h1M109.7 189.4h1M110.9 170.4h1M110.1 189.6h1M109.2 168.0h1M110.5 193.0h1M109.4 194.7h1M110.4 189.3h1M110.1 176.1h1M109.3 176.2h1M108.3 180.8h1M109.9 192.5h1M109.6 187.9h1M111.5 173.9h1M109.4 171.4h1M109.9 164.3h1M109.3 193.2h1M109.6 162.9h1M110.8 183.1h1M110.8 177.6h1M109.6 160.8h1M133.4 169.1h1M129.9 167.0h1M129.6 174.0h1M129.4 177.6h1M132.6 176.1h1M131.8 174.5h1M130.4 168.6h1M130.4 183.5h1M130.0 165.7h1M131.8 175.0h1M132.1 166.5h1M132.1 174.8h1M132.1 173.7h1M131.8 175.9h1M129.8 168.8h1M129.0 169.6h1M129.4 163.5h1M129.7 169.7h1M134.6 168.4h1M131.6 171.8h1M132.8 168.7h1M130.0 174.9h1M132.6 173.7h1M131.1 177.4h1M132.9 178.0h1M128.4 171.5h1M133.6 178.1h1M131.6 176.6h1M129.6 166.3h1M131.7 180.2h1M129.3 169.2h1M132.5 173.2h1M132.9 180.2h1M130.2 171.4h1M130.2 178.4h1M131.2 170.8h1M130.8 171.1h1M133.1 179.1h1M129.7 172.3h1M130.1 178.7h1M130.4 180.8h1M133.1 176.9h1M133.4 176.5h1M133.5 170.8h1M128.4 170.7h1M134.7 174.5h1M126.0 176.1h1M131.2 167.1h1M131.1 171.6h1M131.1 173.9h1M135.2 177.9h1M133.2 173.1h1M133.1 169.0h1M129.7 174.2h1M135.1 169.8h1M129.2 170.6h1M132.3 175.5h1M133.8 184.8h1M132.4 183.7h1M131.7 167.5h1M132.4 185.0h1M129.3 166.4h1M132.4 171.6h1M131.1 170.7h1M132.9 179.9h1M130.7 171.5h1M132.8 178.3h1M129.3 171.5h1M132.8 172.8h1M133.2 170.6h1M129.1 172.8h1M129.7 170.6h1M128.8 183.9h1M130.7 181.1h1M127.3 178.9h1M130.7 185.3h1M129.7 173.0h1M131.5 170.1h1M130.8 169.8h1M134.9 166.5h1M132.2 172.2h1M131.5 175.0h1M131.9 168.8h1M132.8 174.7h1M131.6 174.3h1M130.1 170.6h1M132.9 168.0h1M132.3 174.5h1M127.2 173.0h1M129.6 169.6h1M131.6 166.1h1M133.8 181.4h1M133.0 177.7h1M131.3 171.6h1M131.5 170.1h1M132.4 177.0h1M131.0 171.0h1M132.9 174.9h1M129.4 163.0h1M132.2 174.8h1M129.1 177.7h1M130.0 179.0h1M131.1 176.0h1M133.1 177.5h1M126.7 175.3h1M133.0 174.1h1M129.4 172.3h1M131.1 164.9h1M134.2 168.9h1M129.9 175.2h1M126.7 164.3h1M133.9 179.2h1M130.8 177.6h1M130.7 167.7h1M132.1 177.7h1M129.1 172.0h1M129.2 181.1h1M128.4 170.5h1M130.9 179.1h1M129.6 167.4h1M130.8 168.2h1M131.9 163.2h1M129.5 174.5h1M130.2 167.9h1M131.5 180.3h1M127.9 166.2h1M134.0 176.9h1M134.2 176.7h1M130.8 170.1h1M132.3 173.3h1M132.1 184.2h1M128.4 171.4h1M129.9 178.5h1M131.3 177.8h1M130.0 175.2h1M133.8 164.6h1M131.6 171.0h1M131.5 175.0h1M128.6 178.5h1M128.5 170.0h1M129.9 164.5h1M133.2 165.6h1M128.6 173.6h1M130.6 169.4h1M131.7 176.6h1M129.7 175.8h1M129.4 171.8h1M130.0 166.3h1M128.9 173.5h1M126.4 175.2h1M128.1 173.5h1M132.9 176.7h1M128.1 170.4h1M132.6 176.8h1M127.2 176.8h1M130.3 173.1h1M128.5 173.1h1M129.1 170.3h1M131.9 171.5h1M129.6 169.6h1M131.0 179.1h1M126.0 174.2h1M128.0 167.6h1M133.1 172.5h1M132.0 179.8h1M130.0 181.0h1M130.7 179.4h1M131.2 167.5h1M130.9 177.0h1M130.8 167.3h1M131.0 182.3h1M131.4 183.0h1M133.6 167.5h1M130.1 174.8h1M126.8 167.2h1M131.9 174.5h1M134.1 170.4h1M134.4 168.5h1M131.3 178.2h1M131.8 174.3h1M135.7 178.2h1M128.1 175.9h1M131.7 168.4h1M131.6 170.2h1M129.3 178.5h1M131.8 178.8h1M131.1 171.5h1M129.2 183.7h1M130.7 176.5h1M135.0 181.7h1M131.0 176.4h1M130.4 180.1h1M133.4 171.1h1M131.5 173.4h1M132.2 165.9h1M132.1 174.7h1M130.7 167.6h1M132.3 175.1h1M129.4 171.2h1M131.9 168.7h1M129.9 171.7h1M134.4 170.9h1M133.0 168.0h1M133.9 181.1h1M132.3 168.8h1M133.3 179.1h1M129.9 180.0h1M127.8 177.9h1M133.9 171.3h1M131.5 169.7h1M131.2 167.2h1M126.5 167.5h1M135.6 167.3h1M131.2 170.7h1M131.5 174.3h1M130.1 177.7h1M132.6 167.4h1M131.4 177.7h1M125.2 168.9h1M129.3 185.3h1M132.0 179.7h1M131.8 183.2h1M128.3 175.3h1M131.7 169.3h1M130.5 166.2h1M125.9 174.2h1M132.3 166.0h1M129.2 176.6h1M129.2 176.7h1M131.4 169.4h1M127.1 178.9h1M132.0 174.0h1M132.8 175.0h1M130.0 176.5h1M133.1 169.5h1M133.3 173.2h1M128.0 168.6h1M129.4 175.9h1M130.9 169.6h1M131.4 179.8h1M128.7 178.4h1M129.3 170.3h1M130.8 173.0h1M132.0 173.0h1M131.2 180.0h1M133.0 175.9h1M132.3 174.6h1M131.9 184.3h1M130.6 174.2h1M128.9 174.6h1M134.8 173.5h1M129.2 175.5h1M130.0 168.3h1M131.6 180.4h1M129.3 168.7h1M131.8 166.4h1M129.9 178.1h1M131.2 179.6h1M134.4 174.0h1M131.2 170.2h1M131.2 163.1h1M133.1 177.6h1M131.8 169.2h1M132.2 175.3h1M128.7 171.0h1M129.8 177.7h1M132.9 170.2h1M130.3 175.3h1M130.4 171.4h1M134.6 172.1h1M130.4 169.2h1M133.1 179.2h1M131.5 164.5h1M131.0 176.9h1M131.6 168.7h1M130.7 171.5h1M129.1 178.3h1M132.8 167.0h1M130.9 178.2h1M133.7 171.2h1M131.5 177.6h1M130.4 177.5h1M126.9 178.5h1M130.8 171.8h1M132.4 175.1h1M130.5 170.4h1M131.3 174.1h1M127.4 171.7h1M131.9 177.4h1M130.6 187.1h1M128.5 178.1h1M133.5 168.6h1M132.0 173.4h1M131.0 172.8h1M130.7 166.7h1M130.3 168.4h1M130.6 175.9h1M131.9 166.9h1M130.7 183.9h1M131.6 165.3h1M133.7 172.7h1M131.6 181.5h1M132.2 175.7h1M133.0 177.9h1M131.0 163.9h1M132.0 171.5h1M131.6 166.4h1M130.1 170.0h1M129.9 174.3h1M136.3 169.0h1M130.8 177.8h1M132.4 168.5h1M130.3 173.9h1M129.6 171.0h1M127.4 168.5h1M130.9 167.6h1M134.4 170.5h1M131.4 179.9h1M129.3 167.2h1M132.4 175.3h1M131.9 162.5h1M131.3 176.3h1M128.6 169.3h1M130.8 171.3h1M133.2 175.1h1M130.9 172.8h1M134.2 175.1h1M131.7 172.5h1M130.6 174.1h1M131.2 166.5h1M133.7 171.0h1M128.0 171.5h1M129.9 165.9h1M128.9 174.8h1M131.4 174.3h1M132.2 167.8h1M131.2 172.6h1M129.5 175.0h1M131.7 170.6h1M127.8 175.5h1M132.9 176.1h1M130.1 167.5h1M133.9 177.1h1M130.0 179.8h1M133.9 169.4h1M133.1 176.1h1M131.6 164.2h1M127.0 161.9h1M130.7 172.9h1M132.1 167.8h1M129.6 177.0h1M133.0 181.3h1M129.6 171.5h1M130.0 169.9h1M135.4 175.9h1M131.0 176.1h1M129.6 175.8h1M130.6 168.6h1M132.9 175.5h1M128.9 173.8h1M130.8 166.1h1M131.7 170.4h1M130.8 177.3h1M131.9 170.3h1M128.9 164.7h1M133.5 175.8h1M132.4 176.8h1M133.8 170.4h1M133.0 172.1h1M133.1 174.2h1M130.5 168.1h1M132.2 173.8h1M129.6 179.3h1M132.0 176.4h1M129.2 173.3h1M133.0 170.8h1M133.2 183.7h1M129.6 164.4h1M130.4 172.2h1M130.1 169.3h1M127.9 168.5h1M130.8 171.7h1M128.0 171.4h1M129.1 179.6h1M129.1 180.7h1M131.4 178.7h1M132.4 175.8h1M132.1 170.8h1M129.7 170.5h1M132.2 180.6h1M133.8 175.7h1M128.4 163.9h1M134.4 170.5h1M132.4 166.0h1M130.8 173.4h1M130.9 177.7h1M130.0 179.1h1M131.5 172.4h1M136.1 173.0h1M127.8 171.9h1M131.1 165.2h1M130.7 170.3h1M128.3 172.1h1M131.0 174.2h1M130.6 175.2h1M134.1 172.2h1M130.8 175.2h1M132.8 165.2h1M130.5 173.5h1M129.9 172.5h1M132.3 181.6h1M129.6 169.9h1M131.0 178.5h1M131.2 172.3h1M130.2 173.7h1M131.1 174.4h1M135.0 177.0h1M129.7 165.6h1M129.1 163.4h1M133.6 179.0h1M129.1 176.7h1M128.4 178.7h1M129.4 171.4h1M131.7 179.3h1M132.4 163.7h1M130.2 162.4h1M131.7 161.3h1M128.6 178.5h1M132.6 173.7h1M131.7 175.3h1M130.6 170.5h1M130.7 168.2h1M133.3 175.2h1M131.1 167.8h1M130.0 171.9h1M132.9 172.8h1M128.7 180.6h1M129.3 178.2h1M132.6 174.5h1M129.6 174.3h1M128.3 164.2h1M128.3 176.9h1M131.0 175.0h1M130.7 175.8h1M129.1 172.2h1M131.5 172.2h1M128.5 176.3h1M127.5 171.9h1M131.0 169.4h1M126.9 173.5h1M130.2 173.1h1M131.9 170.1h1M128.1 165.8h1M126.9 178.2h1M131.5 164.5h1M131.8 179.5h1M134.5 173.3h1M130.3 172.9h1M130.6 171.7h1M128.9 171.3h1M132.7 168.8h1M133.3 171.5h1M130.3 169.6h1M131.4 176.5h1M133.4 164.8h1M131.0 169.4h1M133.9 169.8h1M133.4 181.1h1M130.7 175.6h1M130.0 174.4h1M129.8 179.1h1M129.1 170.0h1M134.3 168.3h1M130.3 176.5h1M129.6 171.7h1M128.8 177.6h1M129.8 183.7h1M132.3 174.4h1M131.6 178.0h1M126.5 172.7h1M131.4 172.2h1M132.0 174.5h1M132.2 180.8h1M133.3 174.5h1M131.8 180.1h1M135.4 172.6h1M129.7 170.2h1M133.1 170.7h1M129.6 174.8h1M130.0 172.1h1M134.2 169.8h1M132.7 174.3h1M129.8 172.3h1M131.9 178.7h1M127.8 169.9h1M129.6 180.7h1M129.6 178.1h1M128.0 179.0h1M132.0 177.0h1M128.6 181.4h1M130.7 174.4h1M133.4 170.7h1M132.0 165.5h1M129.6 177.9h1M130.2 178.2h1M131.7 175.5h1M128.5 173.1h1M131.9 176.5h1M131.9 175.3h1M133.5 168.8h1M131.2 179.8h1M131.2 173.2h1M127.8 172.6h1M131.4 175.3h1M132.8 181.6h1M131.2 170.9h1M130.7 172.8h1M130.1 171.4h1M129.8 169.1h1M131.2 164.9h1M128.4 176.7h1M132.2 170.4h1M130.4 175.5h1M131.9 181.3h1M130.5 174.3h1M130.9 173.7h1M128.8 170.1h1M134.6 174.0h1M132.9 167.8h1M131.3 166.0h1M129.1 169.3h1M134.5 173.5h1M131.9 171.4h1M130.6 172.3h1M129.8 169.8h1M130.8 169.1h1M133.4 176.1h1M129.4 177.6h1M130.8 178.3h1M130.9 177.0h1M132.0 172.9h1M133.0 160.6h1M131.1 172.5h1M131.7 177.7h1M131.6 165.9h1M129.6 164.5h1M130.9 173.8h1M128.8 170.5h1M131.4 170.3h1M131.0 177.8h1M131.3 174.0h1M129.8 171.2h1M135.3 170.0h1M133.0 170.0h1M130.5 177.2h1M129.4 173.2h1M130.9 178.9h1M130.5 164.3h1M131.0 176.4h1M131.6 173.2h1M128.9 173.2h1M129.6 176.7h1M131.1 168.3h1M127.5 172.2h1M135.2 172.8h1M132.6 176.2h1M131.5 173.6h1M132.7 173.2h1M131.3 165.3h1M130.9 171.9h1M131.8 172.6h1M131.2 175.3h1M133.0 164.9h1M131.0 175.3h1M133.1 177.8h1M134.2 176.1h1M132.2 174.8h1M131.2 174.5h1M128.8 171.9h1M130.0 165.6h1M129.0 170.6h1M130.8 173.9h1M132.8 170.1h1M128.0 176.2h1M131.7 176.2h1M127.8 165.8h1M130.2 175.9h1M132.3 181.5h1M130.0 169.3h1M133.4 175.7h1M131.3 177.7h1M130.6 167.6h1M131.0 174.7h1M130.8 177.4h1M131.6 170.6h1M128.6 175.5h1M130.8 174.8h1M129.6 177.6h1M131.2 169.4h1M129.6 176.0h1M131.1 182.2h1M134.4 166.0h1M134.6 176.4h1M130.4 182.1h1M131.2 176.2h1M132.3 176.7h1M130.1 176.4h1M131.1 169.9h1M129.9 166.3h1M132.4 169.0h1M129.3 173.2h1M134.8 175.3h1M129.2 170.7h1M131.0 177.9h1M133.7 178.6h1M131.8 171.1h1M126.8 172.3h1M132.4 162.2h1M131.1 172.7h1M132.0 174.0h1M127.9 183.4h1M135.3 170.6h1M128.1 179.8h1M133.4 177.4h1M128.9 176.1h1M128.8 177.4h1M132.6 178.1h1M129.8 174.0h1M134.8 178.3h1M133.7 164.0h1M131.9 174.3h1M130.1 174.6h1M130.3 181.1h1M131.9 176.7h1M131.7 172.3h1M130.2 171.1h1M131.1 170.4h1M131.4 178.5h1M132.9 170.7h1M129.8 173.6h1M131.0 165.0h1M132.7 169.4h1M132.1 170.2h1M126.1 181.2h1M132.3 173.9h1M130.1 170.1h1M133.0 172.7h1M130.3 185.3h1M129.1 172.8h1M136.5 178.5h1M130.7 164.8h1M131.3 163.8h1M131.0 162.4h1M131.0 158.2h1M133.4 159.7h1M131.1 159.9h1M132.3 163.8h1M130.6 161.4h1M131.0 159.0h1M131.3 163.9h1M132.1 161.9h1M131.5 162.8h1M130.3 156.8h1M130.9 157.3h1M131.6 165.6h1M130.6 156.9h1M132.4 160.9h1M130.3 160.5h1M130.2 165.0h1M131.9 163.8h1M133.5 159.1h1M133.7 158.4h1M133.0 164.2h1M130.9 165.1h1M132.2 161.5h1M129.5 159.9h1M130.9 156.4h1M134.2 159.6h1M132.3 156.6h1M131.9 162.0h1" stroke="#000" stroke-width="1" fill="none"/>
<line x1="155" y1="152.3" x2="196" y2="152.3" stroke="#555" stroke-width="1"/>
<line x1="174.6" y1="152.3" x2="174.6" y2="206.5" stroke="#555" stroke-width="1"/>
<line x1="155" y1="206.5" x2="195" y2="206.5" stroke="#222" stroke-width="1"/>
<path d="M156.0 206.9v1.3M159.0 206.9v1.3M162.0 206.9v1.3M165.0 206.9v1.3M168.0 206.9v1.3M171.0 206.9v1.3M174.0 206.9v1.3M177.0 206.9v1.3M180.0 206.9v1.3M183.0 206.9v1.3M186.0 206.9v1.3M189.0 206.9v1.3M192.0 206.9v1.3M195.0 206.9v1.3" stroke="#222" stroke-width="0.7" fill="none"/>
<text x="161.6" y="214.0" font-size="5.3" text-anchor="middle" font-weight="bold">200</text>
<text x="185.6" y="214.0" font-size="5.3" text-anchor="middle" font-weight="bold">400</text>
<path d="M174.0 159.5L175.5 157.5L181.5 157.2L185.0 158.5L185.6 165.0L185.0 170.5L182.5 170.5L178.0 167.5L174.5 165.0Z" fill="#000" opacity="1"/>
<path d="M161.7 195.8h1M161.3 166.1h1M162.0 181.6h1M161.8 189.0h1M162.1 175.6h1M162.0 172.0h1M162.0 181.3h1M161.8 157.9h1M162.4 179.1h1M161.9 166.2h1M161.2 167.0h1M161.8 166.3h1M164.2 178.3h1M162.1 170.5h1M162.2 161.9h1M162.1 177.2h1M161.3 173.0h1M164.5 174.2h1M162.1 185.2h1M162.5 192.4h1M160.8 172.8h1M160.7 172.0h1M161.5 185.6h1M162.6 182.9h1M162.6 184.4h1M162.3 161.7h1M162.1 191.7h1M162.0 172.4h1M161.4 191.1h1M162.0 161.6h1M161.8 169.6h1M162.1 159.2h1M162.2 164.9h1M161.5 165.9h1M161.4 178.9h1M162.9 172.5h1M161.3 164.6h1M162.0 173.8h1M161.1 182.4h1M161.9 158.7h1M162.2 165.7h1M161.1 177.7h1M162.0 167.8h1M161.9 181.3h1M161.1 176.8h1M162.7 165.2h1M161.7 178.2h1M162.7 189.3h1M161.1 164.7h1M160.7 185.1h1M161.6 168.3h1M162.3 162.6h1M162.0 165.3h1M161.9 182.2h1M161.4 165.4h1M161.7 179.5h1M162.2 177.9h1M162.3 164.8h1M161.6 185.3h1M161.4 177.1h1M161.9 168.3h1M162.7 163.7h1M162.4 169.2h1M161.9 159.4h1M161.1 177.5h1M161.9 169.1h1M161.6 169.2h1M161.4 174.5h1M160.5 170.7h1M162.9 175.4h1M161.0 186.2h1M161.8 173.5h1M161.7 169.7h1M162.0 171.7h1M161.1 167.7h1M161.3 186.9h1M161.4 166.5h1M162.5 185.2h1M161.2 180.2h1M161.1 164.5h1M161.4 161.0h1M162.2 184.8h1M162.0 157.8h1M161.0 162.1h1M161.3 169.2h1M161.5 184.1h1M161.0 169.5h1M161.9 189.2h1M161.8 190.1h1M162.7 164.7h1M161.7 158.2h1M162.1 165.1h1M163.1 184.1h1M162.2 174.1h1M161.8 183.9h1M162.7 180.9h1M162.5 161.2h1M161.8 164.4h1M162.3 165.7h1M163.1 180.4h1M161.7 168.7h1M161.6 172.0h1M162.1 192.0h1M162.1 161.0h1M162.2 185.2h1M161.9 163.3h1M161.6 172.2h1M161.6 180.3h1M161.8 184.8h1M161.0 164.0h1M162.0 191.0h1M162.8 163.2h1M161.4 183.5h1M161.5 160.0h1M162.3 158.3h1M162.1 188.3h1M162.2 175.8h1M161.2 171.5h1M161.2 167.9h1M162.2 160.6h1M162.4 187.1h1M161.5 186.5h1M162.4 179.3h1M162.4 175.0h1M161.9 182.2h1M161.5 164.2h1M161.5 188.7h1M161.0 181.4h1M160.5 170.7h1M161.3 159.2h1M162.0 174.3h1M162.2 169.3h1M161.4 194.6h1M161.6 183.6h1M162.4 159.5h1M162.0 177.1h1M162.5 171.6h1M162.5 161.3h1M161.3 165.3h1M162.0 195.4h1M161.0 168.2h1M162.1 163.4h1M161.1 181.4h1M162.3 161.3h1M161.4 162.2h1M161.5 167.7h1M162.2 159.1h1M161.7 162.7h1M161.8 160.0h1M162.5 182.5h1M162.1 187.8h1M161.5 175.0h1M162.1 159.6h1M162.4 175.6h1M161.8 169.0h1M162.0 157.6h1M162.0 159.0h1M162.0 162.4h1M162.4 179.5h1M162.9 178.6h1M161.8 177.1h1M162.8 166.8h1M162.2 184.3h1M161.5 174.5h1M161.8 171.4h1M162.1 157.8h1M162.5 176.1h1M162.7 161.8h1M161.7 178.2h1M161.6 181.3h1M160.9 180.2h1M161.1 178.0h1M161.5 163.6h1M162.2 168.3h1M161.6 190.0h1M162.3 174.0h1M161.4 177.1h1M161.6 170.1h1M162.6 168.6h1M157.6 181.4h1M161.7 176.1h1M162.4 161.9h1M161.1 182.0h1M162.0 170.2h1M161.1 170.7h1M162.4 181.8h1M162.2 177.7h1M161.5 189.2h1M161.7 166.5h1M162.4 160.8h1M161.8 183.6h1M161.4 167.6h1M160.8 175.1h1M162.5 186.3h1M162.7 166.2h1M162.5 167.0h1M162.1 158.3h1M162.0 170.8h1M161.7 174.3h1M161.3 172.4h1M162.1 161.2h1M161.7 177.6h1M161.9 192.8h1M161.9 164.1h1M161.9 158.4h1M162.3 164.6h1M161.8 185.8h1M162.8 190.0h1M162.5 164.0h1M161.6 189.2h1M161.9 174.9h1M162.6 165.9h1M163.2 180.5h1M160.9 174.4h1M161.8 170.4h1M160.6 177.1h1M162.1 165.8h1M161.7 173.2h1M162.0 164.3h1M162.3 161.8h1M161.3 165.7h1M161.5 170.1h1M162.0 160.7h1M161.5 170.3h1M162.6 179.3h1M161.4 161.7h1M160.9 165.4h1M161.7 189.7h1M162.6 163.3h1M162.5 191.3h1M162.5 159.7h1M162.5 175.6h1M161.7 170.7h1M160.9 168.1h1M162.1 166.2h1M161.5 170.0h1M161.6 172.2h1M161.0 188.8h1M161.3 164.3h1M162.4 170.9h1M161.4 187.8h1M161.6 185.6h1M162.1 181.0h1M162.5 183.5h1M161.3 164.9h1M163.1 172.7h1M161.7 190.3h1M161.7 165.9h1M162.1 163.1h1M160.8 168.6h1M161.5 176.9h1M161.9 169.4h1M161.8 157.6h1M161.4 169.7h1M162.1 172.2h1M161.9 171.7h1M161.7 163.1h1M161.4 182.2h1M161.6 188.5h1M161.4 172.9h1M162.5 166.7h1M162.2 177.7h1M161.1 174.5h1M161.7 165.2h1M161.0 187.2h1M162.1 163.5h1M162.1 164.8h1M161.8 167.6h1M161.9 174.5h1M162.0 158.5h1M161.9 180.8h1M162.7 177.0h1M161.9 161.8h1M162.5 179.7h1M163.0 169.3h1M161.0 183.7h1M161.2 183.2h1M160.9 174.1h1M161.6 164.3h1M161.8 175.0h1M162.1 169.2h1M161.2 161.5h1M161.9 158.4h1M161.6 175.3h1M162.5 182.1h1M161.1 173.7h1M161.8 167.9h1M162.8 172.6h1M162.1 182.8h1M162.1 167.0h1M161.2 165.7h1M161.6 160.3h1M161.5 157.8h1M162.7 183.7h1M161.9 165.0h1M162.1 181.0h1M162.1 170.2h1M162.9 179.0h1M161.7 163.2h1M162.2 175.0h1M161.2 169.9h1M162.7 183.4h1M161.5 176.6h1M161.2 194.3h1M161.4 183.6h1M160.6 167.9h1M161.3 166.6h1M161.8 158.6h1M161.5 169.5h1M161.6 189.1h1M161.6 170.0h1M161.3 165.8h1M162.4 181.6h1M160.8 179.9h1M161.4 165.8h1M161.5 164.8h1M162.1 181.7h1M161.9 177.9h1M161.5 168.1h1M161.4 180.2h1M162.2 190.8h1M162.7 170.8h1M161.8 162.5h1M161.5 162.4h1M162.0 160.7h1M162.6 162.0h1M161.4 185.9h1M162.0 183.8h1M161.3 166.5h1M161.7 174.4h1M162.2 164.2h1M162.0 167.5h1M161.3 170.3h1M161.6 176.4h1M161.7 160.8h1M162.0 188.3h1M161.0 181.3h1M161.8 160.8h1M162.4 186.9h1M162.6 176.9h1M182.9 159.9h1M180.0 164.4h1M181.3 159.3h1M185.0 162.7h1M184.7 173.2h1M179.2 166.2h1M183.1 167.7h1M182.3 166.9h1M185.6 160.9h1M179.5 162.9h1M183.5 170.3h1M180.7 165.2h1M182.1 172.2h1M180.8 162.4h1M182.8 158.9h1M185.5 162.2h1M185.1 161.4h1M184.5 166.8h1M183.9 172.5h1M179.2 167.5h1M179.0 158.0h1M186.0 167.1h1M181.4 166.9h1M180.2 157.2h1M175.8 166.8h1M177.2 168.4h1M174.9 161.8h1M181.8 171.7h1M176.1 163.2h1M178.1 163.1h1M176.3 163.2h1M185.9 163.0h1M183.9 170.3h1M172.6 159.8h1M180.3 164.0h1M183.6 157.5h1M181.2 168.3h1M181.6 170.7h1M184.1 158.1h1M184.9 161.6h1M173.0 158.8h1M178.4 164.2h1M184.0 166.2h1M186.4 162.3h1M174.9 166.0h1M181.6 156.8h1M185.7 165.6h1M175.6 156.8h1M183.5 161.8h1M180.4 170.6h1M182.3 160.2h1M182.7 158.8h1M183.9 164.5h1M172.6 161.3h1M178.8 170.2h1M176.7 160.6h1M185.5 165.3h1M180.3 169.1h1M182.2 166.5h1M173.9 157.9h1M176.7 162.6h1M176.3 169.1h1M176.7 160.5h1M181.6 173.0h1M174.1 156.7h1M179.6 168.2h1M184.5 171.6h1M180.8 167.0h1M180.7 169.4h1M183.1 160.6h1M184.8 157.5h1M179.3 166.1h1M182.7 162.3h1M184.2 170.4h1M181.0 158.6h1M184.9 159.6h1M181.6 167.4h1M184.4 158.0h1M184.6 165.2h1M174.5 161.1h1M183.0 162.3h1M183.3 158.5h1M173.5 162.8h1M175.4 159.0h1M181.4 156.6h1M183.7 171.5h1M173.8 156.6h1M180.9 163.7h1M179.0 159.0h1M185.7 164.5h1M177.3 166.5h1M181.4 169.8h1M183.8 170.4h1M180.0 158.5h1M184.8 165.3h1M183.5 170.0h1M175.8 161.0h1M181.7 158.6h1M177.8 167.4h1M176.1 164.6h1M185.0 170.8h1M178.8 161.8h1M184.6 172.9h1M181.0 169.4h1M179.3 164.2h1M179.4 167.8h1M174.9 164.3h1M173.7 164.3h1M185.9 169.4h1M174.4 161.0h1M173.4 159.1h1M174.8 163.0h1M185.4 166.7h1M179.1 160.5h1M185.8 160.5h1M181.7 156.7h1M180.9 165.7h1M181.5 166.7h1M182.4 161.8h1M173.5 158.9h1M186.5 169.7h1M181.9 163.4h1M184.2 170.5h1M179.9 166.0h1M179.7 169.7h1M174.1 157.1h1M184.4 168.8h1M184.0 161.2h1M181.0 163.5h1M180.9 168.9h1M186.0 162.7h1M182.1 157.9h1M182.8 157.1h1M180.5 163.5h1M184.4 168.8h1M177.9 167.5h1M179.8 157.8h1M180.8 161.8h1M173.0 160.8h1M173.1 158.0h1M184.1 158.3h1M179.3 158.3h1M179.8 160.6h1M177.5 168.4h1M173.7 159.1h1M176.1 156.6h1M182.7 162.1h1M179.5 168.5h1M184.2 167.4h1M184.8 161.6h1M180.8 164.3h1M183.3 168.5h1M182.5 163.4h1M180.0 162.6h1M182.7 167.6h1M184.9 160.5h1M180.9 158.5h1M177.6 160.6h1M184.7 164.5h1M177.9 168.0h1M179.2 170.6h1M174.5 163.1h1M184.8 168.2h1M179.0 156.8h1M174.9 159.3h1M184.1 163.3h1M183.8 158.8h1M175.5 160.4h1M184.7 170.7h1M183.7 172.7h1M184.4 159.2h1M183.0 158.0h1M187.0 169.1h1M185.2 163.8h1M177.6 159.7h1M184.8 165.2h1M177.7 166.9h1M180.4 169.3h1M179.2 163.9h1M178.3 160.7h1M187.0 168.5h1M180.8 162.0h1M175.0 164.2h1M173.7 162.0h1M182.3 165.7h1M184.9 167.5h1M184.6 160.8h1M178.0 163.0h1M172.6 161.7h1M184.5 167.3h1M181.5 170.4h1M183.6 169.8h1M180.6 157.3h1M183.1 161.8h1M184.6 159.0h1M183.4 165.4h1M181.5 160.3h1M176.9 167.7h1M173.9 161.4h1M180.0 161.2h1M180.1 167.2h1M185.9 172.6h1M177.4 167.0h1M180.5 160.1h1M179.4 166.5h1M184.1 168.7h1M175.4 160.2h1M183.3 162.3h1M177.6 157.6h1M176.6 159.1h1M181.2 170.2h1M176.7 164.4h1M185.8 157.1h1M181.7 157.7h1M181.2 164.6h1M185.3 164.8h1M182.2 166.6h1M182.8 172.0h1M176.2 163.4h1M179.9 157.7h1M179.5 163.3h1M171.7 160.5h1M178.4 158.9h1M174.5 161.3h1M180.9 168.1h1M174.0 161.9h1M173.1 158.2h1M186.1 165.0h1M183.1 163.2h1M177.2 164.3h1M179.4 164.4h1M181.8 167.4h1M182.5 168.7h1M186.1 161.5h1M177.5 166.9h1M177.8 159.6h1M178.3 167.9h1M178.4 157.7h1M181.1 167.4h1M178.8 168.2h1M180.2 164.7h1M181.2 158.1h1M177.1 165.6h1M178.6 166.5h1M175.1 166.1h1M183.6 164.0h1M183.9 167.5h1M181.2 168.6h1M178.0 166.3h1M182.2 162.7h1M176.6 163.2h1M182.0 162.7h1M173.1 163.9h1M177.0 161.2h1M174.9 168.3h1M177.8 156.6h1M179.6 166.4h1M178.1 168.3h1M179.2 162.5h1M184.2 167.1h1M176.6 161.7h1M182.8 164.7h1M175.1 164.5h1M177.7 158.0h1M175.0 161.9h1M177.1 155.1h1M175.3 164.8h1M182.4 172.1h1M175.6 158.1h1M177.0 161.9h1M179.2 166.2h1M184.8 160.4h1M181.4 163.6h1M184.2 171.6h1M184.8 160.0h1M183.8 171.7h1M178.9 168.2h1M179.2 159.8h1M183.3 160.5h1M174.2 164.0h1M183.7 157.7h1M183.0 166.4h1M184.8 168.2h1M174.2 161.1h1M173.9 161.4h1M185.5 163.9h1M180.9 171.7h1M173.1 161.0h1M185.0 168.6h1M185.2 162.7h1M178.8 161.9h1M179.0 161.1h1M175.6 156.8h1M173.9 167.4h1M180.6 168.9h1M186.0 172.2h1M185.4 162.7h1M180.1 163.9h1M183.6 162.6h1M183.8 164.3h1M183.3 164.4h1M183.3 160.1h1M184.6 162.7h1M174.6 157.0h1M174.7 160.7h1M182.4 172.7h1M178.9 159.7h1M179.1 156.9h1M184.8 161.9h1M180.3 157.8h1M180.0 160.6h1M185.8 161.0h1M184.5 166.7h1M173.7 158.9h1M174.5 164.0h1M173.0 161.4h1M174.0 161.2h1M177.4 167.1h1M176.1 168.1h1M178.8 166.9h1M175.9 163.8h1M182.5 166.7h1M175.5 159.0h1M174.3 156.6h1M175.8 161.4h1M181.4 166.0h1M179.4 162.8h1M175.2 162.5h1M176.2 161.9h1M175.2 164.7h1M177.7 159.9h1M173.9 164.2h1M180.4 164.9h1M175.3 161.4h1M184.7 165.6h1M177.3 159.5h1M177.1 160.7h1M183.9 158.8h1M180.3 161.2h1M183.3 164.1h1M183.2 164.9h1M180.7 163.7h1M181.2 162.6h1M177.4 161.7h1M185.1 161.2h1M183.4 171.5h1M178.7 169.2h1M177.8 159.7h1M178.8 166.4h1M186.4 165.3h1M184.6 166.7h1M180.5 158.8h1M176.0 158.8h1M173.1 160.8h1M173.7 159.0h1M180.6 159.7h1M185.8 165.2h1M179.9 165.5h1M183.0 170.8h1M182.8 160.1h1M180.7 156.8h1M173.1 159.3h1M176.7 166.8h1M183.4 166.2h1M177.8 155.4h1M174.7 161.0h1M172.6 164.0h1M179.1 160.2h1M185.9 168.9h1M182.5 163.8h1M183.3 159.8h1M176.2 156.7h1M178.8 159.0h1M185.4 163.7h1M184.6 173.5h1M183.8 162.6h1M183.6 161.3h1M180.1 162.4h1M175.4 160.3h1M182.4 160.2h1M176.4 160.9h1M185.3 159.1h1M179.9 162.0h1M177.8 164.1h1M177.7 159.5h1M184.3 162.6h1M179.7 160.4h1M182.7 170.1h1M183.2 165.8h1M180.2 167.8h1M174.3 160.5h1M175.8 164.2h1M182.6 165.2h1M178.6 163.5h1M173.5 161.1h1M177.2 159.0h1M178.9 169.0h1M184.0 160.1h1M185.3 161.3h1M186.1 164.1h1M183.7 164.2h1M181.7 168.9h1M183.2 162.0h1M176.8 167.7h1M182.7 164.1h1M182.5 165.3h1M183.8 172.0h1M179.5 167.1h1M183.3 169.0h1M182.7 162.7h1M174.6 165.6h1M174.4 157.3h1M179.5 163.7h1M181.4 166.1h1M174.7 157.9h1M181.4 164.2h1M178.4 166.0h1M178.7 169.7h1M182.0 158.1h1M175.4 163.8h1M176.3 160.0h1M179.4 161.8h1M184.6 164.5h1M180.3 162.5h1M186.2 164.1h1M176.7 162.6h1M177.9 164.3h1M178.0 156.0h1M178.3 162.5h1M183.7 161.7h1M178.9 168.5h1M179.3 165.7h1M181.0 162.2h1M181.7 157.5h1M185.1 161.2h1M172.5 162.9h1M179.9 160.8h1M177.5 157.1h1M180.0 161.4h1M181.1 168.4h1M175.6 160.6h1M183.1 159.1h1M176.9 163.1h1M182.6 172.2h1M182.5 169.6h1M177.3 156.3h1M181.5 162.9h1M184.1 159.1h1M183.7 156.6h1M176.4 159.2h1M175.2 166.4h1M183.6 160.9h1M179.8 158.2h1M178.3 158.2h1M179.8 157.9h1M186.0 161.4h1M185.7 171.9h1M178.8 166.2h1M177.7 167.9h1M178.0 158.4h1M184.1 169.7h1M174.5 162.6h1M181.4 160.5h1M173.5 163.7h1M183.0 166.8h1M177.6 168.0h1M181.7 169.8h1M174.8 157.8h1M181.0 171.3h1M178.4 163.2h1M181.2 163.9h1M184.7 157.8h1M176.3 166.8h1M185.2 163.9h1M181.9 166.1h1M175.6 163.4h1M184.2 170.1h1M184.9 171.0h1M174.9 158.7h1M183.3 164.9h1M186.0 162.3h1M179.0 163.2h1M178.3 166.4h1M181.8 167.4h1M178.9 169.1h1M173.3 164.5h1M180.4 159.5h1M182.5 169.2h1M175.6 164.8h1M178.2 166.5h1M182.5 171.8h1M180.1 162.5h1M179.3 166.9h1M178.4 158.1h1M184.8 164.8h1M180.7 158.7h1M176.9 164.8h1M180.8 159.4h1M177.9 160.2h1M184.2 170.3h1M184.1 164.3h1M183.9 169.1h1M177.7 167.9h1M176.8 166.7h1M179.6 169.5h1M174.6 159.7h1M185.0 170.6h1M177.3 167.7h1M178.7 163.6h1M175.4 163.6h1M174.9 162.1h1M178.4 159.6h1M181.1 166.3h1M182.6 163.2h1M173.6 163.7h1M183.9 168.4h1M180.9 167.8h1M180.3 169.3h1M182.6 160.8h1M184.1 167.1h1M174.0 157.9h1M178.6 158.2h1M176.8 163.0h1M178.4 164.5h1M186.0 169.3h1M185.2 163.1h1M174.2 160.1h1M177.6 170.3h1M176.7 167.0h1M185.7 167.3h1M178.2 165.4h1M175.6 158.7h1M178.6 157.3h1M184.3 169.6h1M177.6 161.7h1M178.7 166.2h1M179.2 162.2h1M176.7 156.3h1M179.2 165.9h1M181.7 157.3h1M183.1 163.4h1M175.6 166.8h1M177.6 170.0h1M175.0 167.2h1M177.4 164.4h1M173.2 160.5h1M183.7 162.1h1M176.9 166.8h1M175.2 160.7h1M185.0 163.3h1M183.1 165.2h1M179.7 166.4h1M183.9 164.7h1M185.8 163.9h1M179.3 162.5h1M185.5 174.1h1M184.1 157.8h1M183.9 170.5h1M185.9 159.0h1M179.7 169.2h1M174.6 164.5h1M179.1 164.8h1M178.6 166.5h1M178.5 160.6h1M183.4 165.5h1M177.1 162.3h1M186.0 162.5h1M180.0 160.5h1M183.5 164.8h1M174.5 163.4h1M179.6 157.6h1M179.9 165.0h1M177.9 161.6h1M173.0 164.5h1M178.4 158.1h1M179.6 167.9h1M184.2 163.4h1M177.8 166.8h1M180.9 158.1h1M176.1 165.9h1M180.5 162.4h1M177.0 158.0h1M173.7 160.3h1M183.1 170.7h1M183.4 166.9h1M182.2 159.0h1M172.1 162.4h1M174.1 157.8h1M183.5 159.5h1M182.1 159.0h1M182.7 163.1h1M179.2 167.4h1M175.8 166.5h1M180.1 165.4h1M175.9 161.0h1M175.9 163.9h1M185.1 170.5h1M176.5 159.4h1M178.7 160.7h1M175.8 157.7h1M176.0 157.3h1M183.5 170.5h1M184.0 164.6h1M184.9 169.6h1M177.7 163.8h1M182.9 166.0h1M173.6 160.2h1M176.4 169.8h1M186.2 162.8h1M182.6 156.8h1M181.3 169.7h1M185.8 162.5h1M188.6 163.6h1M176.8 166.0h1M180.5 160.2h1M183.4 159.3h1M172.3 160.8h1M177.4 162.7h1M182.3 161.6h1M179.3 162.2h1M180.7 171.0h1M178.0 154.7h1M183.5 169.5h1M184.5 160.2h1M183.0 167.6h1M179.9 169.4h1M184.4 162.0h1M175.3 156.4h1M182.9 168.0h1M181.5 168.7h1M183.2 166.7h1M181.9 172.7h1M179.4 163.1h1M182.5 163.9h1M179.2 169.6h1M181.8 174.3h1M179.6 154.0h1M177.1 170.1h1M177.6 159.8h1M184.3 161.4h1M177.1 157.2h1M173.3 160.7h1M185.5 163.0h1M173.2 157.0h1M183.9 168.6h1M177.6 169.9h1M181.4 171.0h1M175.5 157.3h1M174.4 169.4h1M176.0 157.9h1M185.5 174.2h1M183.1 169.3h1M177.1 159.3h1M175.3 160.1h1M179.6 167.9h1M174.9 156.3h1M175.8 167.2h1M187.7 161.7h1M180.1 165.5h1M180.4 166.4h1M176.1 163.7h1M182.3 164.4h1M182.2 173.1h1M185.1 161.1h1M182.8 165.2h1M179.2 164.6h1M185.8 167.3h1M182.4 166.1h1M184.0 167.7h1M173.3 160.3h1M176.3 169.0h1M180.3 173.3h1M179.2 163.4h1M175.0 161.9h1M177.4 165.2h1M181.6 160.3h1M170.8 159.0h1M185.8 166.6h1M186.6 167.9h1M181.7 160.2h1M183.8 187.4h1M184.4 177.3h1M185.0 177.1h1M183.6 186.0h1M184.0 172.8h1M184.7 182.5h1M185.1 178.2h1M184.6 187.7h1M183.5 177.4h1M184.3 173.7h1M184.0 179.6h1M185.5 178.4h1M183.0 181.3h1M184.7 176.3h1M184.3 177.1h1M183.8 187.6h1M184.4 187.3h1M183.4 185.6h1M182.5 185.5h1M186.1 178.9h1M185.5 187.2h1M183.9 173.6h1M185.9 179.4h1M185.2 179.3h1M183.1 173.5h1M184.7 185.7h1M184.1 178.6h1M183.4 177.8h1M183.7 175.6h1M184.4 182.7h1M184.8 179.9h1M184.4 187.4h1M183.8 182.3h1M182.5 186.4h1M183.3 178.7h1M184.7 178.8h1M183.9 172.5h1M183.7 172.9h1M183.5 175.0h1M184.1 178.5h1M170.4 165.7h1M170.7 165.3h1M168.9 164.3h1M171.0 165.0h1M170.5 165.0h1" stroke="#000" stroke-width="1" fill="none"/>
<line x1="345.7" y1="46.19999999999999" x2="345.7" y2="193.0" stroke="#1a1a1a" stroke-width="1.2"/>
<line x1="345.2" y1="192.5" x2="458" y2="192.5" stroke="#1a1a1a" stroke-width="1.2"/>
<line x1="341.7" y1="192.5" x2="345.7" y2="192.5" stroke="#1a1a1a" stroke-width="1"/>
<text x="335.4" y="196.7" font-size="11.8" text-anchor="end">0</text>
<line x1="341.7" y1="174.275" x2="345.7" y2="174.275" stroke="#1a1a1a" stroke-width="1"/>
<text x="335.4" y="178.475" font-size="11.8" text-anchor="end">10</text>
<line x1="341.7" y1="156.05" x2="345.7" y2="156.05" stroke="#1a1a1a" stroke-width="1"/>
<text x="335.4" y="160.25" font-size="11.8" text-anchor="end">20</text>
<line x1="341.7" y1="137.825" x2="345.7" y2="137.825" stroke="#1a1a1a" stroke-width="1"/>
<text x="335.4" y="142.02499999999998" font-size="11.8" text-anchor="end">30</text>
<line x1="341.7" y1="119.6" x2="345.7" y2="119.6" stroke="#1a1a1a" stroke-width="1"/>
<text x="335.4" y="123.8" font-size="11.8" text-anchor="end">40</text>
<line x1="341.7" y1="101.375" x2="345.7" y2="101.375" stroke="#1a1a1a" stroke-width="1"/>
<text x="335.4" y="105.575" font-size="11.8" text-anchor="end">50</text>
<line x1="341.7" y1="83.15" x2="345.7" y2="83.15" stroke="#1a1a1a" stroke-width="1"/>
<text x="335.4" y="87.35000000000001" font-size="11.8" text-anchor="end">60</text>
<line x1="341.7" y1="64.925" x2="345.7" y2="64.925" stroke="#1a1a1a" stroke-width="1"/>
<text x="335.4" y="69.125" font-size="11.8" text-anchor="end">70</text>
<line x1="341.7" y1="46.69999999999999" x2="345.7" y2="46.69999999999999" stroke="#1a1a1a" stroke-width="1"/>
<text x="335.4" y="50.89999999999999" font-size="11.8" text-anchor="end">80</text>
<line x1="345.7" y1="192.5" x2="345.7" y2="196.3" stroke="#1a1a1a" stroke-width="1"/>
<line x1="373.75" y1="192.5" x2="373.75" y2="196.3" stroke="#1a1a1a" stroke-width="1"/>
<line x1="401.8" y1="192.5" x2="401.8" y2="196.3" stroke="#1a1a1a" stroke-width="1"/>
<line x1="429.85" y1="192.5" x2="429.85" y2="196.3" stroke="#1a1a1a" stroke-width="1"/>
<line x1="457.9" y1="192.5" x2="457.9" y2="196.3" stroke="#1a1a1a" stroke-width="1"/>
<rect x="354.00" y="190.60" width="11.50" height="1.90" fill="#000"/>
<line x1="359.75" y1="189.4" x2="359.75" y2="190.6" stroke="#111" stroke-width="1"/>
<line x1="357.55" y1="189.4" x2="361.95" y2="189.4" stroke="#111" stroke-width="1"/>
<rect x="382.50" y="141.00" width="10.80" height="51.50" fill="#000"/>
<line x1="387.9" y1="136.25" x2="387.9" y2="141" stroke="#111" stroke-width="1"/>
<line x1="385.7" y1="136.25" x2="390.09999999999997" y2="136.25" stroke="#111" stroke-width="1"/>
<rect x="410.50" y="111.75" width="10.80" height="80.75" fill="#000"/>
<line x1="415.9" y1="101.5" x2="415.9" y2="111.75" stroke="#111" stroke-width="1"/>
<line x1="413.7" y1="101.5" x2="418.09999999999997" y2="101.5" stroke="#111" stroke-width="1"/>
<rect x="438.30" y="81.25" width="11.00" height="111.25" fill="#000"/>
<line x1="443.8" y1="69.25" x2="443.8" y2="81.25" stroke="#111" stroke-width="1"/>
<line x1="441.6" y1="69.25" x2="446.0" y2="69.25" stroke="#111" stroke-width="1"/>
<text x="405.4" y="38.8" font-size="11.6" text-anchor="middle">SJSA1 cells (48 h)</text>
<text x="361.25" y="212.3" font-size="11.5" text-anchor="middle">NTC</text>
<text x="388.4" y="212.3" font-size="11.5" text-anchor="middle">1.5</text>
<text x="415.25" y="212.3" font-size="11.5" text-anchor="middle">3</text>
<text x="443.5" y="212.3" font-size="11.5" text-anchor="middle">6</text>
<text x="401.6" y="228.4" font-size="11.85" text-anchor="middle">RG7112 (µmol/L)</text>
<text x="310.9" y="121.1" font-size="11.8" text-anchor="middle" transform="rotate(-90 310.9 121.1)">Annexin V–positive (%)</text>
<line x1="76.75" y1="248" x2="76.75" y2="368.5" stroke="#8a8a8a" stroke-width="1"/>
<line x1="76.25" y1="368" x2="469.5" y2="368" stroke="#8a8a8a" stroke-width="1"/>
<line x1="72.75" y1="368.0" x2="76.75" y2="368.0" stroke="#8a8a8a" stroke-width="1"/>
<text x="68.3" y="371.9" font-size="10.6" text-anchor="end">0</text>
<line x1="72.75" y1="333.5" x2="76.75" y2="333.5" stroke="#8a8a8a" stroke-width="1"/>
<text x="68.3" y="337.4" font-size="10.6" text-anchor="end">20</text>
<line x1="72.75" y1="299.0" x2="76.75" y2="299.0" stroke="#8a8a8a" stroke-width="1"/>
<text x="68.3" y="302.9" font-size="10.6" text-anchor="end">40</text>
<line x1="72.75" y1="264.5" x2="76.75" y2="264.5" stroke="#8a8a8a" stroke-width="1"/>
<text x="68.3" y="268.4" font-size="10.6" text-anchor="end">60</text>
<line x1="76.75" y1="368" x2="76.75" y2="371.5" stroke="#8a8a8a" stroke-width="1"/>
<line x1="109.45" y1="368" x2="109.45" y2="371.5" stroke="#8a8a8a" stroke-width="1"/>
<line x1="142.15" y1="368" x2="142.15" y2="371.5" stroke="#8a8a8a" stroke-width="1"/>
<line x1="174.85000000000002" y1="368" x2="174.85000000000002" y2="371.5" stroke="#8a8a8a" stroke-width="1"/>
<line x1="207.55" y1="368" x2="207.55" y2="371.5" stroke="#8a8a8a" stroke-width="1"/>
<line x1="240.25" y1="368" x2="240.25" y2="371.5" stroke="#8a8a8a" stroke-width="1"/>
<line x1="272.95000000000005" y1="368" x2="272.95000000000005" y2="371.5" stroke="#8a8a8a" stroke-width="1"/>
<line x1="305.65000000000003" y1="368" x2="305.65000000000003" y2="371.5" stroke="#8a8a8a" stroke-width="1"/>
<line x1="338.35" y1="368" x2="338.35" y2="371.5" stroke="#8a8a8a" stroke-width="1"/>
<line x1="371.05" y1="368" x2="371.05" y2="371.5" stroke="#8a8a8a" stroke-width="1"/>
<line x1="403.75" y1="368" x2="403.75" y2="371.5" stroke="#8a8a8a" stroke-width="1"/>
<line x1="436.45000000000005" y1="368" x2="436.45000000000005" y2="371.5" stroke="#8a8a8a" stroke-width="1"/>
<line x1="469.15000000000003" y1="368" x2="469.15000000000003" y2="371.5" stroke="#8a8a8a" stroke-width="1"/>
<rect x="86.25" y="258.75" width="13.75" height="109.25" fill="#000"/>
<line x1="93.125" y1="254.25" x2="93.125" y2="258.75" stroke="#111" stroke-width="1"/>
<line x1="91.125" y1="254.25" x2="95.125" y2="254.25" stroke="#111" stroke-width="1"/>
<text x="97.025" y="375.2" font-size="10.3" text-anchor="end" transform="rotate(-90 97.025 375.2)" stroke-width="0.12">MHM</text>
<rect x="119.25" y="263.75" width="13.25" height="104.25" fill="#000"/>
<line x1="125.875" y1="253" x2="125.875" y2="263.75" stroke="#111" stroke-width="1"/>
<line x1="123.875" y1="253" x2="127.875" y2="253" stroke="#111" stroke-width="1"/>
<text x="129.775" y="375.2" font-size="10.3" text-anchor="end" transform="rotate(-90 129.775 375.2)" stroke-width="0.12">SJSA</text>
<rect x="152.00" y="272.00" width="13.75" height="96.00" fill="#000"/>
<line x1="158.875" y1="267.5" x2="158.875" y2="272" stroke="#111" stroke-width="1"/>
<line x1="156.875" y1="267.5" x2="160.875" y2="267.5" stroke="#111" stroke-width="1"/>
<text x="162.775" y="375.2" font-size="10.3" text-anchor="end" transform="rotate(-90 162.775 375.2)" stroke-width="0.12">LnCAP</text>
<rect x="184.50" y="303.00" width="13.75" height="65.00" fill="#000"/>
<line x1="191.375" y1="300" x2="191.375" y2="303" stroke="#111" stroke-width="1"/>
<line x1="189.375" y1="300" x2="193.375" y2="300" stroke="#111" stroke-width="1"/>
<text x="195.275" y="375.2" font-size="10.3" text-anchor="end" transform="rotate(-90 195.275 375.2)" stroke-width="0.12">22Rv1</text>
<rect x="217.50" y="322.00" width="13.25" height="46.00" fill="#000"/>
<line x1="224.125" y1="318.75" x2="224.125" y2="322" stroke="#111" stroke-width="1"/>
<line x1="222.125" y1="318.75" x2="226.125" y2="318.75" stroke="#111" stroke-width="1"/>
<text x="228.025" y="375.2" font-size="10.3" text-anchor="end" transform="rotate(-90 228.025 375.2)" stroke-width="0.12">A498</text>
<rect x="250.00" y="333.25" width="13.75" height="34.75" fill="#000"/>
<line x1="256.875" y1="326.25" x2="256.875" y2="333.25" stroke="#111" stroke-width="1"/>
<line x1="254.875" y1="326.25" x2="258.875" y2="326.25" stroke="#111" stroke-width="1"/>
<text x="260.775" y="375.2" font-size="10.3" text-anchor="end" transform="rotate(-90 260.775 375.2)" stroke-width="0.12">MCF7</text>
<rect x="283.00" y="341.25" width="13.25" height="26.75" fill="#000"/>
<line x1="289.625" y1="338.75" x2="289.625" y2="341.25" stroke="#111" stroke-width="1"/>
<line x1="287.625" y1="338.75" x2="291.625" y2="338.75" stroke="#111" stroke-width="1"/>
<text x="293.525" y="375.2" font-size="10.3" text-anchor="end" transform="rotate(-90 293.525 375.2)" stroke-width="0.12">H460</text>
<rect x="315.50" y="351.25" width="13.75" height="16.75" fill="#000"/>
<line x1="322.375" y1="347" x2="322.375" y2="351.25" stroke="#111" stroke-width="1"/>
<line x1="320.375" y1="347" x2="324.375" y2="347" stroke="#111" stroke-width="1"/>
<text x="326.275" y="375.2" font-size="10.3" text-anchor="end" transform="rotate(-90 326.275 375.2)" stroke-width="0.12">RKO</text>
<rect x="348.00" y="354.50" width="13.75" height="13.50" fill="#000"/>
<line x1="354.875" y1="352" x2="354.875" y2="354.5" stroke="#111" stroke-width="1"/>
<line x1="352.875" y1="352" x2="356.875" y2="352" stroke="#111" stroke-width="1"/>
<text x="358.775" y="375.2" font-size="10.3" text-anchor="end" transform="rotate(-90 358.775 375.2)" stroke-width="0.12">HCT116</text>
<rect x="381.25" y="358.75" width="13.25" height="9.25" fill="#000"/>
<line x1="387.875" y1="356.75" x2="387.875" y2="358.75" stroke="#111" stroke-width="1"/>
<line x1="385.875" y1="356.75" x2="389.875" y2="356.75" stroke="#111" stroke-width="1"/>
<text x="391.775" y="375.2" font-size="10.3" text-anchor="end" transform="rotate(-90 391.775 375.2)" stroke-width="0.12">A549</text>
<rect x="413.75" y="360.50" width="13.75" height="7.50" fill="#000"/>
<line x1="420.625" y1="355.25" x2="420.625" y2="360.5" stroke="#111" stroke-width="1"/>
<line x1="418.625" y1="355.25" x2="422.625" y2="355.25" stroke="#111" stroke-width="1"/>
<text x="424.525" y="375.2" font-size="10.3" text-anchor="end" transform="rotate(-90 424.525 375.2)" stroke-width="0.12">Lox</text>
<rect x="446.25" y="362.00" width="13.75" height="6.00" fill="#000"/>
<line x1="453.125" y1="360.75" x2="453.125" y2="362" stroke="#111" stroke-width="1"/>
<line x1="451.125" y1="360.75" x2="455.125" y2="360.75" stroke="#111" stroke-width="1"/>
<text x="457.025" y="375.2" font-size="10.3" text-anchor="end" transform="rotate(-90 457.025 375.2)" stroke-width="0.12">U2OS</text>
<text x="233.0" y="297.6" font-size="11.65" text-anchor="start">RG7112 (7 µmol/L)</text>
<text x="46.6" y="307.2" font-size="11.7" text-anchor="middle" transform="rotate(-90 46.6 307.2)">Annexin V + cells (%)</text>
<line x1="78.8" y1="422.7" x2="78.8" y2="562.5" stroke="#1a1a1a" stroke-width="1.2"/>
<line x1="78.3" y1="562" x2="249.3" y2="562" stroke="#1a1a1a" stroke-width="1.2"/>
<line x1="75.3" y1="562.0" x2="78.8" y2="562.0" stroke="#1a1a1a" stroke-width="1"/>
<text x="70.6" y="565.6" font-size="10.1" text-anchor="end">0</text>
<line x1="75.3" y1="534.25" x2="78.8" y2="534.25" stroke="#1a1a1a" stroke-width="1"/>
<text x="70.6" y="537.85" font-size="10.1" text-anchor="end">20</text>
<line x1="75.3" y1="506.5" x2="78.8" y2="506.5" stroke="#1a1a1a" stroke-width="1"/>
<text x="70.6" y="510.1" font-size="10.1" text-anchor="end">40</text>
<line x1="75.3" y1="478.75" x2="78.8" y2="478.75" stroke="#1a1a1a" stroke-width="1"/>
<text x="70.6" y="482.35" font-size="10.1" text-anchor="end">60</text>
<line x1="75.3" y1="451.0" x2="78.8" y2="451.0" stroke="#1a1a1a" stroke-width="1"/>
<text x="70.6" y="454.6" font-size="10.1" text-anchor="end">80</text>
<line x1="75.3" y1="423.25" x2="78.8" y2="423.25" stroke="#1a1a1a" stroke-width="1"/>
<text x="70.6" y="426.85" font-size="10.1" text-anchor="end">100</text>
<line x1="78.8" y1="562" x2="78.8" y2="565.5" stroke="#1a1a1a" stroke-width="1"/>
<text x="77.2" y="578" font-size="10.5" text-anchor="middle">0</text>
<line x1="121.19999999999999" y1="562" x2="121.19999999999999" y2="565.5" stroke="#1a1a1a" stroke-width="1"/>
<text x="120.5" y="578" font-size="10.5" text-anchor="middle">2</text>
<line x1="163.6" y1="562" x2="163.6" y2="565.5" stroke="#1a1a1a" stroke-width="1"/>
<text x="164.2" y="578" font-size="10.5" text-anchor="middle">4</text>
<line x1="206.0" y1="562" x2="206.0" y2="565.5" stroke="#1a1a1a" stroke-width="1"/>
<text x="205.4" y="578" font-size="10.5" text-anchor="middle">6</text>
<line x1="248.39999999999998" y1="562" x2="248.39999999999998" y2="565.5" stroke="#1a1a1a" stroke-width="1"/>
<text x="247.7" y="578" font-size="10.5" text-anchor="middle">8</text>
<path d="M78.8 562.0 L84.5 509.2 L84.5 509.2C85.3 505.3 86.8 495.6 89.5 485.5C92.2 475.4 95.2 458.3 100.5 448.8C105.8 439.2 110.8 431.8 121.3 428.0C131.8 424.2 142.5 426.6 163.8 426.0C185.1 425.4 234.8 424.8 249.0 424.6" fill="none" stroke="#000" stroke-width="1.5"/>
<circle cx="78.8" cy="562.0" r="4.1" fill="#000"/>
<circle cx="84.5" cy="509.2" r="4.1" fill="#000"/>
<circle cx="89.5" cy="485.5" r="4.1" fill="#000"/>
<circle cx="100.5" cy="448.8" r="4.1" fill="#000"/>
<circle cx="121.3" cy="428.0" r="4.1" fill="#000"/>
<circle cx="163.8" cy="426.0" r="4.1" fill="#000"/>
<circle cx="249.0" cy="424.6" r="4.1" fill="#000"/>
<text x="145.3" y="454.5" font-size="11.6" text-anchor="start">EC<tspan font-size="8.8" dy="2.6">50</tspan><tspan dy="-2.6"> = 0.4 µmol/L</tspan></text>
<text x="164.9" y="594.6" font-size="12.3" text-anchor="middle">RG7112 Concentration (µmol/L)</text>
<text x="50.2" y="489.8" font-size="12.4" text-anchor="middle" transform="rotate(-90 50.2 489.8)">Cell-cycle arrest (%)</text>
<line x1="112.3" y1="494.3" x2="160.6" y2="494.3" stroke="#666" stroke-width="1"/>
<line x1="135.7" y1="494.3" x2="135.7" y2="539.2" stroke="#666" stroke-width="1"/>
<path d="M123.4 487.0L124.2 480.5L126.8 477.2L132.0 476.0L138.0 475.8L141.2 477.0L142.2 485.0L140.0 483.2L134.0 482.2L128.0 483.0L125.4 485.5L124.4 488.0Z" fill="#000" opacity="1"/>
<path d="M128.8 482.2h1M127.0 484.8h1M131.8 479.6h1M132.8 481.8h1M122.9 488.6h1M124.8 481.7h1M124.7 491.2h1M124.0 484.3h1M134.8 483.6h1M137.3 481.8h1M143.1 483.1h1M121.4 485.2h1M141.1 487.4h1M138.7 482.8h1M141.0 483.5h1M134.2 481.3h1M127.6 483.1h1M135.3 477.4h1M129.7 481.6h1M142.7 487.9h1M131.1 475.4h1M134.6 482.5h1M141.1 485.8h1M128.7 484.2h1M123.4 483.6h1M141.4 476.3h1M131.5 480.1h1M133.6 481.0h1M130.9 475.8h1M125.4 494.7h1M136.0 480.5h1M136.7 484.0h1M123.3 491.4h1M140.4 489.7h1M125.1 486.7h1M141.2 479.5h1M132.6 478.8h1M130.2 481.4h1M143.1 478.4h1M131.8 478.4h1M142.9 479.7h1M135.7 478.8h1M133.6 478.6h1M141.7 477.3h1M130.3 477.9h1M125.0 480.4h1M123.4 483.4h1M141.9 491.2h1M124.7 485.1h1M138.9 481.0h1M131.9 478.5h1M139.7 483.8h1M133.6 481.7h1M140.0 479.0h1M139.1 480.6h1M131.4 480.9h1M124.2 478.7h1M142.4 492.4h1M139.9 482.6h1M127.3 475.6h1M136.8 479.6h1M139.2 480.4h1M140.0 482.4h1M136.9 476.9h1M124.8 488.7h1M132.9 480.5h1M133.9 484.8h1M123.6 484.8h1M142.9 482.4h1M136.4 482.0h1M135.6 482.1h1M141.3 477.6h1M130.3 478.0h1M141.5 488.7h1M130.3 482.9h1M141.1 478.6h1M129.0 477.6h1M129.7 483.7h1M133.2 478.5h1M134.9 482.6h1M141.7 487.3h1M142.1 492.6h1M131.2 474.5h1M137.8 481.1h1M124.9 488.5h1M129.1 475.4h1M141.2 478.0h1M134.9 478.9h1M125.5 483.9h1M124.0 480.7h1M128.3 476.1h1M133.4 478.8h1M123.3 485.5h1M124.9 481.0h1M123.7 490.2h1M142.6 487.7h1M139.3 480.9h1M141.4 493.1h1M129.9 482.2h1M129.6 480.4h1M137.1 477.4h1M124.9 482.3h1M142.9 478.1h1M136.8 477.0h1M142.2 484.8h1M133.5 479.7h1M140.1 487.9h1M130.9 482.7h1M138.5 478.8h1M141.9 485.6h1M128.0 479.8h1M142.8 479.8h1M135.1 475.2h1M136.0 480.2h1M130.8 475.3h1M134.4 478.5h1M126.3 478.7h1M139.5 480.5h1M132.1 476.2h1M128.4 481.9h1M143.2 489.9h1M127.8 480.7h1M134.9 483.1h1M140.8 490.0h1M126.7 485.9h1M137.1 478.2h1M136.1 481.3h1M135.3 480.0h1M132.0 477.9h1M142.0 487.5h1M139.0 474.8h1M134.4 477.8h1M125.1 491.3h1M129.3 482.1h1M125.4 478.5h1M130.7 478.9h1M139.3 482.6h1M134.9 480.0h1M125.0 484.3h1M140.0 477.3h1M139.9 482.5h1M124.5 488.3h1M130.2 475.4h1M123.3 489.9h1M133.8 480.9h1M131.0 485.9h1M130.9 481.3h1M132.3 481.1h1M142.3 481.2h1M138.9 485.2h1M135.9 484.1h1M132.4 484.2h1M138.0 475.8h1M123.9 481.5h1M124.3 484.5h1M126.9 479.0h1M132.0 476.4h1M126.1 486.8h1M138.7 483.0h1M142.1 488.0h1M128.9 476.3h1M142.6 490.4h1M132.7 483.0h1M123.9 489.7h1M143.0 485.7h1M137.8 482.5h1M129.2 478.2h1M143.4 493.8h1M142.9 478.8h1M141.8 480.9h1M133.3 479.8h1M141.2 477.0h1M139.1 479.1h1M124.6 493.0h1M141.5 483.4h1M140.4 483.8h1M130.8 480.1h1M141.1 487.5h1M134.0 479.7h1M139.9 486.0h1M131.2 483.9h1M128.5 484.9h1M134.8 485.5h1M131.1 485.6h1M124.0 489.9h1M139.5 477.4h1M130.9 474.8h1M142.2 491.2h1M135.9 480.3h1M129.3 476.8h1M122.8 491.7h1M141.1 476.1h1M129.2 483.3h1M131.8 476.5h1M129.3 479.2h1M139.5 478.7h1M130.0 482.2h1M137.2 477.0h1M126.7 487.1h1M125.0 486.6h1M140.5 478.0h1M134.6 478.1h1M133.0 485.0h1M125.5 486.7h1M128.3 485.4h1M130.2 479.6h1M139.2 476.6h1M129.6 479.3h1M129.9 478.2h1M140.3 484.7h1M143.1 485.5h1M128.7 483.5h1M124.0 480.4h1M136.3 479.8h1M125.9 483.7h1M141.9 492.7h1M127.8 479.3h1M130.7 481.2h1M132.2 483.3h1M130.9 477.4h1M123.3 489.5h1M126.7 477.4h1M131.1 474.4h1M125.8 487.2h1M131.2 484.6h1M140.1 482.1h1M141.3 478.2h1M123.2 493.6h1M130.9 482.8h1M124.9 488.6h1M136.3 484.1h1M142.5 490.1h1M127.9 481.7h1M136.9 480.1h1M141.5 493.3h1M141.6 479.5h1M124.6 486.8h1M141.2 486.1h1M130.2 482.6h1M127.4 476.9h1M130.2 480.9h1M126.2 479.6h1M130.0 482.3h1M141.8 483.0h1M131.0 478.6h1M126.6 483.1h1M142.1 477.2h1M142.0 492.3h1M124.9 478.6h1M138.6 484.6h1M138.6 480.2h1M122.1 491.2h1M128.0 486.2h1M129.0 477.0h1M125.5 484.0h1M125.7 483.2h1M141.9 486.8h1M131.4 478.3h1M141.1 487.8h1M142.4 485.7h1M123.1 482.3h1M132.7 483.2h1M125.2 489.8h1M125.4 477.6h1M133.3 483.3h1M141.4 476.8h1M134.4 482.3h1M129.0 479.2h1M125.4 477.9h1M126.5 485.5h1M137.8 479.5h1M131.0 477.7h1M124.3 482.0h1M126.5 486.2h1M138.2 475.6h1M127.9 475.6h1M143.0 485.5h1M139.9 484.3h1M137.7 482.7h1M128.8 480.3h1M127.1 486.1h1M123.9 487.3h1M136.8 481.0h1M137.7 475.5h1M141.8 483.5h1M136.4 475.5h1M123.1 483.0h1M127.6 480.2h1M136.4 476.2h1M141.1 477.4h1M125.2 486.8h1M130.6 476.8h1M128.1 482.2h1M122.9 489.2h1M131.7 476.3h1M128.0 485.1h1M124.5 492.7h1M125.5 482.2h1M142.3 480.8h1M130.1 485.4h1M134.9 481.6h1M128.1 480.4h1M130.6 477.1h1M137.8 484.4h1M131.1 479.7h1M122.3 493.1h1M139.0 485.7h1M139.0 477.5h1M125.4 489.4h1M136.0 481.7h1M133.9 482.3h1M141.4 492.3h1M142.4 478.6h1M141.4 476.3h1M139.7 475.2h1M122.1 493.4h1M141.0 479.4h1M138.2 480.0h1M140.7 483.1h1M132.7 483.7h1M135.5 480.8h1M123.6 489.4h1M142.8 486.8h1M140.2 477.5h1M139.1 479.0h1M137.9 475.7h1M128.0 486.2h1M139.4 477.0h1M125.5 484.4h1M135.8 483.2h1M127.1 480.1h1M142.2 483.0h1M140.6 478.7h1M139.2 476.6h1M142.0 478.1h1M124.1 493.2h1M126.2 483.7h1M125.1 490.8h1M136.1 475.2h1M143.0 490.8h1M142.5 483.4h1M142.2 485.1h1M123.9 493.9h1M126.9 480.9h1M138.1 478.8h1M138.4 482.5h1M139.0 478.8h1M126.6 485.5h1M132.3 482.1h1M123.2 487.3h1M138.4 482.1h1M127.3 479.5h1M136.5 482.5h1M129.5 482.3h1M136.6 481.8h1M126.9 487.1h1M127.8 475.7h1M132.6 479.6h1M135.5 481.3h1M126.2 479.4h1M126.5 481.2h1M126.3 486.8h1M141.4 480.1h1M138.7 476.0h1M123.7 492.0h1M141.1 482.2h1M127.9 476.0h1M140.3 483.7h1M125.2 483.2h1M137.3 486.4h1M139.1 477.0h1M131.2 482.3h1M141.3 488.8h1M136.1 474.4h1M126.9 476.8h1M129.4 476.6h1M123.5 486.3h1M141.6 487.3h1M137.9 485.9h1M123.7 492.9h1M130.0 484.8h1M142.5 489.8h1M134.3 476.1h1M139.7 476.7h1M131.6 483.8h1M141.9 479.9h1M129.2 479.8h1M128.6 483.5h1M142.4 481.5h1M125.0 483.2h1M143.1 487.5h1M131.8 479.6h1M127.9 483.1h1M130.6 484.1h1M140.8 488.1h1M136.1 483.5h1M133.2 475.7h1M130.2 481.1h1M133.7 477.1h1M123.7 478.9h1M131.1 478.2h1M125.7 482.9h1M128.8 481.3h1M126.3 484.4h1M128.8 484.2h1M138.0 479.8h1M126.0 482.5h1M133.5 480.3h1M125.3 482.4h1M135.6 485.6h1M140.4 479.2h1M128.8 481.6h1M123.1 489.1h1M141.8 480.6h1M135.6 478.4h1M139.3 479.2h1M136.8 483.4h1M128.7 476.9h1M135.1 476.5h1M138.0 481.8h1M123.8 491.8h1M123.5 485.4h1M125.0 488.5h1M123.6 483.9h1M137.1 476.4h1M127.2 478.1h1M142.9 485.6h1M123.3 486.3h1M126.3 486.2h1M138.5 480.9h1M127.7 478.6h1M137.9 486.3h1M125.1 490.0h1M132.6 479.8h1M142.7 488.3h1M131.1 481.6h1M129.7 478.6h1M129.0 484.2h1M128.3 475.0h1M142.2 492.4h1M138.0 475.7h1M140.8 479.5h1M135.3 482.2h1M139.2 481.3h1M139.6 475.0h1M126.9 486.3h1M143.3 486.8h1M141.3 487.6h1M132.4 475.9h1M140.6 481.9h1M142.0 485.3h1M135.4 478.4h1M125.2 479.6h1M126.7 483.7h1M123.7 491.0h1M142.5 481.5h1M122.7 485.6h1M124.4 492.6h1M142.7 477.3h1M126.8 486.9h1M127.0 485.4h1M142.6 488.7h1M136.2 475.5h1M136.4 482.4h1M142.9 485.0h1M127.7 483.7h1M138.9 483.9h1M122.1 493.9h1M133.9 480.7h1M135.7 482.4h1M125.2 483.1h1M140.2 486.3h1M125.7 486.5h1M133.9 481.9h1M141.0 488.1h1M136.2 478.2h1M139.9 484.8h1M138.6 481.1h1M135.1 483.5h1M128.6 475.0h1M129.5 481.9h1M124.4 488.8h1M124.6 492.1h1M132.5 482.6h1M122.5 493.7h1M134.4 484.3h1M131.4 479.5h1M124.2 486.8h1M123.0 486.5h1M136.3 484.3h1M133.3 477.3h1M142.2 491.0h1M140.8 482.9h1M129.7 481.6h1M127.3 482.1h1M140.3 482.3h1M137.0 481.8h1M131.5 476.9h1M134.7 476.5h1M125.1 480.2h1M129.6 478.5h1M129.4 476.1h1M137.6 479.2h1M143.6 482.3h1M140.8 479.9h1M137.9 483.0h1M128.0 485.1h1M139.0 485.5h1M124.2 490.7h1M138.0 478.0h1M123.3 486.8h1M135.5 485.2h1M129.3 484.0h1M132.3 474.7h1M124.4 493.4h1M131.0 480.4h1M137.8 481.8h1M140.5 481.7h1M126.9 485.2h1M140.9 485.1h1M133.9 484.6h1M135.8 477.6h1M125.8 480.1h1M131.9 479.0h1M124.2 483.5h1M140.7 478.1h1M131.4 482.1h1M132.5 482.3h1M131.1 480.2h1M125.1 493.6h1M142.3 482.2h1M125.3 486.1h1M125.9 482.7h1M140.4 487.8h1M142.1 485.7h1M129.3 484.6h1M137.4 476.5h1M135.7 482.0h1M138.4 483.9h1M128.3 476.9h1M139.9 481.0h1M130.0 478.0h1M137.4 479.2h1M131.8 486.1h1M128.5 476.0h1M129.8 485.3h1M140.0 479.1h1M127.7 483.3h1M141.0 479.0h1M133.6 476.3h1M132.5 483.6h1M126.0 478.2h1M128.3 487.0h1M129.7 480.7h1M142.7 478.6h1M123.6 489.4h1M144.2 482.6h1M132.5 477.8h1M128.3 482.3h1M141.6 476.8h1M140.6 487.9h1M137.1 477.7h1M130.3 476.2h1M129.5 484.6h1M139.7 479.3h1M123.3 484.7h1M136.8 480.7h1M123.1 490.2h1M144.1 490.3h1M130.3 484.7h1M120.8 485.3h1M128.5 478.3h1M131.5 477.8h1M135.8 482.4h1M129.3 485.7h1M136.6 483.0h1M122.5 490.5h1M125.9 491.1h1M124.3 493.7h1M139.5 475.3h1M140.7 481.4h1M138.8 478.2h1M135.7 474.7h1M129.6 484.0h1M132.8 475.5h1M132.7 481.1h1M133.2 482.0h1M130.0 480.9h1M124.0 491.5h1M140.3 486.0h1M121.9 522.0h1M122.4 532.5h1M120.9 508.8h1M122.8 516.0h1M123.2 516.4h1M121.9 515.4h1M121.8 528.8h1M123.6 507.1h1M121.5 520.7h1M122.1 507.0h1M123.3 530.3h1M122.8 499.0h1M122.1 527.4h1M122.8 516.0h1M122.7 515.2h1M122.9 512.8h1M120.8 512.3h1M122.0 506.8h1M121.7 520.9h1M122.4 530.8h1M123.5 507.1h1M121.9 528.3h1M121.5 523.3h1M121.5 504.7h1M121.3 524.9h1M122.1 511.6h1M122.9 497.7h1M121.5 513.3h1M122.4 496.1h1M122.0 530.8h1M122.1 510.5h1M121.7 524.1h1M122.0 529.4h1M121.6 511.1h1M121.9 527.6h1M122.2 535.8h1M123.8 518.5h1M122.7 511.6h1M122.8 516.9h1M123.2 496.0h1M123.1 510.7h1M123.0 509.7h1M122.1 501.7h1M122.2 526.2h1M121.0 515.2h1M122.5 500.1h1M121.7 528.7h1M122.5 532.7h1M122.2 513.0h1M122.2 521.7h1M121.9 533.5h1M122.8 508.9h1M123.1 514.5h1M122.0 517.3h1M123.1 523.7h1M123.9 507.9h1M121.9 528.1h1M122.3 497.1h1M122.8 517.9h1M122.5 528.9h1M122.4 512.2h1M121.3 528.4h1M121.6 523.9h1M122.1 531.0h1M123.0 500.1h1M123.4 502.3h1M122.8 506.4h1M122.8 503.4h1M122.1 529.1h1M123.2 503.7h1M121.8 523.0h1M122.0 505.0h1M123.1 499.8h1M120.7 520.5h1M122.9 519.8h1M123.0 513.6h1M121.9 502.1h1M122.5 493.5h1M121.9 524.9h1M122.7 518.8h1M123.5 509.8h1M122.0 513.4h1M123.7 507.8h1M122.5 519.6h1M122.4 514.1h1M121.8 528.6h1M122.6 531.5h1M122.6 522.2h1M122.1 508.3h1M122.0 523.4h1M122.5 528.9h1M121.4 516.1h1M122.6 529.9h1M122.2 520.3h1M122.3 502.4h1M123.3 509.9h1M122.3 500.0h1M121.8 518.2h1M123.6 506.1h1M123.5 510.5h1M121.0 523.5h1M122.7 516.6h1M122.8 528.1h1M121.7 503.3h1M122.1 533.3h1M122.7 499.1h1M122.8 505.7h1M121.3 528.3h1M122.4 502.6h1M121.8 526.2h1M123.0 494.2h1M122.0 518.7h1M122.4 526.5h1M122.2 530.8h1M122.6 515.0h1M121.9 513.4h1M123.1 497.8h1M121.5 514.0h1M122.5 525.5h1M122.3 529.7h1M123.1 505.4h1M121.3 516.2h1M122.6 503.2h1M122.3 509.2h1M122.4 532.7h1M123.3 516.5h1M122.4 523.5h1M123.0 518.9h1M123.5 518.5h1M121.2 517.8h1M121.7 527.8h1M122.6 523.7h1M122.2 533.8h1M122.8 507.0h1M122.7 513.9h1M123.1 506.3h1M122.3 511.4h1M121.7 520.8h1M123.3 500.3h1M122.3 528.2h1M122.0 524.4h1M122.4 532.2h1M124.0 512.3h1M122.1 533.7h1M121.9 523.7h1M122.7 510.1h1M121.8 508.9h1M121.7 525.3h1M122.7 508.3h1M122.6 505.1h1M122.8 496.3h1M122.3 524.1h1M123.2 505.2h1M122.8 506.0h1M121.8 519.1h1M123.5 514.8h1M121.6 518.9h1M122.7 528.2h1M123.3 524.1h1M122.8 504.4h1M122.0 523.3h1M120.8 513.6h1M122.6 497.4h1M122.8 502.0h1M122.7 499.4h1M122.4 499.1h1M123.5 509.8h1M122.8 524.3h1M122.6 506.3h1M123.0 528.1h1M121.7 520.9h1M123.0 525.8h1M122.4 505.4h1M122.9 524.5h1M122.0 525.9h1M122.3 514.4h1M123.1 513.7h1M123.0 514.5h1M122.3 508.3h1M122.1 514.2h1M121.5 531.4h1M121.6 526.4h1M123.5 497.3h1M122.9 494.5h1M122.9 499.5h1M121.9 524.0h1M121.8 527.6h1M123.5 515.9h1M123.3 511.1h1M123.1 502.3h1M121.3 503.7h1M122.7 520.9h1M121.8 535.2h1M123.1 513.4h1M122.1 506.0h1M122.5 493.2h1M122.7 510.9h1M121.6 523.8h1M122.8 516.3h1M122.5 516.4h1M122.6 497.8h1M122.1 525.5h1M123.0 511.8h1M122.8 506.0h1M122.8 511.6h1M122.0 521.5h1M123.3 512.6h1M122.4 521.5h1M122.5 513.6h1M122.8 524.2h1M122.4 521.8h1M122.5 518.2h1M122.2 519.5h1M122.5 514.3h1M122.3 521.6h1M123.3 500.3h1M122.7 524.5h1M122.0 518.0h1M122.1 523.1h1M122.8 497.9h1M121.2 521.4h1M121.7 519.2h1M122.4 506.9h1M122.4 533.2h1M123.8 514.3h1M122.1 531.7h1M122.4 518.1h1M121.9 511.2h1M121.6 505.1h1M122.4 506.0h1M121.8 510.2h1M122.3 521.8h1M123.3 498.7h1M122.6 528.4h1M121.7 509.5h1M122.6 508.6h1M123.1 499.1h1M121.6 507.8h1M122.2 517.4h1M121.8 507.6h1M122.8 510.2h1M122.2 533.5h1M122.0 524.2h1M122.8 513.3h1M122.2 514.9h1M122.6 499.0h1M122.1 521.9h1M122.4 504.6h1M122.2 507.9h1M123.0 494.8h1M122.0 509.8h1M122.1 531.2h1M122.5 514.1h1M122.9 512.9h1M122.1 520.2h1M122.7 517.0h1M122.7 507.1h1M122.3 522.4h1M122.7 530.4h1M122.5 523.6h1M122.8 497.0h1M122.8 512.1h1M122.5 499.1h1M122.9 503.9h1M121.8 523.9h1M121.5 529.6h1M122.2 532.5h1M121.4 519.8h1M123.0 509.4h1M120.8 508.5h1M123.9 506.1h1M122.3 520.1h1M122.0 533.1h1M122.3 522.1h1M121.4 504.0h1M123.6 508.9h1M120.7 518.9h1M122.1 508.2h1M121.8 502.7h1M122.7 498.3h1M121.7 530.9h1M121.3 522.3h1M122.0 507.7h1M122.4 508.5h1M122.9 519.3h1M121.7 509.3h1M123.1 498.8h1M122.2 523.4h1M123.3 508.2h1M122.3 523.8h1M122.3 520.3h1M123.3 519.7h1M121.8 516.2h1M122.3 505.3h1M122.6 528.9h1M121.9 526.7h1M122.6 503.6h1M121.3 520.5h1M122.9 527.4h1M123.1 502.5h1M122.0 525.6h1M123.7 500.2h1M122.4 534.3h1M120.9 518.5h1M122.8 498.4h1M123.2 506.0h1M122.5 514.5h1M123.5 502.6h1M123.6 508.5h1M121.1 528.9h1M121.6 523.3h1M122.9 494.5h1M122.6 532.6h1M122.0 529.7h1M121.4 529.8h1M121.6 517.5h1M120.7 521.5h1M122.2 523.1h1M122.1 521.9h1M121.6 534.5h1M121.2 521.1h1M122.4 532.5h1M121.7 525.9h1M123.4 505.0h1M122.7 503.8h1M122.7 494.0h1M122.3 534.2h1M122.0 525.0h1M122.8 496.6h1M123.9 514.9h1M123.0 517.7h1M121.5 508.0h1M122.3 513.3h1M120.7 516.5h1M122.0 510.9h1M123.2 519.6h1M123.5 516.9h1M122.6 498.1h1M122.1 506.2h1M123.5 511.2h1M122.3 510.6h1M122.6 494.6h1M122.4 510.6h1M122.2 533.0h1M121.7 516.5h1M122.5 502.5h1M122.5 498.7h1M123.4 517.3h1M122.2 533.6h1M122.1 504.9h1M121.9 516.9h1M122.6 510.1h1M122.6 497.3h1M123.1 499.4h1M120.8 511.7h1M121.8 512.9h1M123.1 523.8h1M121.8 503.0h1M122.8 495.9h1M121.2 531.6h1M122.0 518.7h1M122.9 512.1h1M122.9 529.1h1M123.1 501.6h1M120.8 519.4h1M121.8 521.2h1M121.7 522.0h1M121.4 522.7h1M122.0 512.3h1M122.2 529.8h1M121.9 500.6h1M121.7 521.8h1M121.2 521.1h1M121.4 505.3h1M123.0 508.9h1M122.0 522.4h1M122.5 530.9h1M122.2 522.3h1M122.4 499.4h1M123.4 495.9h1M122.8 497.2h1M121.2 504.7h1M121.5 516.2h1M122.4 495.8h1M122.9 516.5h1M122.5 512.8h1M122.5 521.8h1M121.6 518.2h1M122.1 529.2h1M123.5 507.0h1M122.9 502.3h1M121.4 508.7h1M122.2 532.1h1M123.4 516.2h1M123.7 521.7h1M121.0 527.5h1M122.0 519.4h1M122.2 531.5h1M122.0 507.5h1M121.9 519.3h1M121.3 529.7h1M121.9 528.5h1M122.6 518.6h1M122.6 496.7h1M123.1 494.6h1M122.5 497.3h1M123.1 504.0h1M122.2 531.0h1M121.7 522.0h1M122.7 519.5h1M122.7 505.7h1M122.0 527.9h1M120.8 521.9h1M123.6 523.2h1M123.3 506.2h1M122.7 512.8h1M122.6 531.6h1M121.0 515.5h1M122.5 526.5h1M123.0 512.2h1M122.7 519.3h1M122.5 528.9h1M121.3 516.2h1M122.7 517.0h1M122.8 498.4h1M122.2 501.3h1M122.1 528.5h1M122.4 527.4h1M122.4 529.9h1M123.0 519.1h1M122.4 518.5h1M122.2 533.2h1M122.7 499.7h1M122.7 501.9h1M122.9 500.1h1M121.6 507.7h1M122.0 532.1h1M122.4 506.6h1M122.7 508.0h1M122.5 506.9h1M121.2 526.9h1M122.5 526.8h1M121.8 533.8h1M121.7 515.6h1M122.7 511.2h1M123.0 510.9h1M122.7 504.3h1M122.9 498.1h1M122.1 535.1h1M122.7 519.4h1M122.3 519.4h1M121.8 504.7h1M122.6 500.0h1M121.8 523.1h1M122.3 527.7h1M122.4 514.3h1M121.9 528.6h1M121.1 512.9h1M122.9 531.1h1M120.8 513.3h1M122.0 500.7h1M123.0 505.4h1M122.2 513.5h1M122.7 495.9h1M122.4 517.2h1M122.7 518.0h1M121.2 511.7h1M121.6 526.3h1M122.9 513.5h1M123.1 524.9h1M122.2 533.7h1M123.5 498.3h1M121.8 500.2h1M122.4 521.3h1M122.4 528.5h1M123.3 504.1h1M121.1 521.5h1M121.9 522.9h1M121.1 516.5h1M122.1 497.8h1M141.5 515.8h1M140.8 524.5h1M141.8 513.2h1M141.1 518.2h1M139.9 517.7h1M140.3 508.6h1M142.2 514.0h1M141.2 507.8h1M141.1 511.7h1M140.8 525.3h1M140.4 516.5h1M139.6 517.2h1M141.5 513.0h1M140.4 505.4h1M139.8 519.3h1M140.4 515.5h1M141.1 521.7h1M139.9 519.7h1M140.4 519.3h1M141.0 511.6h1M140.0 507.6h1M140.5 515.2h1M139.0 513.8h1M142.5 509.3h1M140.4 515.1h1M140.8 509.1h1M140.5 519.2h1M140.9 517.0h1M141.2 520.1h1M141.1 514.9h1M139.7 510.9h1M141.6 514.9h1M141.4 515.4h1M140.0 515.3h1M140.7 505.5h1M142.0 507.5h1M141.3 523.5h1M141.0 508.8h1M141.5 521.4h1M141.1 504.3h1M140.8 525.1h1M141.2 506.1h1M142.0 507.5h1M141.3 514.5h1M140.5 520.1h1M140.8 520.5h1M140.7 523.3h1M142.8 513.5h1M142.0 517.5h1M140.6 509.3h1M140.3 524.6h1M140.8 520.6h1M141.3 508.4h1M141.4 513.6h1M141.8 505.3h1M140.6 518.5h1M140.8 524.9h1M141.8 519.7h1M139.4 517.1h1M140.9 505.9h1M141.9 516.4h1M141.4 517.5h1M140.9 520.8h1M140.4 508.4h1M140.7 523.3h1M141.4 523.2h1M140.6 509.9h1M139.9 518.9h1M141.4 511.7h1M140.3 506.9h1M139.7 516.3h1M140.7 523.6h1M140.6 513.6h1M142.0 510.7h1M140.6 510.3h1M140.0 505.7h1M141.6 518.4h1M141.3 510.1h1M140.4 524.2h1M140.3 506.2h1M141.7 524.2h1M141.4 517.9h1M140.8 506.6h1M141.9 510.5h1M140.2 519.0h1M140.9 510.2h1M140.8 508.2h1M140.5 516.4h1M140.9 524.6h1M138.6 520.1h1M140.4 520.3h1M140.9 504.9h1M141.2 504.9h1M139.7 510.3h1M140.5 515.2h1M140.3 508.5h1M141.7 518.7h1M140.7 518.9h1M141.7 517.7h1M139.1 512.7h1M141.3 524.5h1M141.0 514.8h1M139.7 514.6h1M141.3 510.2h1M142.3 517.0h1M141.3 522.9h1M140.7 514.3h1M140.7 516.5h1M141.3 521.1h1M140.3 518.4h1M142.1 516.1h1M141.3 506.3h1M141.3 506.7h1M140.3 508.3h1M140.1 505.8h1M141.6 508.5h1M141.0 516.3h1M140.5 505.7h1M141.4 515.3h1M141.7 517.6h1M141.3 506.5h1M140.4 515.3h1M140.0 508.6h1M141.3 519.1h1M142.6 518.9h1M141.3 521.4h1M141.4 522.3h1M140.5 521.1h1M140.8 509.9h1M139.8 518.6h1M142.4 511.4h1M142.0 518.4h1M141.1 519.0h1M139.9 516.0h1M140.8 518.7h1M140.9 513.6h1M141.5 510.8h1M140.5 518.9h1M141.0 514.5h1M141.6 517.5h1M141.0 521.5h1M142.1 514.8h1M140.1 516.5h1M140.0 520.8h1M141.3 512.5h1M141.7 513.7h1M142.0 517.0h1M140.4 523.1h1M140.5 514.9h1M140.9 522.5h1M139.6 516.4h1M140.3 517.3h1M140.7 521.3h1M141.1 507.3h1M140.5 507.8h1M141.0 524.6h1M140.1 516.9h1M139.8 511.4h1M140.9 516.1h1M140.2 508.5h1M140.5 524.7h1M140.9 521.7h1M140.5 520.7h1M141.1 506.9h1M141.8 513.7h1M140.6 506.1h1M140.4 514.4h1M140.9 515.7h1M141.1 516.2h1M140.8 515.4h1M140.4 522.2h1M140.8 520.4h1M140.7 517.3h1M140.5 508.7h1M140.8 511.5h1M140.3 520.1h1M141.0 512.6h1M140.2 521.4h1M140.8 525.2h1M142.3 511.2h1M139.5 518.1h1M141.1 515.3h1M139.7 518.3h1M140.8 515.8h1M140.1 516.4h1M140.6 507.0h1M141.1 507.4h1M141.0 504.2h1M140.7 518.2h1M140.9 521.4h1M141.6 507.4h1M140.8 512.0h1M140.9 521.0h1M141.3 514.4h1M140.4 518.1h1M141.8 518.0h1M140.4 510.1h1M140.9 518.9h1M141.6 510.2h1M140.5 516.4h1M141.2 520.3h1M140.4 512.4h1M140.9 504.6h1M139.1 518.0h1M141.5 519.6h1M141.8 511.3h1M141.8 518.1h1M142.0 507.8h1M141.3 520.7h1M140.8 506.2h1M141.9 508.3h1M142.0 520.1h1M140.6 523.4h1M139.5 514.0h1M141.1 512.1h1M142.2 516.0h1M140.3 508.2h1M142.2 513.5h1M141.4 516.7h1M142.3 513.3h1M140.6 522.7h1M140.9 523.2h1M140.5 511.6h1M140.8 512.3h1M140.8 519.9h1M140.3 516.9h1M140.1 521.4h1M141.2 508.5h1M141.4 516.0h1M140.4 509.2h1M139.1 512.0h1M139.7 512.3h1M139.8 515.2h1M141.4 515.4h1M141.4 514.4h1M140.8 507.0h1M141.4 508.3h1M140.9 507.5h1M141.5 509.6h1M140.1 522.3h1M140.5 511.4h1M140.7 512.2h1M139.8 518.6h1M141.7 513.1h1M141.8 515.1h1M139.3 516.9h1M142.3 511.0h1M140.0 513.6h1M141.0 518.0h1M140.6 521.0h1M140.2 516.2h1M140.7 510.1h1M142.2 518.4h1M140.4 518.8h1M140.6 517.3h1M141.6 508.3h1M141.1 511.2h1M140.4 506.7h1M140.7 511.4h1M140.1 509.4h1M140.8 522.3h1M139.5 509.2h1M140.6 509.7h1M142.7 520.4h1M140.6 515.2h1M140.9 505.1h1M140.3 516.4h1M141.6 513.8h1M140.9 518.5h1M142.3 516.3h1M141.4 512.1h1M140.7 509.7h1M141.0 511.4h1M142.8 513.9h1M141.2 517.5h1M140.7 514.3h1M139.7 521.4h1M139.4 512.8h1M141.8 509.9h1M140.9 518.8h1M139.7 518.3h1M140.9 506.4h1M140.1 513.8h1M140.1 516.4h1M139.5 515.1h1M141.5 518.7h1M140.3 516.0h1M139.7 511.0h1M140.4 512.4h1M141.8 517.3h1M139.3 520.1h1M140.4 522.8h1M142.3 514.1h1M141.2 524.2h1M141.5 516.9h1M140.0 507.2h1M140.9 509.2h1M140.4 522.0h1M140.5 512.6h1M141.3 516.9h1M141.1 504.2h1M141.1 498.8h1M140.8 499.1h1M141.0 504.5h1M141.5 499.5h1M142.2 496.7h1M140.9 503.8h1M141.4 499.3h1M141.1 501.3h1M141.7 504.0h1M141.7 494.6h1M139.4 503.6h1M140.8 503.1h1M142.6 494.3h1M143.0 497.9h1M140.7 503.0h1M143.1 503.6h1M141.7 506.7h1M140.2 501.3h1M141.1 506.3h1M142.3 505.3h1M142.4 504.5h1M141.4 506.3h1M141.1 505.6h1M140.1 500.2h1M141.1 498.7h1M140.0 497.3h1M141.4 498.8h1M141.2 499.4h1M141.4 496.8h1M142.4 500.0h1M140.7 497.4h1M139.8 499.4h1M140.2 494.7h1M142.1 504.3h1M140.3 501.2h1M141.9 498.3h1M140.6 500.2h1M142.5 504.5h1M141.1 503.1h1M140.5 497.1h1M142.6 506.1h1M142.3 495.5h1M140.6 498.4h1M141.4 500.1h1" stroke="#000" stroke-width="1" fill="none"/>
<line x1="163.7" y1="493.4" x2="205.5" y2="493.4" stroke="#666" stroke-width="1"/>
<line x1="185.2" y1="493.4" x2="185.2" y2="541.4" stroke="#666" stroke-width="1"/>
<path d="M173.7 517.8h1M173.7 524.3h1M172.8 505.1h1M172.9 508.8h1M172.8 512.0h1M173.0 498.0h1M173.1 500.7h1M173.7 504.0h1M174.2 528.7h1M172.1 514.7h1M174.1 521.7h1M173.1 500.9h1M172.8 505.6h1M173.3 498.9h1M174.0 520.1h1M172.4 514.8h1M173.4 502.1h1M174.8 505.6h1M172.5 511.0h1M171.9 518.2h1M172.3 509.4h1M173.2 505.6h1M174.3 511.0h1M173.5 527.1h1M173.5 500.4h1M173.1 505.6h1M173.6 531.4h1M174.8 517.2h1M171.5 514.9h1M172.3 517.8h1M172.1 500.4h1M173.4 511.8h1M173.1 497.1h1M173.0 518.8h1M173.4 518.6h1M172.2 513.6h1M173.5 516.5h1M173.0 511.2h1M173.2 501.5h1M173.2 513.0h1M174.2 505.4h1M173.3 520.4h1M174.1 518.0h1M171.8 522.8h1M172.7 506.3h1M174.2 517.5h1M173.3 523.5h1M173.3 530.1h1M173.6 520.0h1M173.5 524.3h1M173.8 502.4h1M174.6 504.6h1M172.3 511.0h1M172.0 526.1h1M172.7 516.0h1M172.8 528.0h1M171.1 522.9h1M173.4 520.7h1M172.0 508.2h1M172.4 523.6h1M173.0 503.1h1M173.0 511.3h1M172.7 512.1h1M172.7 531.0h1M172.8 514.4h1M171.4 523.4h1M174.8 505.4h1M173.2 523.3h1M174.1 526.1h1M173.0 530.9h1M173.3 496.6h1M172.9 519.4h1M174.8 517.9h1M171.7 518.9h1M174.5 525.0h1M173.9 508.9h1M174.3 520.3h1M172.0 503.9h1M171.8 503.7h1M173.1 500.1h1M172.7 508.4h1M173.3 525.0h1M172.8 498.6h1M173.3 523.8h1M172.7 512.2h1M170.7 515.8h1M172.3 523.8h1M172.8 512.8h1M174.2 516.3h1M174.7 502.9h1M170.8 514.0h1M173.5 505.5h1M174.4 525.2h1M171.8 514.1h1M173.4 508.4h1M172.0 507.6h1M173.1 520.3h1M172.7 501.5h1M172.1 514.2h1M171.8 502.1h1M173.2 500.9h1M173.8 501.5h1M171.7 529.7h1M172.1 527.3h1M173.2 511.1h1M171.5 505.1h1M171.4 526.5h1M172.8 521.6h1M175.2 508.9h1M172.3 522.9h1M172.7 514.2h1M173.0 503.0h1M172.7 519.3h1M174.4 520.8h1M172.8 519.5h1M174.6 516.0h1M173.2 521.1h1M172.7 508.1h1M173.8 521.8h1M172.9 530.6h1M173.8 529.2h1M172.6 500.2h1M174.8 515.1h1M171.7 515.7h1M173.3 506.9h1M171.4 520.9h1M174.4 524.2h1M173.1 533.0h1M172.7 527.6h1M173.2 522.7h1M172.4 520.9h1M173.8 525.4h1M173.2 502.0h1M172.9 516.5h1M172.5 528.1h1M175.2 509.3h1M173.5 505.6h1M173.0 514.0h1M172.7 511.9h1M172.2 513.3h1M174.1 502.3h1M173.2 519.7h1M173.1 527.9h1M174.0 523.7h1M173.8 511.3h1M173.0 523.8h1M173.6 524.8h1M174.2 526.7h1M174.1 501.1h1M173.3 517.6h1M174.1 511.2h1M171.4 523.9h1M171.9 518.0h1M173.7 512.6h1M171.9 510.2h1M173.6 521.5h1M172.5 522.9h1M173.0 510.8h1M173.4 517.5h1M171.9 515.4h1M172.9 531.1h1M173.9 528.8h1M172.1 505.9h1M173.7 523.2h1M172.3 525.9h1M173.6 520.6h1M173.0 517.8h1M173.2 515.8h1M174.9 523.5h1M174.6 514.0h1M173.3 524.5h1M172.0 514.7h1M174.2 514.2h1M173.4 506.7h1M172.0 524.1h1M172.3 525.1h1M173.7 498.9h1M172.3 502.6h1M173.4 519.7h1M173.2 500.5h1M173.0 508.0h1M173.2 521.5h1M172.9 516.7h1M174.2 519.5h1M172.0 506.2h1M173.1 528.4h1M173.7 518.5h1M172.7 510.6h1M171.4 509.3h1M174.4 518.8h1M174.0 524.8h1M172.1 529.6h1M172.2 498.5h1M174.7 518.7h1M172.2 519.6h1M173.6 509.7h1M173.6 504.5h1M173.0 507.9h1M171.5 527.1h1M172.3 510.6h1M173.1 521.9h1M173.1 531.5h1M172.1 525.2h1M174.0 504.8h1M172.7 521.7h1M172.3 511.4h1M172.2 505.8h1M172.7 514.0h1M172.4 498.8h1M172.9 502.4h1M172.5 532.4h1M174.3 513.7h1M172.5 525.4h1M172.0 518.5h1M172.0 515.7h1M173.6 499.9h1M172.9 518.8h1M173.8 507.3h1M172.2 522.9h1M174.5 515.8h1M171.0 513.8h1M174.6 526.7h1M171.7 514.4h1M172.6 527.1h1M172.9 513.3h1M174.2 513.6h1M172.5 526.5h1M171.0 508.8h1M173.0 517.1h1M173.5 506.0h1M171.8 501.7h1M171.9 509.5h1M173.5 502.9h1M172.2 510.6h1M172.4 500.0h1M174.2 513.3h1M172.6 529.1h1M171.7 504.5h1M173.6 506.8h1M172.1 515.0h1M171.5 508.4h1M174.1 518.1h1M172.6 516.7h1M173.7 527.3h1M172.4 511.1h1M171.4 512.6h1M172.2 508.1h1M172.8 517.4h1M172.4 528.8h1M174.9 509.6h1M173.5 509.2h1M172.2 512.8h1M172.6 526.2h1M173.6 532.5h1M173.3 496.7h1M173.7 501.7h1M172.1 507.6h1M173.2 501.0h1M174.1 524.7h1M174.4 508.1h1M171.9 509.2h1M173.1 506.1h1M173.5 509.3h1M172.8 522.8h1M170.8 511.7h1M172.6 530.8h1M172.9 518.9h1M173.0 531.7h1M173.4 520.2h1M172.9 526.2h1M172.4 530.2h1M172.7 522.4h1M172.7 511.7h1M173.0 510.4h1M172.6 509.6h1M173.4 498.4h1M172.7 518.9h1M171.4 517.2h1M172.0 502.1h1M173.6 514.3h1M173.8 502.7h1M173.1 531.3h1M174.2 500.4h1M174.6 516.0h1M174.0 502.8h1M173.2 511.3h1M172.7 527.8h1M174.2 507.5h1M171.6 508.2h1M172.5 506.7h1M171.2 512.5h1M173.0 515.3h1M170.8 513.8h1M172.7 526.9h1M173.2 529.0h1M173.2 523.3h1M173.1 506.4h1M175.2 519.5h1M173.1 524.5h1M172.6 509.1h1M172.4 524.5h1M172.8 504.9h1M174.6 514.0h1M175.3 516.6h1M173.4 505.5h1M173.2 505.0h1M173.5 498.2h1M173.9 519.4h1M173.3 497.5h1M172.9 498.5h1M172.4 510.4h1M172.8 528.8h1M172.3 510.0h1M173.0 517.2h1M173.8 498.5h1M174.4 518.4h1M173.2 512.9h1M173.5 525.5h1M174.3 513.7h1M171.9 516.7h1M172.5 508.4h1M172.6 521.8h1M171.1 515.0h1M173.8 498.8h1M172.4 511.5h1M172.7 530.3h1M171.9 516.6h1M174.9 511.9h1M171.4 515.7h1M173.2 497.7h1M172.7 523.9h1M174.4 511.3h1M172.4 500.2h1M172.8 522.0h1M172.2 531.5h1M172.2 525.3h1M173.0 501.4h1M173.2 504.6h1M174.4 510.9h1M172.6 511.1h1M174.6 503.6h1M172.4 529.3h1M174.8 503.8h1M173.8 509.1h1M174.3 516.7h1M173.6 531.2h1M174.1 505.3h1M174.4 508.1h1M172.0 508.9h1M173.0 503.3h1M173.2 527.4h1M171.2 524.7h1M172.1 530.4h1M172.4 521.9h1M173.1 514.3h1M173.6 530.0h1M172.3 499.6h1M174.8 506.6h1M171.5 509.2h1M173.4 522.2h1M172.6 524.3h1M173.5 509.9h1M174.3 526.7h1M172.2 526.0h1M173.9 502.2h1M173.3 502.5h1M172.6 512.6h1M173.6 506.3h1M172.0 513.7h1M173.7 531.0h1M173.3 506.1h1M172.6 512.1h1M174.4 503.2h1M174.3 526.3h1M172.6 516.3h1M173.1 504.3h1M171.2 519.6h1M172.9 506.3h1M172.3 512.0h1M173.6 528.1h1M172.6 526.3h1M172.4 528.2h1M174.0 502.1h1M173.4 516.3h1M172.0 526.5h1M172.7 504.2h1M174.4 526.4h1M173.4 506.9h1M173.2 526.5h1M173.2 510.3h1M172.2 506.3h1M173.2 509.9h1M173.2 509.2h1M173.8 503.5h1M173.7 515.9h1M173.3 521.9h1M173.5 503.0h1M172.2 507.4h1M171.8 529.2h1M173.7 505.7h1M171.9 521.7h1M173.3 533.3h1M173.6 514.3h1M171.9 500.5h1M173.2 497.6h1M172.8 504.2h1M173.3 500.7h1M173.4 523.7h1M174.1 508.6h1M171.7 511.6h1M173.8 500.4h1M172.6 529.9h1M173.1 507.0h1M176.9 517.6h1M173.7 521.0h1M173.4 513.4h1M173.8 523.7h1M174.1 516.4h1M171.7 511.6h1M175.2 517.1h1M172.0 509.8h1M171.3 522.1h1M170.8 513.6h1M172.7 529.6h1M173.2 516.0h1M172.5 530.3h1M173.8 513.2h1M172.9 510.8h1M172.6 518.2h1M173.5 530.9h1M173.2 530.4h1M172.3 516.5h1M173.6 522.1h1M173.2 521.5h1M173.7 507.6h1M175.0 513.7h1M172.1 518.5h1M172.1 509.4h1M172.5 533.4h1M172.7 527.4h1M173.9 514.9h1M173.3 523.5h1M175.3 515.4h1M172.4 506.3h1M172.9 526.7h1M172.7 521.7h1M172.4 521.9h1M173.0 517.2h1M174.8 520.8h1M172.3 526.7h1M173.0 511.3h1M173.1 506.3h1M173.8 501.8h1M173.7 506.7h1M174.5 512.7h1M174.5 501.1h1M172.4 506.8h1M172.4 505.3h1M173.2 523.5h1M173.3 521.0h1M173.7 512.1h1M174.2 519.0h1M172.2 518.8h1M173.1 504.6h1M173.5 513.6h1M173.8 509.9h1M171.4 505.2h1M173.6 515.8h1M172.7 514.5h1M172.1 518.9h1M172.0 523.7h1M174.7 511.6h1M172.7 503.3h1M171.5 505.5h1M172.0 517.6h1M173.3 502.0h1M173.2 531.4h1M172.7 530.2h1M174.2 515.5h1M174.0 501.2h1M171.1 506.9h1M173.2 524.4h1M174.5 504.7h1M172.8 527.5h1M172.6 518.4h1M176.2 527.7h1M171.6 520.2h1M172.3 527.5h1M171.9 505.0h1M173.6 528.8h1M174.2 520.9h1M175.2 519.4h1M171.8 505.2h1M171.7 519.4h1M173.4 514.3h1M174.1 504.7h1M173.2 519.9h1M171.6 516.2h1M173.2 510.5h1M172.9 518.5h1M172.8 526.7h1M175.3 516.2h1M173.4 523.5h1M172.2 502.2h1M172.5 524.3h1M173.0 508.6h1M171.6 517.7h1M172.1 502.0h1M172.2 515.9h1M172.0 514.2h1M172.8 522.1h1M172.2 508.9h1M172.9 516.3h1M173.8 507.1h1M175.1 520.7h1M174.0 519.7h1M174.8 522.4h1M173.2 528.7h1M173.2 521.6h1M173.5 509.3h1M173.3 525.5h1M175.1 528.4h1M173.2 522.7h1M173.9 526.4h1M173.0 502.0h1M171.9 505.4h1M173.1 529.4h1M172.4 520.7h1M174.8 508.4h1M173.1 526.5h1M174.0 523.4h1M173.1 514.8h1M173.7 525.5h1M171.9 516.6h1M173.0 521.0h1M173.5 503.9h1M173.2 502.0h1M173.3 518.2h1M173.8 515.8h1M174.3 508.8h1M173.2 508.1h1M171.4 515.0h1M173.6 515.0h1M172.7 501.1h1M173.2 500.9h1M173.1 499.9h1M171.9 510.6h1M172.2 500.1h1M173.6 507.6h1M173.2 520.1h1M173.4 510.3h1M172.6 500.2h1M172.5 532.9h1M172.5 527.8h1M172.2 521.9h1M173.5 531.5h1M171.5 509.4h1M173.8 508.0h1M173.5 503.4h1M172.7 521.9h1" stroke="#000" stroke-width="1" fill="none"/>
<path d="M192.0 501.6h0.9M191.8 515.7h0.9M189.6 510.0h0.9M192.6 510.5h0.9M192.0 506.8h0.9M192.9 507.3h0.9M190.9 517.2h0.9M189.8 518.5h0.9M191.3 502.2h0.9M188.5 508.1h0.9M191.8 505.5h0.9M190.5 498.0h0.9M190.7 518.3h0.9M191.2 514.8h0.9M190.4 496.6h0.9M189.1 504.4h0.9M190.4 511.7h0.9M191.7 510.9h0.9M191.5 499.0h0.9M190.7 511.7h0.9M189.7 502.9h0.9M191.4 514.7h0.9M191.6 513.1h0.9M191.9 501.0h0.9M192.1 518.8h0.9M189.6 512.6h0.9M191.3 496.9h0.9M191.7 502.8h0.9M191.8 502.5h0.9M190.4 501.9h0.9M191.3 508.2h0.9M193.0 510.4h0.9M191.3 505.7h0.9M193.0 506.3h0.9M190.8 510.6h0.9M191.1 503.5h0.9M190.5 506.5h0.9M197.5 503.2h0.9M189.8 508.2h0.9M190.8 504.3h0.9M191.6 505.5h0.9M190.8 500.2h0.9M192.2 498.8h0.9M190.0 514.4h0.9M191.7 502.0h0.9M191.2 495.4h0.9M191.0 497.8h0.9M190.4 501.8h0.9M190.8 501.5h0.9M191.7 515.5h0.9M191.6 504.5h0.9M190.5 499.1h0.9M191.6 517.0h0.9M189.9 503.9h0.9M190.1 506.4h0.9M191.0 521.3h0.9M190.4 506.4h0.9M190.2 499.4h0.9M192.1 504.8h0.9M191.3 502.5h0.9M191.6 506.1h0.9M189.7 507.0h0.9M190.8 497.1h0.9M191.9 513.0h0.9M192.3 498.1h0.9M191.8 513.0h0.9M191.5 496.6h0.9M191.7 504.8h0.9M191.4 499.4h0.9M189.6 502.7h0.9M190.5 507.7h0.9M189.8 513.8h0.9M190.9 517.4h0.9M191.2 499.4h0.9M189.2 507.0h0.9M191.0 519.8h0.9M192.0 506.7h0.9M190.3 507.2h0.9M191.1 510.5h0.9M191.2 517.7h0.9M190.9 501.7h0.9M192.8 504.3h0.9M191.4 518.2h0.9M192.1 517.1h0.9M190.7 504.5h0.9M191.0 509.2h0.9M191.2 516.6h0.9M191.5 498.5h0.9M192.1 520.3h0.9M191.8 506.1h0.9M191.3 504.0h0.9M192.4 502.3h0.9M192.7 506.0h0.9M191.9 508.7h0.9M192.1 504.4h0.9M188.5 510.9h0.9M190.7 498.6h0.9M190.9 502.5h0.9M190.6 508.1h0.9M193.5 509.6h0.9M191.1 519.6h0.9M189.7 508.3h0.9M192.6 501.5h0.9M190.4 516.5h0.9M191.6 515.4h0.9M191.9 516.1h0.9M191.3 497.6h0.9M191.2 521.7h0.9M192.4 499.3h0.9M190.5 499.0h0.9M191.4 519.3h0.9M190.8 509.4h0.9M192.5 508.3h0.9M189.0 506.8h0.9M191.5 516.8h0.9M191.0 504.9h0.9M190.2 506.6h0.9M191.5 501.1h0.9M191.6 499.3h0.9M189.7 501.8h0.9M191.5 514.1h0.9M191.6 508.0h0.9M192.0 500.5h0.9M188.6 501.8h0.9M191.5 497.3h0.9M189.9 513.3h0.9M190.1 502.2h0.9M192.6 501.9h0.9M192.3 519.0h0.9M191.7 517.2h0.9M190.6 500.7h0.9M191.0 496.7h0.9M191.5 511.5h0.9M190.4 499.3h0.9M191.4 505.5h0.9M191.7 498.5h0.9M190.2 508.5h0.9M191.4 515.2h0.9M191.2 503.1h0.9M190.3 510.4h0.9M191.6 521.6h0.9M189.7 501.6h0.9M192.1 515.5h0.9M190.1 508.9h0.9M188.6 510.5h0.9M191.1 499.5h0.9M192.1 505.1h0.9M191.0 498.5h0.9M191.5 515.6h0.9M191.4 501.5h0.9" stroke="#222" stroke-width="0.9" fill="none"/>
<path d="M180.8 470.9h0.9M176.2 490.0h0.9M186.0 476.5h0.9M175.9 481.3h0.9M178.9 474.3h0.9M175.8 485.9h0.9M175.9 478.7h0.9M181.4 477.9h0.9M180.7 475.7h0.9M173.8 493.8h0.9M178.6 472.7h0.9M187.8 479.6h0.9M184.5 473.2h0.9M188.5 473.9h0.9M178.8 472.5h0.9M187.7 479.2h0.9M179.0 476.9h0.9M185.9 475.2h0.9M174.9 481.9h0.9M180.2 472.9h0.9M190.4 480.6h0.9M178.0 478.6h0.9M178.7 472.1h0.9M187.2 480.2h0.9M188.7 478.8h0.9M191.4 482.2h0.9M183.5 472.9h0.9M184.3 470.3h0.9M184.6 469.1h0.9M175.6 481.5h0.9M181.0 473.6h0.9M183.6 471.6h0.9M188.7 473.5h0.9M182.3 476.6h0.9M175.4 480.7h0.9M175.0 491.8h0.9M178.1 474.5h0.9M173.9 489.3h0.9M181.2 473.1h0.9M186.7 473.5h0.9M178.8 475.9h0.9M175.2 476.3h0.9M189.6 481.0h0.9M189.1 476.3h0.9M188.2 479.0h0.9M179.3 477.2h0.9M180.0 475.2h0.9M186.3 472.5h0.9M186.9 473.7h0.9M176.9 480.3h0.9M188.4 472.2h0.9M190.1 481.8h0.9M189.2 489.7h0.9M176.9 475.1h0.9M187.1 471.5h0.9M173.8 484.3h0.9M183.3 469.7h0.9M174.6 484.8h0.9M183.3 474.4h0.9M190.6 491.3h0.9M172.9 486.8h0.9M177.2 474.4h0.9M189.0 483.0h0.9M190.6 482.6h0.9M178.0 478.1h0.9M178.4 476.2h0.9M191.3 477.0h0.9M178.4 478.4h0.9M188.7 475.2h0.9M179.3 479.4h0.9M191.2 492.4h0.9M189.0 478.8h0.9M174.6 489.2h0.9M178.1 478.8h0.9M183.9 469.9h0.9M178.8 479.8h0.9M187.3 478.0h0.9M191.5 488.1h0.9M190.0 475.8h0.9M174.9 491.6h0.9M188.1 474.8h0.9M173.4 490.3h0.9M188.5 475.4h0.9M187.3 472.9h0.9M177.2 474.7h0.9M189.5 477.8h0.9M190.2 480.1h0.9M183.7 474.9h0.9M191.0 488.4h0.9M175.3 490.8h0.9M176.5 476.9h0.9M174.5 488.1h0.9M176.1 489.2h0.9M173.9 489.7h0.9M187.3 477.4h0.9M188.3 484.0h0.9M187.6 472.4h0.9M173.5 492.6h0.9M180.3 476.8h0.9M186.9 474.8h0.9M175.4 484.1h0.9M187.4 477.7h0.9M183.0 477.4h0.9M190.3 487.6h0.9M173.4 491.9h0.9M176.2 478.2h0.9M189.2 475.2h0.9M175.1 486.7h0.9M173.7 485.2h0.9M177.6 476.7h0.9M184.8 474.5h0.9M183.4 471.6h0.9M190.6 486.0h0.9M179.4 479.4h0.9M187.8 474.7h0.9M180.6 473.4h0.9M177.9 474.8h0.9M175.8 485.1h0.9M184.4 469.5h0.9M182.3 472.1h0.9M180.2 476.5h0.9M176.4 481.3h0.9M181.8 473.5h0.9M175.6 479.9h0.9M187.8 476.5h0.9M179.9 477.5h0.9M177.5 475.0h0.9M190.7 487.2h0.9M191.1 484.8h0.9M177.3 477.4h0.9M186.2 478.6h0.9M175.0 482.3h0.9M176.3 487.9h0.9M184.0 469.5h0.9M188.8 472.6h0.9M176.0 475.5h0.9M180.4 473.7h0.9M186.0 473.4h0.9M189.0 475.6h0.9M191.5 478.7h0.9M176.9 481.0h0.9M191.5 486.3h0.9M188.5 486.9h0.9M191.5 485.5h0.9M184.5 475.9h0.9M188.1 470.3h0.9M176.6 478.4h0.9M173.6 493.0h0.9M185.2 471.4h0.9M177.8 474.4h0.9" stroke="#444" stroke-width="0.9" fill="none"/>
<path d="M181.5 475.9h0.9M187.2 473.9h0.9M180.5 474.7h0.9M181.6 473.5h0.9M179.7 474.4h0.9M181.4 475.3h0.9M178.3 478.5h0.9M186.8 472.7h0.9M182.2 472.6h0.9M180.8 471.4h0.9M188.0 476.3h0.9M184.5 471.3h0.9M186.8 473.4h0.9M178.7 478.9h0.9M179.0 474.7h0.9M189.2 477.2h0.9M181.1 475.3h0.9M183.6 473.8h0.9M186.8 474.1h0.9M185.2 474.1h0.9M188.3 473.6h0.9M186.1 475.0h0.9M188.0 474.7h0.9M185.5 473.8h0.9M184.6 470.8h0.9M184.7 475.3h0.9M179.2 475.1h0.9M179.2 474.0h0.9M182.9 475.0h0.9M183.0 472.5h0.9M184.0 475.9h0.9M178.2 478.7h0.9M189.7 474.3h0.9M182.5 471.2h0.9M182.3 472.3h0.9M185.3 474.7h0.9M180.2 477.9h0.9M184.2 477.3h0.9M187.4 472.7h0.9M184.4 472.5h0.9M189.7 475.1h0.9M187.5 473.6h0.9M187.1 474.2h0.9M189.4 473.0h0.9M185.0 476.9h0.9M189.5 474.6h0.9M182.7 472.7h0.9M180.7 475.6h0.9M178.5 474.9h0.9M176.4 480.8h0.9M183.7 476.5h0.9M189.2 478.1h0.9M178.6 477.0h0.9M186.7 477.3h0.9M177.1 477.0h0.9M187.4 473.2h0.9M179.9 477.6h0.9M190.4 475.8h0.9M189.5 477.0h0.9M188.3 477.7h0.9M182.7 476.9h0.9M181.8 475.5h0.9M183.8 471.8h0.9M183.4 476.2h0.9M186.7 476.5h0.9M175.8 480.1h0.9M178.6 474.6h0.9M189.4 476.5h0.9M180.4 471.0h0.9M179.5 473.1h0.9M179.6 475.3h0.9M187.0 470.5h0.9M176.5 478.1h0.9M178.1 474.2h0.9M189.6 477.8h0.9M185.9 476.4h0.9M178.0 474.5h0.9M187.6 472.8h0.9M183.9 476.1h0.9M183.2 474.4h0.9M182.9 476.6h0.9M183.6 472.8h0.9M189.6 472.9h0.9M185.8 477.1h0.9M185.2 472.5h0.9M186.4 471.4h0.9M177.2 479.2h0.9M185.5 470.7h0.9M185.6 473.7h0.9M181.6 474.9h0.9M180.6 473.2h0.9M180.4 472.7h0.9M175.9 476.9h0.9M177.1 476.2h0.9M187.5 473.4h0.9M178.5 477.1h0.9M181.2 476.5h0.9M178.5 473.3h0.9M184.4 473.4h0.9M187.8 471.9h0.9M181.9 475.8h0.9M189.0 475.6h0.9M177.8 476.2h0.9M188.5 477.2h0.9M183.3 475.0h0.9M186.5 475.7h0.9M178.5 476.1h0.9M179.0 475.4h0.9M183.1 471.6h0.9M186.4 475.2h0.9M177.2 475.4h0.9M183.3 472.9h0.9M181.3 473.7h0.9M176.2 477.4h0.9M185.9 474.2h0.9M186.9 474.8h0.9M177.4 477.4h0.9M187.5 474.4h0.9M186.1 477.6h0.9M178.8 472.8h0.9" stroke="#222" stroke-width="0.9" fill="none"/>
<line x1="210" y1="493.7" x2="253.8" y2="493.7" stroke="#666" stroke-width="1"/>
<line x1="233" y1="493.7" x2="233" y2="537.7" stroke="#666" stroke-width="1"/>
<path d="M220.0 525.6h1M219.2 505.2h1M217.9 511.9h1M217.8 507.8h1M219.6 501.6h1M218.4 500.0h1M219.4 530.4h1M219.1 522.2h1M219.3 525.0h1M220.4 504.5h1M219.2 525.3h1M218.6 495.8h1M217.0 506.7h1M219.6 513.5h1M219.2 506.2h1M219.4 503.5h1M219.1 507.0h1M219.3 525.1h1M218.7 508.0h1M218.8 505.9h1M218.4 529.4h1M218.8 529.5h1M219.5 529.2h1M218.5 508.7h1M218.4 514.6h1M221.3 505.2h1M221.5 515.9h1M218.5 519.3h1M219.8 519.7h1M221.3 518.8h1M218.9 517.5h1M218.9 499.7h1M219.6 520.6h1M219.8 500.8h1M219.2 504.9h1M218.4 530.3h1M219.9 511.6h1M219.5 518.7h1M219.5 526.3h1M220.8 506.6h1M218.8 496.3h1M218.6 504.6h1M220.6 518.4h1M217.4 504.9h1M218.4 508.7h1M219.1 530.7h1M219.4 530.2h1M219.7 517.3h1M219.7 514.0h1M218.7 517.1h1M220.1 504.9h1M219.8 501.4h1M219.7 499.9h1M218.8 507.3h1M219.5 531.0h1M219.2 511.1h1M219.0 530.2h1M218.8 525.1h1M219.0 501.2h1M218.7 502.3h1M218.7 507.5h1M218.2 521.6h1M218.4 505.0h1M218.5 521.1h1M217.6 509.0h1M218.8 525.3h1M217.4 517.8h1M219.1 497.7h1M219.4 495.9h1M218.9 521.8h1M220.7 510.9h1M219.1 523.1h1M218.1 517.3h1M218.9 502.8h1M220.0 508.3h1M218.2 513.0h1M219.8 524.0h1M220.4 508.8h1M217.8 513.5h1M218.1 510.8h1M221.1 513.9h1M219.9 518.1h1M218.6 499.5h1M218.7 524.7h1M218.4 513.2h1M220.3 515.1h1M217.8 522.5h1M219.6 519.1h1M219.5 516.4h1M218.9 499.9h1M218.4 500.9h1M221.5 516.0h1M219.3 505.8h1M220.3 522.8h1M219.7 499.1h1M219.4 528.3h1M219.5 496.2h1M217.1 505.4h1M219.9 513.4h1M220.5 506.2h1M221.4 514.7h1M218.5 525.4h1M219.8 500.3h1M218.1 520.2h1M220.7 499.5h1M217.2 523.3h1M219.8 517.7h1M220.5 506.5h1M218.5 529.3h1M219.9 510.8h1M220.8 508.9h1M218.9 509.5h1M220.3 526.3h1M218.8 525.6h1M217.4 524.7h1M219.3 517.0h1M216.9 512.5h1M218.9 531.3h1M218.4 499.1h1M217.1 517.4h1M218.4 521.4h1M218.0 516.8h1M218.8 502.4h1M218.0 521.3h1M218.9 527.3h1M219.1 509.6h1M219.9 508.9h1M219.1 499.1h1M220.9 514.8h1M219.1 525.1h1M221.2 520.5h1M219.8 503.5h1M218.9 515.4h1M218.6 518.3h1M219.1 516.7h1M220.7 514.0h1M218.3 507.4h1M218.1 523.3h1M219.5 512.0h1M218.2 507.1h1M219.9 517.4h1M218.2 524.4h1M217.7 520.9h1M220.1 515.4h1M217.4 510.2h1M218.2 501.2h1M219.4 499.8h1M219.2 508.6h1M219.5 523.6h1M218.6 509.5h1M221.0 515.5h1M218.9 497.9h1M217.1 514.3h1M218.9 509.3h1M218.2 506.7h1M219.1 510.3h1M218.5 502.5h1M218.5 523.2h1M217.5 515.0h1M218.7 526.4h1M220.1 524.0h1M216.9 520.0h1M218.8 504.8h1M220.3 497.7h1M217.8 513.9h1M217.8 505.3h1M219.5 506.8h1M220.3 512.3h1M219.5 500.4h1M217.9 505.5h1M220.8 521.7h1M219.5 500.7h1M220.4 510.3h1M219.0 519.0h1M221.5 514.0h1M219.3 503.3h1M217.9 514.1h1M220.0 515.8h1M218.9 516.6h1M218.5 501.1h1M218.7 498.2h1M219.7 499.8h1M219.1 517.1h1M217.5 504.0h1M218.1 503.6h1M219.4 514.1h1M218.8 529.2h1M220.1 501.9h1M219.2 523.6h1M218.4 527.0h1M220.7 512.6h1M220.0 525.6h1M219.4 518.0h1M218.4 519.9h1M219.8 510.0h1M219.1 509.5h1M221.0 521.1h1M217.5 526.3h1M218.5 505.0h1M219.5 510.1h1M219.0 522.2h1M217.9 513.9h1M220.1 502.7h1M219.3 512.2h1M218.6 506.8h1M221.2 504.3h1M220.4 517.2h1M218.8 520.9h1M219.4 501.0h1M218.5 530.1h1M217.1 516.7h1M218.6 521.0h1M219.6 507.0h1M221.2 520.3h1M218.3 503.2h1M217.8 518.3h1M219.8 501.7h1M219.8 522.2h1M219.1 523.7h1M217.5 504.0h1M219.5 514.9h1M219.3 529.8h1M217.7 511.0h1M219.2 499.7h1M219.9 510.3h1M220.2 514.4h1M220.4 511.9h1M221.4 513.9h1M217.9 520.1h1M219.7 518.3h1M219.5 528.0h1M220.1 503.4h1M220.1 510.2h1M218.9 510.1h1M219.6 507.4h1M220.1 523.7h1M219.8 510.5h1M218.6 530.3h1M219.4 512.3h1M220.2 524.2h1M219.2 505.4h1M218.9 497.9h1M218.4 505.0h1M220.1 497.4h1M218.3 518.0h1M218.9 502.0h1M219.4 497.0h1M219.1 510.4h1M218.9 500.9h1M219.8 519.9h1M219.9 501.0h1M218.8 499.9h1M219.8 508.1h1M216.9 509.3h1M218.9 507.3h1M220.8 502.3h1M220.0 530.0h1M219.2 517.2h1M218.7 522.5h1M219.6 530.9h1M221.2 514.2h1M220.7 500.2h1M220.3 501.4h1M218.9 507.7h1M219.6 496.2h1M219.3 523.0h1M218.3 513.0h1M218.9 520.4h1M218.6 503.7h1M219.4 528.1h1M219.8 500.7h1M218.4 522.2h1M218.5 521.8h1M218.6 499.0h1M218.7 519.6h1M218.9 508.5h1M219.7 509.4h1M220.2 500.2h1M218.4 511.0h1M219.9 524.0h1M219.1 513.0h1M218.7 510.9h1M220.3 524.7h1M219.9 523.8h1M218.8 521.6h1M218.2 505.1h1M219.9 501.6h1M218.8 505.4h1M220.0 518.2h1M219.1 531.0h1M217.8 518.0h1M219.2 522.4h1M219.5 509.4h1M218.1 503.6h1M219.0 520.2h1M221.1 507.7h1M219.5 527.7h1M218.4 526.6h1M219.4 508.4h1M220.2 520.5h1M218.9 512.5h1M218.6 509.9h1M219.2 510.2h1M217.3 514.7h1M218.5 499.9h1M221.3 505.8h1M218.8 521.6h1M219.1 521.6h1M219.6 513.1h1M218.8 505.4h1M218.9 522.3h1M220.8 509.1h1M218.7 506.4h1M220.7 508.6h1M218.4 505.4h1M220.1 503.5h1M219.4 501.7h1M219.3 520.6h1M219.2 505.3h1M219.4 499.0h1M219.7 505.1h1M219.1 497.5h1M218.6 512.2h1M219.5 511.7h1M219.0 524.5h1M220.2 515.4h1M221.0 521.8h1M219.9 507.6h1M218.9 496.4h1M218.7 502.7h1M219.5 507.5h1M220.5 509.7h1M219.8 501.2h1M219.1 519.3h1M219.4 517.8h1M220.7 515.9h1M217.1 522.0h1M220.0 508.4h1M218.0 521.9h1M217.1 510.5h1M218.7 519.1h1M218.9 505.0h1M218.8 500.0h1M220.0 516.4h1M217.2 514.0h1M219.1 505.4h1M217.7 525.2h1M217.3 520.3h1M219.8 509.4h1M221.4 510.8h1M218.7 502.1h1M219.7 519.7h1M219.0 511.9h1M219.6 505.0h1M218.8 524.8h1M219.9 510.4h1M220.4 510.0h1M219.2 518.6h1M218.2 519.1h1M217.8 502.1h1M219.0 524.9h1M218.6 527.9h1M219.6 528.1h1M219.4 502.3h1M221.2 511.8h1M218.1 508.6h1M220.2 503.5h1M219.5 499.8h1M218.2 508.8h1M217.5 506.3h1M218.6 528.4h1M217.0 521.1h1M219.4 508.2h1M217.9 509.9h1M220.1 523.9h1M219.5 496.2h1M219.6 524.0h1M219.7 509.5h1M219.3 503.9h1M220.2 520.9h1M220.0 499.4h1M218.5 517.7h1M218.1 515.3h1M218.0 510.8h1M218.4 503.9h1M219.2 522.3h1M218.3 503.7h1M219.7 500.0h1M219.3 525.2h1M218.5 522.5h1M218.1 509.9h1M218.6 499.9h1M219.7 505.0h1M218.9 521.6h1M220.0 515.2h1M220.2 511.6h1M219.4 526.4h1M218.8 518.0h1M218.6 523.9h1M219.1 519.5h1M219.6 517.5h1M217.7 522.6h1M219.7 524.0h1M219.6 501.1h1M219.6 505.0h1M220.6 515.1h1M218.7 499.7h1M219.2 508.5h1M219.3 500.1h1M218.2 519.7h1M219.1 518.3h1M220.8 521.6h1M219.8 509.9h1M217.7 513.7h1M218.3 516.5h1M217.8 522.3h1M220.1 503.1h1M219.7 515.1h1M220.6 498.5h1M219.4 496.3h1M218.4 512.1h1M218.3 518.2h1M218.6 497.1h1M220.6 515.3h1M220.4 521.0h1M219.8 515.1h1M221.2 514.2h1M219.0 515.4h1M219.2 509.6h1M219.5 513.1h1M219.1 516.1h1M220.2 512.3h1M219.5 521.9h1M220.3 520.0h1M218.6 504.9h1M219.7 523.3h1M217.7 517.3h1M219.1 505.9h1M217.6 509.1h1M219.8 509.4h1M219.8 519.1h1M219.4 524.0h1M218.6 511.4h1M217.5 514.9h1M219.6 520.8h1M219.3 525.3h1M219.3 500.2h1M217.1 517.7h1M218.0 520.8h1M219.4 504.7h1M219.3 530.7h1M219.8 516.5h1M219.7 496.5h1M220.0 498.6h1M219.3 507.8h1M219.1 510.6h1M219.2 503.5h1M217.1 508.6h1M217.8 509.5h1M219.1 529.5h1M219.5 527.1h1M218.9 530.6h1M217.2 510.6h1M218.2 503.7h1M218.0 513.7h1M219.8 528.3h1M221.2 512.3h1M220.1 514.5h1M217.6 524.4h1M218.8 514.6h1M219.9 520.5h1M219.5 508.2h1M218.4 505.3h1M218.9 529.9h1M217.2 523.3h1M219.9 515.6h1M220.1 508.1h1M217.5 515.5h1M222.5 521.5h1M220.8 500.8h1M218.0 508.1h1M219.7 502.2h1M218.6 522.0h1M220.1 523.8h1M219.3 519.9h1M219.0 509.7h1M218.8 518.3h1M218.9 513.8h1M219.5 522.8h1M217.7 506.9h1M219.4 526.9h1M219.0 496.3h1M218.7 509.1h1M219.5 506.6h1M218.3 525.2h1M217.7 516.5h1M218.4 525.4h1M219.2 501.1h1M219.1 519.5h1M217.9 501.8h1M218.7 505.8h1M218.0 525.0h1M217.2 508.5h1M220.7 503.8h1M219.6 517.3h1M220.3 497.8h1M220.7 515.5h1M217.5 512.1h1M218.5 509.7h1M219.9 519.2h1M220.0 515.2h1M219.2 520.4h1M218.3 504.9h1M220.8 511.0h1M219.5 526.7h1M220.3 511.9h1M218.7 515.3h1M219.1 498.3h1M219.6 498.3h1M220.5 507.0h1M220.0 527.6h1M218.9 529.3h1M219.9 518.6h1M219.0 513.6h1M220.1 516.5h1M222.0 519.4h1M219.0 502.3h1M218.2 525.1h1M219.5 518.6h1M220.4 515.1h1M222.2 510.5h1M219.2 495.6h1M219.8 516.3h1M219.6 507.0h1M219.4 520.5h1M217.1 507.5h1M219.1 518.6h1M219.5 513.4h1M218.4 516.2h1M219.7 522.5h1M218.7 496.1h1M218.7 521.1h1M219.3 527.7h1M219.1 507.7h1M220.1 518.5h1M220.3 510.5h1M219.2 505.8h1M221.5 512.8h1M218.8 497.8h1M219.5 503.3h1M219.0 506.2h1M219.0 503.2h1M220.1 514.8h1M218.9 512.9h1M218.3 508.8h1M220.0 518.0h1M218.7 499.9h1M219.8 500.0h1M218.8 503.8h1M219.8 528.5h1M237.7 504.5h1M230.1 511.6h1M239.7 512.9h1M234.6 502.6h1M236.0 506.9h1M236.3 510.1h1M235.2 512.0h1M236.8 508.1h1M236.1 505.6h1M236.4 515.0h1M236.2 510.0h1M238.2 503.7h1M236.3 509.7h1M231.3 507.5h1M239.3 507.3h1M238.1 501.1h1M238.1 503.6h1M238.4 506.2h1M234.5 506.3h1M233.4 498.7h1M235.3 500.1h1M234.1 512.9h1M241.3 517.2h1M235.5 509.6h1M239.2 498.9h1M235.8 500.7h1M237.2 496.5h1M234.9 506.3h1M236.9 502.4h1M238.0 507.8h1M235.7 514.6h1M234.8 510.0h1M237.2 509.0h1M232.2 506.1h1M236.2 501.1h1M235.4 504.2h1M234.7 504.3h1M235.5 505.7h1M241.0 515.3h1M237.0 512.0h1M235.9 503.8h1M232.9 502.6h1M237.3 503.1h1M236.6 499.2h1M235.9 506.3h1M235.1 504.4h1M233.6 500.8h1M240.9 505.6h1M234.8 509.4h1M237.4 517.7h1M236.2 508.5h1M236.2 502.9h1M235.8 505.7h1M237.2 510.8h1M232.7 503.5h1M235.6 502.8h1M236.5 503.7h1M236.5 504.9h1M235.0 512.0h1M236.1 506.3h1M239.6 506.3h1M235.9 506.3h1M239.7 506.2h1M231.8 505.6h1M239.5 503.0h1M231.5 501.6h1M236.9 513.5h1M231.6 503.0h1M236.7 505.1h1M238.1 504.9h1M237.6 502.1h1M237.9 500.1h1M232.0 508.1h1M234.9 505.1h1M234.5 512.3h1M236.0 511.6h1M232.4 496.1h1M235.7 500.5h1M234.2 500.1h1M237.7 516.1h1M241.3 503.4h1M237.5 505.2h1M240.7 501.4h1M232.2 509.0h1M238.9 508.6h1M234.0 516.2h1M234.9 505.8h1M235.8 511.8h1M235.8 501.6h1M236.1 518.3h1M234.6 509.4h1M236.1 506.9h1M238.8 503.9h1M233.1 505.7h1M236.5 507.5h1M236.0 505.1h1M236.3 505.2h1M239.4 503.9h1M238.8 500.2h1M235.4 507.9h1M238.7 503.8h1M239.2 509.5h1M234.8 507.1h1M238.7 509.6h1M231.7 520.9h1M235.2 505.6h1M235.2 509.2h1M232.1 514.2h1M236.5 506.3h1M239.9 506.4h1M232.8 505.9h1M236.9 498.4h1M238.8 508.3h1M233.5 499.2h1M237.8 505.6h1M236.8 510.9h1M234.7 507.5h1M234.9 496.9h1M231.1 506.0h1M236.4 502.5h1M234.1 498.9h1M232.3 507.9h1M236.2 518.6h1M237.3 508.6h1M239.4 513.0h1M235.9 508.0h1M236.0 508.5h1M239.6 517.5h1M235.0 512.3h1M237.8 506.1h1M235.6 509.3h1M236.2 510.1h1M235.6 506.0h1M239.1 506.6h1M236.6 517.5h1M238.6 513.1h1M235.9 505.6h1M234.1 512.6h1M235.1 503.4h1M236.5 512.0h1M235.5 510.8h1M236.2 502.2h1M240.7 514.6h1M235.3 514.8h1M234.3 514.5h1M238.9 514.0h1M234.1 506.3h1M236.9 510.2h1M235.1 511.6h1M239.7 511.4h1M236.2 509.8h1M235.2 509.3h1M237.3 513.3h1M233.9 508.6h1M236.1 498.7h1M237.0 512.0h1M241.7 509.3h1M234.0 500.4h1M237.5 504.9h1M236.2 502.7h1M239.2 500.1h1M236.6 516.1h1M234.7 512.8h1M236.9 501.6h1M236.0 513.1h1M231.8 509.8h1M232.6 512.6h1M236.2 507.8h1M238.0 510.2h1M239.8 510.5h1M234.9 504.6h1M237.8 500.9h1M237.2 510.4h1M234.4 506.0h1M239.6 504.5h1M233.7 505.5h1M236.2 512.6h1M235.8 506.0h1M237.3 515.3h1M235.5 501.2h1M238.1 510.8h1M237.1 512.3h1M233.3 503.8h1M234.7 497.2h1M235.8 507.3h1M236.7 511.3h1M234.8 508.0h1M238.5 508.0h1M240.1 497.7h1M237.6 509.1h1M236.9 508.4h1M232.9 508.6h1M237.7 508.6h1M236.2 511.4h1M235.6 501.7h1M237.6 512.3h1M235.3 502.1h1M234.2 511.9h1M241.2 518.4h1M236.6 503.3h1M238.9 507.4h1M235.1 508.2h1M237.1 507.1h1M234.5 506.5h1M233.9 503.2h1M233.6 511.1h1M240.6 512.6h1M240.0 507.6h1M238.6 504.1h1M233.8 503.4h1M236.7 500.3h1M237.3 504.9h1M237.5 498.1h1M234.2 496.1h1M238.0 505.0h1M240.5 508.5h1M238.8 503.9h1M237.8 501.5h1M236.8 510.6h1M234.9 505.0h1M236.2 511.5h1M240.2 509.7h1M235.4 503.7h1M237.1 507.6h1M238.4 510.0h1M237.5 506.2h1M239.3 511.7h1M233.9 517.0h1M236.6 500.3h1M235.2 505.6h1M235.3 504.2h1M235.8 514.6h1M236.4 513.2h1M237.7 507.5h1M234.8 509.3h1M237.0 509.1h1M236.9 507.3h1M238.6 512.3h1M236.3 502.4h1M238.2 506.7h1M237.3 505.5h1M231.7 510.8h1M238.8 512.1h1M235.7 505.3h1M234.3 505.3h1M235.4 504.1h1M236.2 505.5h1M234.9 504.0h1M236.3 503.1h1M229.7 510.5h1M233.7 506.4h1M236.4 513.8h1M239.7 516.8h1M240.2 507.3h1M235.5 509.5h1M236.6 510.3h1M233.4 500.4h1M236.3 501.7h1M237.3 514.4h1M232.1 496.8h1M237.5 520.0h1M237.0 512.3h1M232.7 508.6h1M237.0 511.1h1M231.9 511.5h1M231.2 502.8h1M237.2 499.9h1M237.8 505.6h1M233.2 509.2h1M236.2 507.0h1M236.9 504.1h1M236.9 502.5h1M236.4 501.8h1M239.5 506.1h1M237.2 499.5h1M235.9 506.9h1M236.1 502.7h1M241.9 505.9h1M238.3 500.2h1M236.1 505.8h1M234.4 509.1h1M236.0 504.4h1M237.8 502.4h1M235.3 511.6h1M234.2 502.5h1M238.1 497.2h1M238.5 517.3h1M235.5 502.7h1M233.9 503.9h1M233.5 515.2h1M234.8 513.4h1M237.6 511.1h1M235.2 508.0h1M234.6 509.8h1M237.8 512.2h1M237.6 505.2h1M238.2 507.0h1M239.5 505.2h1M236.5 502.9h1M234.3 506.1h1M238.9 512.0h1M235.9 504.4h1M235.6 505.9h1M232.8 505.5h1M234.9 504.4h1M233.2 506.1h1M239.5 500.0h1M234.4 510.9h1M235.5 501.9h1M240.1 507.4h1M239.2 505.9h1M240.2 508.9h1M232.2 511.1h1M239.8 504.9h1M232.6 503.9h1M236.6 509.2h1M235.9 509.7h1M237.0 505.6h1M234.0 511.6h1M234.6 509.2h1M236.7 511.8h1M233.1 504.4h1M230.4 509.9h1M236.4 514.3h1M236.0 514.6h1M236.0 516.5h1M235.6 504.3h1M237.3 506.9h1M230.1 504.2h1M239.3 511.9h1M237.8 508.5h1M232.0 503.7h1M238.8 505.6h1M236.3 508.1h1M239.8 502.6h1M237.7 500.5h1M235.0 506.0h1M232.8 510.7h1M236.9 504.9h1M236.6 502.5h1M235.4 513.1h1M238.5 503.4h1M235.9 497.0h1M237.9 509.3h1M235.7 513.2h1M231.8 498.9h1M235.9 518.2h1M230.9 510.7h1M238.5 500.8h1M232.8 501.9h1M237.3 501.8h1M237.7 512.2h1M236.4 498.3h1M233.4 500.0h1M240.2 506.6h1M237.8 510.9h1M232.4 505.2h1M235.7 509.9h1M235.9 499.9h1M238.8 508.5h1M236.3 510.0h1M235.7 510.3h1M237.0 507.3h1M236.8 509.1h1M237.3 506.4h1M235.1 524.1h1M234.3 507.8h1M236.8 515.1h1M232.6 504.8h1M231.6 498.7h1M237.1 507.7h1M233.1 509.8h1M231.6 506.0h1M238.3 502.2h1M235.5 506.4h1M234.3 504.2h1M232.2 506.1h1M233.4 519.1h1M236.7 506.2h1M233.3 512.6h1M236.9 508.3h1M242.6 514.2h1M233.9 518.2h1M237.1 522.6h1M235.4 510.0h1M234.7 511.2h1M236.6 504.3h1M238.9 505.5h1M237.5 502.8h1M237.4 508.3h1M238.5 507.3h1M236.4 510.7h1M235.6 511.6h1M241.8 508.7h1M238.2 511.7h1M236.6 506.9h1M240.5 504.9h1M237.1 499.3h1M238.0 508.6h1M239.0 503.4h1M232.6 507.5h1M237.2 504.7h1M235.8 506.1h1M236.8 507.3h1M238.5 512.4h1M235.2 506.2h1M231.6 509.5h1M237.8 512.8h1M234.4 501.3h1M236.2 502.9h1M234.2 501.0h1M235.0 507.6h1M230.9 501.7h1M235.4 513.5h1M237.3 497.8h1M238.0 508.4h1M235.3 508.9h1M235.0 511.5h1M238.8 504.5h1M234.2 500.0h1M237.6 506.6h1M232.6 507.1h1M237.1 504.9h1M238.7 509.6h1M239.0 512.6h1M236.9 505.9h1M234.7 509.8h1M236.2 510.3h1M237.0 497.9h1M238.0 506.8h1M236.2 514.9h1M238.7 503.0h1M232.9 510.1h1M240.1 504.6h1M236.1 504.6h1M240.0 504.4h1M238.6 508.6h1M236.3 505.7h1M232.1 503.4h1M233.7 502.2h1M235.8 501.1h1M233.9 495.9h1M234.3 510.9h1M236.0 507.4h1M235.9 504.5h1M233.9 513.9h1M240.1 503.5h1M237.3 507.2h1M238.8 510.0h1M238.1 500.3h1M238.7 505.6h1M236.5 509.0h1M236.6 514.6h1M236.4 506.9h1M235.7 503.3h1M235.5 498.4h1M236.0 511.7h1M237.4 507.5h1M232.2 505.7h1M239.2 512.3h1M232.4 505.9h1M239.2 499.0h1M235.8 498.7h1M232.9 515.5h1M236.4 499.4h1M233.3 506.8h1M237.6 508.8h1M236.5 505.0h1M235.2 513.9h1M239.3 496.8h1M235.8 514.0h1M239.1 503.5h1M236.2 501.7h1M237.2 509.0h1M235.2 497.0h1M234.4 517.6h1M236.6 507.3h1M236.2 520.4h1M235.9 510.3h1M238.4 499.8h1M235.1 505.1h1M233.7 510.5h1M237.0 509.3h1M235.6 516.4h1M235.2 506.1h1M233.3 499.9h1M237.5 497.0h1M235.2 507.2h1M237.3 505.7h1M235.9 513.9h1M236.3 510.1h1M235.7 502.1h1M235.5 502.2h1M237.1 505.3h1M234.8 505.3h1M236.7 511.4h1M232.1 513.4h1M241.0 497.0h1M232.2 506.3h1M238.8 504.1h1M237.3 509.3h1M236.8 511.0h1M235.6 506.8h1M235.6 505.3h1M238.6 505.0h1M236.7 504.7h1M236.8 510.3h1M234.8 510.9h1M235.7 505.6h1M234.9 507.6h1M235.5 509.8h1M236.3 502.0h1M237.6 506.5h1M236.3 504.6h1M234.1 513.7h1M235.7 500.4h1M238.0 501.6h1M236.7 510.7h1M238.1 516.5h1M234.5 504.6h1M237.3 504.1h1M237.3 498.8h1M237.0 509.1h1M237.8 506.5h1M240.9 507.1h1M234.6 502.5h1M233.4 511.0h1M237.7 509.2h1M234.1 518.4h1M234.6 506.6h1M240.6 502.7h1M236.3 512.9h1M238.0 521.4h1M232.8 504.8h1M235.6 513.1h1M235.8 503.7h1M238.2 505.6h1M237.4 502.4h1M235.1 513.8h1M239.1 509.0h1M237.7 511.6h1M237.0 516.4h1M235.2 497.2h1M236.9 504.3h1M232.0 504.9h1M232.5 506.6h1M237.5 516.4h1M241.2 509.2h1M235.6 507.1h1M233.5 504.7h1M233.7 503.2h1M238.4 500.2h1M238.5 509.8h1M233.0 517.2h1M228.1 515.9h1M235.0 496.5h1M235.8 498.9h1M236.8 512.9h1M237.3 519.2h1M229.7 504.0h1M228.6 498.8h1M234.4 515.6h1M239.9 496.5h1M235.6 517.2h1M231.6 513.9h1M230.4 516.5h1M235.8 505.6h1M232.6 510.3h1M237.2 500.6h1M239.0 519.3h1M234.9 508.2h1M233.6 516.4h1M231.6 500.2h1M231.8 517.8h1M229.6 502.6h1M236.9 506.8h1M228.7 498.8h1M233.2 506.8h1M233.6 504.5h1M236.7 503.2h1M233.6 508.7h1M228.0 500.1h1M228.6 514.7h1M234.8 520.0h1M231.4 501.4h1M234.3 518.1h1M238.3 507.7h1M234.6 516.4h1M239.9 516.0h1M233.4 500.1h1M234.9 507.1h1M235.8 522.1h1M240.7 507.6h1M228.2 500.2h1M239.9 505.2h1M238.6 510.8h1M235.7 499.2h1M233.6 513.2h1M231.9 516.4h1M228.9 514.8h1M240.4 503.4h1M231.7 511.7h1M231.9 511.7h1M228.9 500.8h1M227.3 510.0h1M237.0 498.9h1M231.1 506.2h1M234.1 504.0h1M229.4 503.7h1M236.6 506.3h1M241.4 503.6h1M240.4 508.7h1M228.1 503.8h1M231.7 498.8h1M237.6 519.2h1M241.7 514.9h1M233.1 498.3h1M233.2 509.7h1M231.3 513.1h1M227.3 510.6h1M235.8 504.2h1M234.6 506.0h1M229.3 504.4h1M227.5 498.9h1M235.2 505.5h1M238.7 514.0h1M231.3 515.1h1M237.5 507.5h1M233.2 522.4h1M232.4 513.2h1M233.6 520.9h1M230.4 513.8h1M228.3 503.6h1M229.1 503.9h1M235.6 514.6h1M236.3 515.6h1M228.7 508.5h1M233.6 519.5h1M232.5 514.8h1M232.9 519.9h1M229.6 516.9h1M231.9 506.5h1M239.3 499.7h1M237.9 519.0h1M235.2 506.1h1M226.7 504.4h1M227.3 508.8h1M233.8 513.6h1M237.2 521.3h1M232.8 520.0h1M232.6 502.2h1M229.6 512.6h1M232.4 507.2h1M233.6 522.0h1M238.9 515.5h1M233.6 516.5h1M236.4 518.0h1M235.3 517.9h1M237.7 499.7h1M239.0 515.8h1M230.2 499.0h1M238.0 508.4h1M229.4 509.1h1M239.8 499.5h1M239.5 510.5h1M236.1 498.2h1M240.3 497.3h1M232.6 501.3h1M227.8 511.1h1M237.8 500.6h1M231.3 506.6h1M229.5 512.3h1M239.4 512.7h1M232.5 499.2h1M235.8 518.4h1M228.9 518.6h1M233.3 517.7h1M238.4 504.6h1M230.4 500.2h1M228.7 506.6h1M232.3 501.9h1M233.9 508.7h1M236.7 501.2h1M235.0 500.9h1M234.3 498.8h1M241.8 500.4h1M230.2 510.1h1M233.5 518.4h1M228.9 502.1h1M234.1 503.6h1M235.4 520.6h1M230.5 512.1h1M239.8 508.8h1M236.1 518.3h1M231.5 519.5h1M236.6 506.9h1M241.1 499.4h1M240.1 501.3h1M231.9 503.5h1M233.7 509.5h1M232.2 507.2h1M240.0 504.8h1M233.7 505.8h1M233.6 520.2h1M229.8 508.0h1M235.0 513.6h1M233.0 509.3h1M241.1 512.5h1M228.5 505.0h1M236.1 517.4h1M234.2 503.3h1M236.0 509.3h1M228.0 513.1h1M239.0 514.2h1M235.6 499.6h1M230.8 500.5h1M230.0 519.3h1M229.4 499.5h1M233.3 512.3h1M237.5 496.3h1M239.9 497.2h1M238.0 522.3h1M240.5 502.1h1M231.7 500.6h1M240.6 508.9h1M241.0 500.0h1M228.5 506.8h1M230.4 507.6h1M228.9 510.2h1M236.1 516.3h1M233.9 500.8h1M229.2 502.1h1M230.1 501.9h1M232.3 508.8h1M239.8 522.0h1M233.2 516.6h1M236.8 511.9h1M231.3 512.3h1M235.9 510.0h1M238.2 519.6h1M237.7 497.1h1M237.7 506.5h1M237.7 499.0h1M234.6 500.2h1M241.0 505.3h1M236.6 513.8h1M236.7 510.4h1M227.8 508.9h1M234.2 509.0h1M240.3 510.4h1M241.3 510.2h1M233.7 498.5h1M240.3 507.4h1M229.1 515.7h1M227.4 513.3h1M231.2 519.7h1M240.9 501.2h1M229.6 513.0h1M231.9 509.5h1M233.7 500.1h1M238.9 503.8h1M230.6 504.2h1M237.3 515.8h1M235.1 513.0h1M230.3 504.6h1M229.6 511.7h1M233.8 501.5h1M232.8 518.5h1M232.8 506.9h1M234.2 521.4h1M236.5 503.5h1M239.0 514.3h1M233.3 510.0h1M231.8 518.1h1M240.2 506.8h1M233.4 508.6h1M239.9 503.6h1M233.5 499.5h1M231.0 499.3h1M228.2 507.1h1M234.2 521.0h1M231.3 513.0h1M229.5 512.3h1M237.7 508.3h1M240.6 502.0h1M239.4 507.1h1M240.0 517.0h1M237.7 503.1h1M230.6 510.1h1M232.6 506.3h1M233.0 508.1h1M237.1 508.9h1M233.2 514.4h1M239.5 506.1h1M235.4 518.5h1M238.5 497.7h1M229.3 499.9h1M238.2 498.2h1M231.0 508.3h1M230.8 499.0h1M233.9 517.1h1M238.3 504.4h1M239.8 498.5h1M234.6 499.3h1M231.1 507.8h1M230.7 512.9h1M228.1 501.1h1M230.6 516.6h1M240.3 507.0h1M232.0 514.2h1" stroke="#000" stroke-width="1" fill="none"/>
<line x1="303.0" y1="418.0" x2="303.0" y2="559.5" stroke="#1a1a1a" stroke-width="1.2"/>
<line x1="302.5" y1="559.0" x2="486" y2="559.0" stroke="#1a1a1a" stroke-width="1.2"/>
<line x1="299.5" y1="559.0" x2="303.0" y2="559.0" stroke="#1a1a1a" stroke-width="1"/>
<text x="294.2" y="562.6" font-size="10.3" text-anchor="end">0</text>
<line x1="299.5" y1="530.9" x2="303.0" y2="530.9" stroke="#1a1a1a" stroke-width="1"/>
<text x="294.2" y="534.5" font-size="10.3" text-anchor="end">20</text>
<line x1="299.5" y1="502.8" x2="303.0" y2="502.8" stroke="#1a1a1a" stroke-width="1"/>
<text x="294.2" y="506.40000000000003" font-size="10.3" text-anchor="end">40</text>
<line x1="299.5" y1="474.7" x2="303.0" y2="474.7" stroke="#1a1a1a" stroke-width="1"/>
<text x="294.2" y="478.3" font-size="10.3" text-anchor="end">60</text>
<line x1="299.5" y1="446.6" x2="303.0" y2="446.6" stroke="#1a1a1a" stroke-width="1"/>
<text x="294.2" y="450.20000000000005" font-size="10.3" text-anchor="end">80</text>
<line x1="299.5" y1="418.5" x2="303.0" y2="418.5" stroke="#1a1a1a" stroke-width="1"/>
<text x="294.2" y="422.1" font-size="10.3" text-anchor="end">100</text>
<line x1="303.0" y1="559.0" x2="303.0" y2="562.5" stroke="#1a1a1a" stroke-width="1"/>
<text x="306" y="577.9" font-size="10.5" text-anchor="middle">0</text>
<line x1="339.4" y1="559.0" x2="339.4" y2="562.5" stroke="#1a1a1a" stroke-width="1"/>
<text x="339.5" y="577.9" font-size="10.5" text-anchor="middle">1</text>
<line x1="375.8" y1="559.0" x2="375.8" y2="562.5" stroke="#1a1a1a" stroke-width="1"/>
<text x="374" y="577.9" font-size="10.5" text-anchor="middle">2</text>
<line x1="412.2" y1="559.0" x2="412.2" y2="562.5" stroke="#1a1a1a" stroke-width="1"/>
<text x="411.7" y="577.9" font-size="10.5" text-anchor="middle">3</text>
<line x1="448.6" y1="559.0" x2="448.6" y2="562.5" stroke="#1a1a1a" stroke-width="1"/>
<text x="448.6" y="577.9" font-size="10.5" text-anchor="middle">4</text>
<line x1="485.0" y1="559.0" x2="485.0" y2="562.5" stroke="#1a1a1a" stroke-width="1"/>
<text x="485.3" y="577.9" font-size="10.5" text-anchor="middle">5</text>
<path d="M302.9 557.3C304.4 556.1 309.1 556.0 312.2 550.4C315.3 544.8 314.0 540.7 321.5 523.7C329.0 506.7 345.3 464.7 357.4 448.6C369.5 432.5 372.9 432.1 394.2 427.2C415.5 422.3 470.0 420.5 485.1 419.1" fill="none" stroke="#000" stroke-width="1.5"/>
<path d="M297.3 557.3L302.9 551.7L308.5 557.3L302.9 562.9Z" fill="#000"/>
<path d="M306.6 550.4L312.2 544.8L317.8 550.4L312.2 556.0Z" fill="#000"/>
<path d="M315.9 523.7L321.5 518.1L327.1 523.7L321.5 529.3Z" fill="#000"/>
<path d="M351.8 448.6L357.4 443.0L363.0 448.6L357.4 454.2Z" fill="#000"/>
<path d="M388.6 427.2L394.2 421.6L399.8 427.2L394.2 432.8Z" fill="#000"/>
<path d="M479.5 419.1L485.1 413.5L490.7 419.1L485.1 424.7Z" fill="#000"/>
<text x="401.2" y="454.2" font-size="11.6" text-anchor="start">EC<tspan font-size="8.8" dy="2.6">50</tspan><tspan dy="-2.6"> = 1.0 µmol/L</tspan></text>
<text x="391.4" y="594.7" font-size="12.3" text-anchor="middle">RG7112 Concentration (µmol/L)</text>
<text x="273.8" y="493.2" font-size="12.2" text-anchor="middle" transform="rotate(-90 273.8 493.2)">Apoptosis (%)</text>
<line x1="380.8" y1="457.8" x2="380.8" y2="541.2" stroke="#3a3a3a" stroke-width="1.2"/>
<line x1="380.3" y1="540.7" x2="480" y2="540.7" stroke="#3a3a3a" stroke-width="1.2"/>
<line x1="378.3" y1="540.7" x2="380.8" y2="540.7" stroke="#3a3a3a" stroke-width="1"/>
<text x="374.0" y="543.6" font-size="8.3" text-anchor="end">0</text>
<line x1="378.3" y1="520.1" x2="380.8" y2="520.1" stroke="#3a3a3a" stroke-width="1"/>
<text x="374.0" y="523.0" font-size="8.3" text-anchor="end">20</text>
<line x1="378.3" y1="499.50000000000006" x2="380.8" y2="499.50000000000006" stroke="#3a3a3a" stroke-width="1"/>
<text x="374.0" y="502.40000000000003" font-size="8.3" text-anchor="end">40</text>
<line x1="378.3" y1="478.90000000000003" x2="380.8" y2="478.90000000000003" stroke="#3a3a3a" stroke-width="1"/>
<text x="374.0" y="481.8" font-size="8.3" text-anchor="end">60</text>
<line x1="378.3" y1="458.30000000000007" x2="380.8" y2="458.30000000000007" stroke="#3a3a3a" stroke-width="1"/>
<text x="374.0" y="461.20000000000005" font-size="8.3" text-anchor="end">80</text>
<line x1="380.8" y1="540.7" x2="380.8" y2="543.2" stroke="#3a3a3a" stroke-width="1"/>
<line x1="397.25" y1="540.7" x2="397.25" y2="543.2" stroke="#3a3a3a" stroke-width="1"/>
<line x1="413.7" y1="540.7" x2="413.7" y2="543.2" stroke="#3a3a3a" stroke-width="1"/>
<line x1="430.15" y1="540.7" x2="430.15" y2="543.2" stroke="#3a3a3a" stroke-width="1"/>
<line x1="446.6" y1="540.7" x2="446.6" y2="543.2" stroke="#3a3a3a" stroke-width="1"/>
<line x1="463.05" y1="540.7" x2="463.05" y2="543.2" stroke="#3a3a3a" stroke-width="1"/>
<line x1="479.5" y1="540.7" x2="479.5" y2="543.2" stroke="#3a3a3a" stroke-width="1"/>
<rect x="384.00" y="539.20" width="5.30" height="1.50" fill="#000"/>
<line x1="386.65" y1="538.9" x2="386.65" y2="539.2" stroke="#111" stroke-width="1"/>
<line x1="384.95" y1="538.9" x2="388.34999999999997" y2="538.9" stroke="#111" stroke-width="1"/>
<rect x="400.60" y="536.10" width="5.70" height="4.60" fill="#000"/>
<line x1="403.45000000000005" y1="535.6" x2="403.45000000000005" y2="536.1" stroke="#111" stroke-width="1"/>
<line x1="401.75000000000006" y1="535.6" x2="405.15000000000003" y2="535.6" stroke="#111" stroke-width="1"/>
<rect x="417.00" y="524.80" width="5.70" height="15.90" fill="#000"/>
<line x1="419.85" y1="521.6" x2="419.85" y2="524.8" stroke="#111" stroke-width="1"/>
<line x1="418.15000000000003" y1="521.6" x2="421.55" y2="521.6" stroke="#111" stroke-width="1"/>
<rect x="433.50" y="491.20" width="5.90" height="49.50" fill="#000"/>
<line x1="436.45" y1="484.4" x2="436.45" y2="491.2" stroke="#111" stroke-width="1"/>
<line x1="434.75" y1="484.4" x2="438.15" y2="484.4" stroke="#111" stroke-width="1"/>
<rect x="450.20" y="481.20" width="5.90" height="59.50" fill="#000"/>
<line x1="453.15" y1="476.9" x2="453.15" y2="481.2" stroke="#111" stroke-width="1"/>
<line x1="451.45" y1="476.9" x2="454.84999999999997" y2="476.9" stroke="#111" stroke-width="1"/>
<rect x="466.80" y="477.70" width="5.80" height="63.00" fill="#000"/>
<line x1="469.70000000000005" y1="475" x2="469.70000000000005" y2="477.7" stroke="#111" stroke-width="1"/>
<line x1="468.00000000000006" y1="475" x2="471.40000000000003" y2="475" stroke="#111" stroke-width="1"/>
</svg></body></html>
